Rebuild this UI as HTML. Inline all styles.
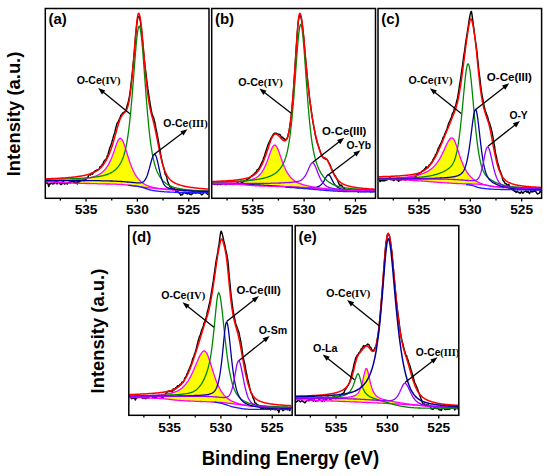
<!DOCTYPE html>
<html><head><meta charset="utf-8"><style>
html,body{margin:0;padding:0;background:#fff;}
svg{display:block;}
text{font-family:"Liberation Sans",sans-serif;font-weight:bold;fill:#000;}
.tk{font-size:13.7px;}
.pl{font-size:15px;}
.lb{font-size:10.3px;}
.lbs{font-family:"Liberation Serif",serif;font-weight:bold;}
.lbw{letter-spacing:0.75px;}
.ax{font-size:18.4px;}
.ax2{font-size:20.3px;}
</style></head><body>
<svg width="550" height="476" viewBox="0 0 550 476">
<defs>
<clipPath id="ca"><rect x="45.3" y="8.5" width="163.7" height="189.8"/></clipPath>
<clipPath id="cb"><rect x="211.7" y="8.5" width="163.8" height="189.8"/></clipPath>
<clipPath id="cc"><rect x="378" y="8.5" width="163.6" height="189.8"/></clipPath>
<clipPath id="cd"><rect x="128.8" y="225.6" width="163.4" height="189.7"/></clipPath>
<clipPath id="ce"><rect x="295.2" y="225.6" width="163.6" height="189.7"/></clipPath>
</defs>
<g clip-path="url(#ca)">
<path d="M45.8,181.1 L46.3,181.0 L46.8,181.0 L47.3,181.0 L47.8,181.0 L48.3,181.0 L48.8,181.0 L49.3,181.0 L49.8,181.0 L50.3,181.0 L50.8,181.0 L51.3,180.9 L51.8,180.9 L52.3,180.9 L52.8,180.9 L53.3,180.9 L53.8,180.9 L54.3,180.9 L54.8,180.8 L55.3,180.8 L55.8,180.8 L56.3,180.8 L56.8,180.8 L57.3,180.8 L57.8,180.8 L58.3,180.7 L58.8,180.7 L59.3,180.7 L59.8,180.7 L60.3,180.7 L60.8,180.7 L61.3,180.6 L61.8,180.6 L62.3,180.6 L62.8,180.6 L63.3,180.6 L63.8,180.5 L64.3,180.5 L64.8,180.5 L65.3,180.5 L65.8,180.4 L66.3,180.4 L66.8,180.4 L67.3,180.4 L67.8,180.3 L68.3,180.3 L68.8,180.3 L69.3,180.3 L69.8,180.2 L70.3,180.2 L70.8,180.2 L71.3,180.1 L71.8,180.1 L72.3,180.1 L72.8,180.0 L73.3,180.0 L73.8,180.0 L74.3,179.9 L74.8,179.9 L75.3,179.9 L75.8,179.8 L76.3,179.8 L76.8,179.7 L77.3,179.7 L77.8,179.6 L78.3,179.6 L78.8,179.5 L79.3,179.5 L79.8,179.4 L80.3,179.4 L80.8,179.3 L81.3,179.3 L81.8,179.2 L82.3,179.1 L82.8,179.1 L83.3,179.0 L83.8,178.9 L84.3,178.9 L84.8,178.8 L85.3,178.7 L85.8,178.6 L86.3,178.5 L86.8,178.4 L87.3,178.3 L87.8,178.3 L88.3,178.2 L88.8,178.0 L89.3,177.9 L89.8,177.8 L90.3,177.7 L90.8,177.6 L91.3,177.4 L91.8,177.3 L92.3,177.2 L92.8,177.0 L93.3,176.9 L93.8,176.7 L94.3,176.5 L94.8,176.4 L95.3,176.2 L95.8,176.0 L96.3,175.8 L96.8,175.5 L97.3,175.3 L97.8,175.1 L98.3,174.8 L98.8,174.5 L99.3,174.2 L99.8,173.9 L100.3,173.6 L100.8,173.3 L101.3,172.9 L101.8,172.5 L102.3,172.1 L102.8,171.7 L103.3,171.2 L103.8,170.8 L104.3,170.2 L104.8,169.7 L105.3,169.1 L105.8,168.5 L106.3,167.8 L106.8,167.1 L107.3,166.4 L107.8,165.6 L108.3,164.8 L108.8,163.9 L109.3,162.9 L109.8,161.9 L110.3,160.9 L110.8,159.8 L111.3,158.6 L111.8,157.4 L112.3,156.1 L112.8,154.8 L113.3,153.4 L113.8,152.0 L114.3,150.6 L114.8,149.1 L115.3,147.6 L115.8,146.2 L116.3,144.8 L116.8,143.5 L117.3,142.2 L117.8,141.1 L118.3,140.2 L118.8,139.4 L119.3,138.8 L119.8,138.4 L120.3,138.3 L120.8,138.5 L121.3,138.9 L121.8,139.4 L122.3,140.2 L122.8,141.1 L123.3,142.2 L123.8,143.5 L124.3,144.8 L124.8,146.3 L125.3,147.8 L125.8,149.4 L126.3,151.0 L126.8,152.6 L127.3,154.3 L127.8,155.9 L128.3,157.5 L128.8,159.0 L129.3,160.6 L129.8,162.0 L130.3,163.5 L130.8,164.8 L131.3,166.1 L131.8,167.4 L132.3,168.6 L132.8,169.7 L133.3,170.8 L133.8,171.8 L134.3,172.8 L134.8,173.7 L135.3,174.6 L135.8,175.4 L136.3,176.2 L136.8,176.9 L137.3,177.6 L137.8,178.2 L138.3,178.9 L138.8,179.4 L139.3,180.0 L139.8,180.5 L140.3,181.0 L140.8,181.4 L141.3,181.9 L141.8,182.3 L142.3,182.7 L142.8,183.0 L143.3,183.4 L143.8,183.7 L144.3,184.0 L144.8,184.3 L145.3,184.5 L145.8,184.8 L146.3,185.0 L146.8,185.3 L147.3,185.5 L147.8,185.7 L148.3,185.9 L148.8,186.1 L149.3,186.3 L149.8,186.4 L150.3,186.6 L150.8,186.8 L151.3,186.9 L151.8,187.1 L152.3,187.2 L152.8,187.3 L153.3,187.4 L153.8,187.6 L154.3,187.7 L154.8,187.8 L155.3,187.9 L155.8,188.0 L156.3,188.1 L156.8,188.2 L157.3,188.3 L157.8,188.4 L158.3,188.4 L158.8,188.5 L159.3,188.6 L159.8,188.7 L160.3,188.7 L160.8,188.7 L161.3,188.8 L161.8,188.8 L162.3,188.8 L162.8,188.9 L163.3,188.9 L163.8,188.9 L164.3,189.0 L164.8,189.0 L165.3,189.0 L165.8,189.1 L166.3,189.1 L166.8,189.1 L167.3,189.2 L167.8,189.2 L168.3,189.2 L168.8,189.2 L169.3,189.3 L169.8,189.3 L170.3,189.3 L170.8,189.4 L171.3,189.4 L171.8,189.4 L172.3,189.5 L172.8,189.5 L173.3,189.5 L173.8,189.6 L174.3,189.6 L174.8,189.6 L175.3,189.6 L175.8,189.7 L176.3,189.7 L176.8,189.7 L177.3,189.8 L177.8,189.8 L178.3,189.8 L178.8,189.8 L179.3,189.9 L179.8,189.9 L180.3,189.9 L180.8,190.0 L181.3,190.0 L181.8,190.0 L182.3,190.0 L182.8,190.1 L183.3,190.1 L183.8,190.1 L184.3,190.2 L184.8,190.2 L185.3,190.2 L185.8,190.2 L186.3,190.3 L186.8,190.3 L187.3,190.3 L187.8,190.4 L188.3,190.4 L188.8,190.4 L189.3,190.5 L189.8,190.5 L190.3,190.5 L190.8,190.5 L191.3,190.6 L191.8,190.6 L192.3,190.6 L192.8,190.7 L193.3,190.7 L193.8,190.7 L194.3,190.7 L194.8,190.8 L195.3,190.8 L195.8,190.8 L196.3,190.9 L196.8,190.9 L197.3,190.9 L197.8,190.9 L198.3,190.9 L198.8,191.0 L199.3,191.0 L199.8,191.0 L200.3,191.0 L200.8,191.0 L201.3,191.0 L201.8,191.0 L202.3,191.0 L202.8,191.0 L203.3,191.0 L203.8,191.1 L204.3,191.1 L204.8,191.1 L205.3,191.1 L205.8,191.1 L206.3,191.1 L206.8,191.1 L207.3,191.1 L207.8,191.1 L208.3,191.1 L208.3,191.6 L207.8,191.5 L207.3,191.5 L206.8,191.5 L206.3,191.4 L205.8,191.4 L205.3,191.4 L204.8,191.4 L204.3,191.3 L203.8,191.3 L203.3,191.3 L202.8,191.2 L202.3,191.2 L201.8,191.2 L201.3,191.2 L200.8,191.1 L200.3,191.1 L199.8,191.1 L199.3,191.0 L198.8,191.0 L198.3,191.0 L197.8,191.0 L197.3,190.9 L196.8,190.9 L196.3,190.9 L195.8,190.8 L195.3,190.8 L194.8,190.8 L194.3,190.7 L193.8,190.7 L193.3,190.7 L192.8,190.7 L192.3,190.6 L191.8,190.6 L191.3,190.6 L190.8,190.5 L190.3,190.5 L189.8,190.5 L189.3,190.5 L188.8,190.4 L188.3,190.4 L187.8,190.4 L187.3,190.3 L186.8,190.3 L186.3,190.3 L185.8,190.2 L185.3,190.2 L184.8,190.2 L184.3,190.2 L183.8,190.1 L183.3,190.1 L182.8,190.1 L182.3,190.0 L181.8,190.0 L181.3,190.0 L180.8,190.0 L180.3,189.9 L179.8,189.9 L179.3,189.9 L178.8,189.8 L178.3,189.8 L177.8,189.8 L177.3,189.8 L176.8,189.7 L176.3,189.7 L175.8,189.7 L175.3,189.6 L174.8,189.6 L174.3,189.6 L173.8,189.6 L173.3,189.5 L172.8,189.5 L172.3,189.5 L171.8,189.4 L171.3,189.4 L170.8,189.4 L170.3,189.3 L169.8,189.3 L169.3,189.3 L168.8,189.2 L168.3,189.2 L167.8,189.2 L167.3,189.2 L166.8,189.1 L166.3,189.1 L165.8,189.1 L165.3,189.0 L164.8,189.0 L164.3,189.0 L163.8,188.9 L163.3,188.9 L162.8,188.9 L162.3,188.8 L161.8,188.8 L161.3,188.8 L160.8,188.7 L160.3,188.7 L159.8,188.7 L159.3,188.6 L158.8,188.6 L158.3,188.6 L157.8,188.5 L157.3,188.5 L156.8,188.5 L156.3,188.4 L155.8,188.4 L155.3,188.3 L154.8,188.3 L154.3,188.3 L153.8,188.2 L153.3,188.2 L152.8,188.2 L152.3,188.1 L151.8,188.1 L151.3,188.0 L150.8,188.0 L150.3,187.9 L149.8,187.9 L149.3,187.9 L148.8,187.8 L148.3,187.8 L147.8,187.7 L147.3,187.7 L146.8,187.6 L146.3,187.6 L145.8,187.5 L145.3,187.5 L144.8,187.4 L144.3,187.4 L143.8,187.3 L143.3,187.2 L142.8,187.2 L142.3,187.1 L141.8,187.0 L141.3,186.9 L140.8,186.9 L140.3,186.8 L139.8,186.7 L139.3,186.6 L138.8,186.5 L138.3,186.5 L137.8,186.4 L137.3,186.3 L136.8,186.2 L136.3,186.2 L135.8,186.1 L135.3,186.0 L134.8,186.0 L134.3,185.9 L133.8,185.8 L133.3,185.8 L132.8,185.7 L132.3,185.7 L131.8,185.6 L131.3,185.5 L130.8,185.5 L130.3,185.4 L129.8,185.3 L129.3,185.3 L128.8,185.2 L128.3,185.2 L127.8,185.1 L127.3,185.0 L126.8,185.0 L126.3,184.9 L125.8,184.9 L125.3,184.8 L124.8,184.8 L124.3,184.7 L123.8,184.7 L123.3,184.6 L122.8,184.6 L122.3,184.5 L121.8,184.5 L121.3,184.5 L120.8,184.4 L120.3,184.4 L119.8,184.4 L119.3,184.4 L118.8,184.3 L118.3,184.3 L117.8,184.3 L117.3,184.3 L116.8,184.3 L116.3,184.2 L115.8,184.2 L115.3,184.2 L114.8,184.2 L114.3,184.2 L113.8,184.2 L113.3,184.1 L112.8,184.1 L112.3,184.1 L111.8,184.1 L111.3,184.1 L110.8,184.1 L110.3,184.1 L109.8,184.0 L109.3,184.0 L108.8,184.0 L108.3,184.0 L107.8,184.0 L107.3,184.0 L106.8,184.0 L106.3,184.0 L105.8,184.0 L105.3,183.9 L104.8,183.9 L104.3,183.9 L103.8,183.9 L103.3,183.9 L102.8,183.9 L102.3,183.9 L101.8,183.9 L101.3,183.9 L100.8,183.8 L100.3,183.8 L99.8,183.8 L99.3,183.8 L98.8,183.8 L98.3,183.8 L97.8,183.8 L97.3,183.8 L96.8,183.7 L96.3,183.7 L95.8,183.7 L95.3,183.7 L94.8,183.7 L94.3,183.7 L93.8,183.7 L93.3,183.7 L92.8,183.6 L92.3,183.6 L91.8,183.6 L91.3,183.6 L90.8,183.6 L90.3,183.6 L89.8,183.6 L89.3,183.5 L88.8,183.5 L88.3,183.5 L87.8,183.5 L87.3,183.5 L86.8,183.5 L86.3,183.5 L85.8,183.5 L85.3,183.4 L84.8,183.4 L84.3,183.4 L83.8,183.4 L83.3,183.4 L82.8,183.4 L82.3,183.4 L81.8,183.4 L81.3,183.3 L80.8,183.3 L80.3,183.3 L79.8,183.3 L79.3,183.3 L78.8,183.3 L78.3,183.3 L77.8,183.3 L77.3,183.2 L76.8,183.2 L76.3,183.2 L75.8,183.2 L75.3,183.2 L74.8,183.2 L74.3,183.1 L73.8,183.1 L73.3,183.1 L72.8,183.1 L72.3,183.1 L71.8,183.1 L71.3,183.0 L70.8,183.0 L70.3,183.0 L69.8,183.0 L69.3,183.0 L68.8,183.0 L68.3,182.9 L67.8,182.9 L67.3,182.9 L66.8,182.9 L66.3,182.8 L65.8,182.8 L65.3,182.8 L64.8,182.8 L64.3,182.8 L63.8,182.7 L63.3,182.7 L62.8,182.7 L62.3,182.7 L61.8,182.6 L61.3,182.6 L60.8,182.6 L60.3,182.6 L59.8,182.5 L59.3,182.5 L58.8,182.5 L58.3,182.4 L57.8,182.4 L57.3,182.4 L56.8,182.4 L56.3,182.3 L55.8,182.3 L55.3,182.3 L54.8,182.2 L54.3,182.2 L53.8,182.2 L53.3,182.2 L52.8,182.1 L52.3,182.1 L51.8,182.1 L51.3,182.0 L50.8,182.0 L50.3,182.0 L49.8,181.9 L49.3,181.9 L48.8,181.9 L48.3,181.8 L47.8,181.8 L47.3,181.8 L46.8,181.7 L46.3,181.7 L45.8,181.7 Z" fill="#ffff00"/>
<path d="M45.8,183.5 L46.3,183.1 L46.8,183.1 L47.3,182.7 L47.8,183.0 L48.3,185.0 L48.8,186.6 L49.3,184.5 L49.8,183.5 L50.3,184.0 L50.8,183.2 L51.3,183.2 L51.8,183.1 L52.3,183.8 L52.8,184.1 L53.3,183.8 L53.8,182.4 L54.3,182.8 L54.8,183.6 L55.3,181.8 L55.8,181.4 L56.3,181.5 L56.8,183.8 L57.3,183.8 L57.8,181.6 L58.3,182.8 L58.8,182.8 L59.3,182.9 L59.8,183.3 L60.3,184.3 L60.8,184.6 L61.3,184.3 L61.8,182.4 L62.3,182.2 L62.8,183.7 L63.3,181.5 L63.8,182.4 L64.3,183.8 L64.8,184.1 L65.3,183.6 L65.8,183.5 L66.3,183.3 L66.8,183.6 L67.3,184.1 L67.8,183.0 L68.3,183.0 L68.8,182.6 L69.3,182.1 L69.8,182.0 L70.3,182.9 L70.8,182.5 L71.3,181.3 L71.8,181.2 L72.3,180.3 L72.8,181.4 L73.3,182.4 L73.8,180.9 L74.3,181.3 L74.8,182.6 L75.3,183.2 L75.8,182.4 L76.3,181.7 L76.8,183.4 L77.3,184.0 L77.8,181.7 L78.3,181.0 L78.8,181.8 L79.3,181.9 L79.8,181.4 L80.3,180.9 L80.8,180.9 L81.3,180.1 L81.8,180.5 L82.3,180.3 L82.8,180.3 L83.3,178.9 L83.8,179.2 L84.3,180.7 L84.8,180.3 L85.3,180.1 L85.8,179.5 L86.3,178.7 L86.8,178.4 L87.3,177.3 L87.8,177.1 L88.3,176.5 L88.8,174.9 L89.3,174.8 L89.8,174.5 L90.3,175.1 L90.8,174.2 L91.3,173.1 L91.8,173.1 L92.3,174.3 L92.8,173.7 L93.3,172.4 L93.8,172.1 L94.3,171.4 L94.8,171.3 L95.3,170.8 L95.8,170.7 L96.3,170.4 L96.8,169.9 L97.3,170.0 L97.8,169.6 L98.3,169.7 L98.8,169.4 L99.3,168.8 L99.8,167.4 L100.3,166.4 L100.8,166.4 L101.3,166.1 L101.8,165.3 L102.3,164.4 L102.8,164.6 L103.3,163.0 L103.8,161.5 L104.3,160.8 L104.8,160.0 L105.3,160.0 L105.8,160.1 L106.3,158.6 L106.8,157.4 L107.3,155.8 L107.8,155.0 L108.3,153.6 L108.8,151.3 L109.3,149.7 L109.8,147.5 L110.3,146.6 L110.8,145.5 L111.3,144.1 L111.8,142.4 L112.3,140.5 L112.8,139.0 L113.3,136.9 L113.8,134.9 L114.3,133.7 L114.8,132.4 L115.3,130.0 L115.8,127.7 L116.3,126.0 L116.8,124.1 L117.3,123.0 L117.8,122.8 L118.3,121.5 L118.8,120.2 L119.3,119.3 L119.8,118.3 L120.3,117.0 L120.8,115.3 L121.3,115.0 L121.8,114.2 L122.3,113.6 L122.8,112.9 L123.3,112.4 L123.8,112.8 L124.3,112.4 L124.8,111.6 L125.3,110.8 L125.8,110.1 L126.3,109.1 L126.8,107.0 L127.3,104.9 L127.8,103.5 L128.3,101.7 L128.8,99.5 L129.3,97.1 L129.8,94.0 L130.3,90.4 L130.8,86.5 L131.3,81.8 L131.8,77.2 L132.3,73.0 L132.8,68.1 L133.3,63.0 L133.8,58.0 L134.3,52.6 L134.8,46.6 L135.3,39.9 L135.8,34.2 L136.3,29.4 L136.8,24.6 L137.3,20.7 L137.8,17.9 L138.3,16.8 L138.8,16.4 L139.3,16.7 L139.8,18.7 L140.3,21.0 L140.8,24.1 L141.3,27.9 L141.8,32.7 L142.3,38.7 L142.8,43.6 L143.3,49.0 L143.8,54.6 L144.3,59.6 L144.8,63.9 L145.3,68.0 L145.8,72.2 L146.3,76.5 L146.8,80.5 L147.3,84.3 L147.8,88.4 L148.3,91.7 L148.8,95.4 L149.3,98.0 L149.8,101.5 L150.3,104.9 L150.8,107.4 L151.3,110.3 L151.8,112.6 L152.3,114.7 L152.8,115.9 L153.3,116.8 L153.8,118.3 L154.3,120.4 L154.8,122.2 L155.3,124.4 L155.8,127.8 L156.3,129.9 L156.8,132.3 L157.3,135.2 L157.8,137.7 L158.3,140.6 L158.8,143.3 L159.3,145.9 L159.8,148.7 L160.3,152.1 L160.8,155.5 L161.3,157.7 L161.8,160.1 L162.3,162.8 L162.8,164.7 L163.3,166.3 L163.8,168.2 L164.3,169.9 L164.8,172.4 L165.3,174.5 L165.8,174.9 L166.3,176.1 L166.8,177.5 L167.3,180.3 L167.8,182.0 L168.3,182.6 L168.8,184.5 L169.3,185.0 L169.8,186.5 L170.3,186.8 L170.8,186.9 L171.3,187.8 L171.8,188.0 L172.3,188.1 L172.8,188.7 L173.3,189.4 L173.8,189.3 L174.3,188.8 L174.8,189.3 L175.3,190.4 L175.8,191.4 L176.3,191.5 L176.8,191.7 L177.3,192.4 L177.8,191.4 L178.3,191.9 L178.8,192.8 L179.3,193.1 L179.8,193.4 L180.3,194.5 L180.8,195.3 L181.3,194.3 L181.8,194.1 L182.3,194.8 L182.8,194.3 L183.3,192.4 L183.8,192.3 L184.3,192.9 L184.8,192.3 L185.3,192.1 L185.8,193.4 L186.3,193.5 L186.8,193.2 L187.3,194.0 L187.8,193.6 L188.3,193.5 L188.8,193.3 L189.3,193.2 L189.8,194.4 L190.3,194.6 L190.8,194.0 L191.3,194.7 L191.8,193.9 L192.3,194.0 L192.8,192.7 L193.3,191.9 L193.8,193.2 L194.3,192.8 L194.8,192.4 L195.3,192.7 L195.8,193.4 L196.3,192.6 L196.8,192.0 L197.3,192.8 L197.8,192.6 L198.3,192.6 L198.8,193.1 L199.3,193.2 L199.8,192.5 L200.3,192.5 L200.8,193.4 L201.3,194.7 L201.8,194.8 L202.3,194.6 L202.8,194.0 L203.3,193.4 L203.8,192.6 L204.3,191.9 L204.8,191.8 L205.3,192.0 L205.8,192.9 L206.3,192.9 L206.8,193.5 L207.3,194.1 L207.8,194.4 L208.3,194.7" fill="none" stroke="#000" stroke-width="1.4" stroke-linejoin="round"/>
<path d="M45.8,181.7 L46.3,181.7 L46.8,181.7 L47.3,181.8 L47.8,181.8 L48.3,181.8 L48.8,181.9 L49.3,181.9 L49.8,181.9 L50.3,182.0 L50.8,182.0 L51.3,182.0 L51.8,182.1 L52.3,182.1 L52.8,182.1 L53.3,182.2 L53.8,182.2 L54.3,182.2 L54.8,182.2 L55.3,182.3 L55.8,182.3 L56.3,182.3 L56.8,182.4 L57.3,182.4 L57.8,182.4 L58.3,182.4 L58.8,182.5 L59.3,182.5 L59.8,182.5 L60.3,182.6 L60.8,182.6 L61.3,182.6 L61.8,182.6 L62.3,182.7 L62.8,182.7 L63.3,182.7 L63.8,182.7 L64.3,182.8 L64.8,182.8 L65.3,182.8 L65.8,182.8 L66.3,182.8 L66.8,182.9 L67.3,182.9 L67.8,182.9 L68.3,182.9 L68.8,183.0 L69.3,183.0 L69.8,183.0 L70.3,183.0 L70.8,183.0 L71.3,183.0 L71.8,183.1 L72.3,183.1 L72.8,183.1 L73.3,183.1 L73.8,183.1 L74.3,183.1 L74.8,183.2 L75.3,183.2 L75.8,183.2 L76.3,183.2 L76.8,183.2 L77.3,183.2 L77.8,183.3 L78.3,183.3 L78.8,183.3 L79.3,183.3 L79.8,183.3 L80.3,183.3 L80.8,183.3 L81.3,183.3 L81.8,183.4 L82.3,183.4 L82.8,183.4 L83.3,183.4 L83.8,183.4 L84.3,183.4 L84.8,183.4 L85.3,183.4 L85.8,183.5 L86.3,183.5 L86.8,183.5 L87.3,183.5 L87.8,183.5 L88.3,183.5 L88.8,183.5 L89.3,183.5 L89.8,183.6 L90.3,183.6 L90.8,183.6 L91.3,183.6 L91.8,183.6 L92.3,183.6 L92.8,183.6 L93.3,183.7 L93.8,183.7 L94.3,183.7 L94.8,183.7 L95.3,183.7 L95.8,183.7 L96.3,183.7 L96.8,183.7 L97.3,183.8 L97.8,183.8 L98.3,183.8 L98.8,183.8 L99.3,183.8 L99.8,183.8 L100.3,183.8 L100.8,183.8 L101.3,183.9 L101.8,183.9 L102.3,183.9 L102.8,183.9 L103.3,183.9 L103.8,183.9 L104.3,183.9 L104.8,183.9 L105.3,183.9 L105.8,184.0 L106.3,184.0 L106.8,184.0 L107.3,184.0 L107.8,184.0 L108.3,184.0 L108.8,184.0 L109.3,184.0 L109.8,184.0 L110.3,184.1 L110.8,184.1 L111.3,184.1 L111.8,184.1 L112.3,184.1 L112.8,184.1 L113.3,184.1 L113.8,184.2 L114.3,184.2 L114.8,184.2 L115.3,184.2 L115.8,184.2 L116.3,184.2 L116.8,184.3 L117.3,184.3 L117.8,184.3 L118.3,184.3 L118.8,184.3 L119.3,184.4 L119.8,184.4 L120.3,184.4 L120.8,184.4 L121.3,184.5 L121.8,184.5 L122.3,184.5 L122.8,184.6 L123.3,184.6 L123.8,184.7 L124.3,184.7 L124.8,184.8 L125.3,184.8 L125.8,184.9 L126.3,184.9 L126.8,185.0 L127.3,185.0 L127.8,185.1 L128.3,185.2 L128.8,185.2 L129.3,185.3 L129.8,185.3 L130.3,185.4 L130.8,185.5 L131.3,185.5 L131.8,185.6 L132.3,185.7 L132.8,185.7 L133.3,185.8 L133.8,185.8 L134.3,185.9 L134.8,186.0 L135.3,186.0 L135.8,186.1 L136.3,186.2 L136.8,186.2 L137.3,186.3 L137.8,186.4 L138.3,186.5 L138.8,186.5 L139.3,186.6 L139.8,186.7 L140.3,186.8 L140.8,186.9 L141.3,186.9 L141.8,187.0 L142.3,187.1 L142.8,187.2 L143.3,187.2 L143.8,187.3 L144.3,187.4 L144.8,187.4 L145.3,187.5 L145.8,187.5 L146.3,187.6 L146.8,187.6 L147.3,187.7 L147.8,187.7 L148.3,187.8 L148.8,187.8 L149.3,187.9 L149.8,187.9 L150.3,187.9 L150.8,188.0 L151.3,188.0 L151.8,188.1 L152.3,188.1 L152.8,188.2 L153.3,188.2 L153.8,188.2 L154.3,188.3 L154.8,188.3 L155.3,188.3 L155.8,188.4 L156.3,188.4 L156.8,188.5 L157.3,188.5 L157.8,188.5 L158.3,188.6 L158.8,188.6 L159.3,188.6 L159.8,188.7 L160.3,188.7 L160.8,188.7 L161.3,188.8 L161.8,188.8 L162.3,188.8 L162.8,188.9 L163.3,188.9 L163.8,188.9 L164.3,189.0 L164.8,189.0 L165.3,189.0 L165.8,189.1 L166.3,189.1 L166.8,189.1 L167.3,189.2 L167.8,189.2 L168.3,189.2 L168.8,189.2 L169.3,189.3 L169.8,189.3 L170.3,189.3 L170.8,189.4 L171.3,189.4 L171.8,189.4 L172.3,189.5 L172.8,189.5 L173.3,189.5 L173.8,189.6 L174.3,189.6 L174.8,189.6 L175.3,189.6 L175.8,189.7 L176.3,189.7 L176.8,189.7 L177.3,189.8 L177.8,189.8 L178.3,189.8 L178.8,189.8 L179.3,189.9 L179.8,189.9 L180.3,189.9 L180.8,190.0 L181.3,190.0 L181.8,190.0 L182.3,190.0 L182.8,190.1 L183.3,190.1 L183.8,190.1 L184.3,190.2 L184.8,190.2 L185.3,190.2 L185.8,190.2 L186.3,190.3 L186.8,190.3 L187.3,190.3 L187.8,190.4 L188.3,190.4 L188.8,190.4 L189.3,190.5 L189.8,190.5 L190.3,190.5 L190.8,190.5 L191.3,190.6 L191.8,190.6 L192.3,190.6 L192.8,190.7 L193.3,190.7 L193.8,190.7 L194.3,190.7 L194.8,190.8 L195.3,190.8 L195.8,190.8 L196.3,190.9 L196.8,190.9 L197.3,190.9 L197.8,191.0 L198.3,191.0 L198.8,191.0 L199.3,191.0 L199.8,191.1 L200.3,191.1 L200.8,191.1 L201.3,191.2 L201.8,191.2 L202.3,191.2 L202.8,191.2 L203.3,191.3 L203.8,191.3 L204.3,191.3 L204.8,191.4 L205.3,191.4 L205.8,191.4 L206.3,191.4 L206.8,191.5 L207.3,191.5 L207.8,191.5 L208.3,191.6" fill="none" stroke="#ff00ff" stroke-width="1.3"/>
<path d="M128.3,185.3 L128.8,185.3 L129.3,185.4 L129.8,185.4 L130.3,185.5 L130.8,185.5 L131.3,185.5 L131.8,185.6 L132.3,185.6 L132.8,185.7 L133.3,185.8 L133.8,185.8 L134.3,185.9 L134.8,185.9 L135.3,186.0 L135.8,186.1 L136.3,186.1 L136.8,186.2 L137.3,186.3 L137.8,186.3 L138.3,186.4 L138.8,186.5 L139.3,186.6 L139.8,186.7 L140.3,186.8 L140.8,186.9 L141.3,187.1 L141.8,187.2 L142.3,187.4 L142.8,187.5 L143.3,187.7 L143.8,187.9 L144.3,188.0 L144.8,188.2 L145.3,188.4 L145.8,188.6 L146.3,188.7 L146.8,188.9 L147.3,189.1 L147.8,189.2 L148.3,189.4 L148.8,189.6 L149.3,189.7 L149.8,189.9 L150.3,190.0 L150.8,190.1 L151.3,190.2 L151.8,190.3 L152.3,190.4 L152.8,190.5 L153.3,190.6 L153.8,190.7 L154.3,190.7 L154.8,190.8 L155.3,190.9 L155.8,190.9 L156.3,191.0 L156.8,191.1 L157.3,191.1 L157.8,191.2 L158.3,191.2 L158.8,191.3 L159.3,191.3 L159.8,191.4 L160.3,191.4 L160.8,191.5 L161.3,191.5 L161.8,191.6 L162.3,191.6 L162.8,191.7 L163.3,191.7 L163.8,191.7 L164.3,191.8 L164.8,191.8 L165.3,191.8 L165.8,191.9 L166.3,191.9 L166.8,191.9 L167.3,191.9 L167.8,192.0 L168.3,192.0 L168.8,192.0 L169.3,192.0 L169.8,192.1 L170.3,192.1 L170.8,192.1 L171.3,192.1 L171.8,192.2 L172.3,192.2 L172.8,192.2 L173.3,192.2 L173.8,192.2 L174.3,192.3 L174.8,192.3 L175.3,192.3 L175.8,192.3 L176.3,192.3 L176.8,192.3 L177.3,192.3 L177.8,192.4 L178.3,192.4 L178.8,192.4 L179.3,192.4 L179.8,192.4 L180.3,192.4 L180.8,192.4 L181.3,192.4 L181.8,192.4 L182.3,192.4 L182.8,192.4 L183.3,192.4 L183.8,192.4 L184.3,192.5 L184.8,192.5 L185.3,192.5 L185.8,192.5 L186.3,192.5 L186.8,192.5 L187.3,192.5 L187.8,192.5 L188.3,192.5 L188.8,192.5 L189.3,192.5 L189.8,192.5 L190.3,192.5 L190.8,192.5 L191.3,192.5 L191.8,192.5 L192.3,192.5 L192.8,192.5 L193.3,192.5 L193.8,192.5 L194.3,192.5 L194.8,192.5 L195.3,192.6 L195.8,192.6 L196.3,192.6 L196.8,192.6 L197.3,192.6 L197.8,192.6 L198.3,192.6 L198.8,192.6 L199.3,192.6 L199.8,192.6 L200.3,192.6 L200.8,192.6 L201.3,192.6 L201.8,192.6 L202.3,192.6 L202.8,192.6 L203.3,192.6 L203.8,192.6 L204.3,192.6 L204.8,192.6 L205.3,192.6 L205.8,192.6 L206.3,192.6 L206.8,192.6 L207.3,192.6 L207.8,192.6 L208.3,192.6" fill="none" stroke="#1a1aff" stroke-width="1.3"/>
<path d="M45.8,181.1 L46.3,181.0 L46.8,181.0 L47.3,181.0 L47.8,181.0 L48.3,181.0 L48.8,181.0 L49.3,181.0 L49.8,181.0 L50.3,181.0 L50.8,181.0 L51.3,180.9 L51.8,180.9 L52.3,180.9 L52.8,180.9 L53.3,180.9 L53.8,180.9 L54.3,180.9 L54.8,180.8 L55.3,180.8 L55.8,180.8 L56.3,180.8 L56.8,180.8 L57.3,180.8 L57.8,180.8 L58.3,180.7 L58.8,180.7 L59.3,180.7 L59.8,180.7 L60.3,180.7 L60.8,180.7 L61.3,180.6 L61.8,180.6 L62.3,180.6 L62.8,180.6 L63.3,180.6 L63.8,180.5 L64.3,180.5 L64.8,180.5 L65.3,180.5 L65.8,180.4 L66.3,180.4 L66.8,180.4 L67.3,180.4 L67.8,180.3 L68.3,180.3 L68.8,180.3 L69.3,180.3 L69.8,180.2 L70.3,180.2 L70.8,180.2 L71.3,180.1 L71.8,180.1 L72.3,180.1 L72.8,180.0 L73.3,180.0 L73.8,180.0 L74.3,179.9 L74.8,179.9 L75.3,179.9 L75.8,179.8 L76.3,179.8 L76.8,179.7 L77.3,179.7 L77.8,179.6 L78.3,179.6 L78.8,179.5 L79.3,179.5 L79.8,179.4 L80.3,179.4 L80.8,179.3 L81.3,179.3 L81.8,179.2 L82.3,179.1 L82.8,179.1 L83.3,179.0 L83.8,178.9 L84.3,178.9 L84.8,178.8 L85.3,178.7 L85.8,178.6 L86.3,178.5 L86.8,178.4 L87.3,178.3 L87.8,178.3 L88.3,178.2 L88.8,178.0 L89.3,177.9 L89.8,177.8 L90.3,177.7 L90.8,177.6 L91.3,177.4 L91.8,177.3 L92.3,177.2 L92.8,177.0 L93.3,176.9 L93.8,176.7 L94.3,176.5 L94.8,176.4 L95.3,176.2 L95.8,176.0 L96.3,175.8 L96.8,175.5 L97.3,175.3 L97.8,175.1 L98.3,174.8 L98.8,174.5 L99.3,174.2 L99.8,173.9 L100.3,173.6 L100.8,173.3 L101.3,172.9 L101.8,172.5 L102.3,172.1 L102.8,171.7 L103.3,171.2 L103.8,170.8 L104.3,170.2 L104.8,169.7 L105.3,169.1 L105.8,168.5 L106.3,167.8 L106.8,167.1 L107.3,166.4 L107.8,165.6 L108.3,164.8 L108.8,163.9 L109.3,162.9 L109.8,161.9 L110.3,160.9 L110.8,159.8 L111.3,158.6 L111.8,157.4 L112.3,156.1 L112.8,154.8 L113.3,153.4 L113.8,152.0 L114.3,150.6 L114.8,149.1 L115.3,147.6 L115.8,146.2 L116.3,144.8 L116.8,143.5 L117.3,142.2 L117.8,141.1 L118.3,140.2 L118.8,139.4 L119.3,138.8 L119.8,138.4 L120.3,138.3 L120.8,138.5 L121.3,138.9 L121.8,139.4 L122.3,140.2 L122.8,141.1 L123.3,142.2 L123.8,143.5 L124.3,144.8 L124.8,146.3 L125.3,147.8 L125.8,149.4 L126.3,151.0 L126.8,152.6 L127.3,154.3 L127.8,155.9 L128.3,157.5 L128.8,159.0 L129.3,160.6 L129.8,162.0 L130.3,163.5 L130.8,164.8 L131.3,166.1 L131.8,167.4 L132.3,168.6 L132.8,169.7 L133.3,170.8 L133.8,171.8 L134.3,172.8 L134.8,173.7 L135.3,174.6 L135.8,175.4 L136.3,176.2 L136.8,176.9 L137.3,177.6 L137.8,178.2 L138.3,178.9 L138.8,179.4 L139.3,180.0 L139.8,180.5 L140.3,181.0 L140.8,181.4 L141.3,181.9 L141.8,182.3 L142.3,182.7 L142.8,183.0 L143.3,183.4 L143.8,183.7 L144.3,184.0 L144.8,184.3 L145.3,184.5 L145.8,184.8 L146.3,185.0 L146.8,185.3 L147.3,185.5 L147.8,185.7 L148.3,185.9 L148.8,186.1 L149.3,186.3 L149.8,186.4 L150.3,186.6 L150.8,186.8 L151.3,186.9 L151.8,187.1 L152.3,187.2 L152.8,187.3 L153.3,187.4 L153.8,187.6 L154.3,187.7 L154.8,187.8 L155.3,187.9 L155.8,188.0 L156.3,188.1 L156.8,188.2 L157.3,188.3 L157.8,188.4 L158.3,188.4 L158.8,188.5 L159.3,188.6 L159.8,188.7 L160.3,188.8 L160.8,188.8 L161.3,188.9 L161.8,189.0 L162.3,189.0 L162.8,189.1 L163.3,189.1 L163.8,189.2 L164.3,189.3 L164.8,189.3 L165.3,189.4 L165.8,189.4 L166.3,189.5 L166.8,189.5 L167.3,189.6 L167.8,189.6 L168.3,189.6 L168.8,189.7 L169.3,189.7 L169.8,189.8 L170.3,189.8 L170.8,189.8 L171.3,189.9 L171.8,189.9 L172.3,189.9 L172.8,190.0 L173.3,190.0 L173.8,190.0 L174.3,190.1 L174.8,190.1 L175.3,190.1 L175.8,190.2 L176.3,190.2 L176.8,190.2 L177.3,190.2 L177.8,190.3 L178.3,190.3 L178.8,190.3 L179.3,190.3 L179.8,190.4 L180.3,190.4 L180.8,190.4 L181.3,190.4 L181.8,190.5 L182.3,190.5 L182.8,190.5 L183.3,190.5 L183.8,190.5 L184.3,190.6 L184.8,190.6 L185.3,190.6 L185.8,190.6 L186.3,190.6 L186.8,190.6 L187.3,190.7 L187.8,190.7 L188.3,190.7 L188.8,190.7 L189.3,190.7 L189.8,190.7 L190.3,190.8 L190.8,190.8 L191.3,190.8 L191.8,190.8 L192.3,190.8 L192.8,190.8 L193.3,190.8 L193.8,190.8 L194.3,190.9 L194.8,190.9 L195.3,190.9 L195.8,190.9 L196.3,190.9 L196.8,190.9 L197.3,190.9 L197.8,190.9 L198.3,190.9 L198.8,191.0 L199.3,191.0 L199.8,191.0 L200.3,191.0 L200.8,191.0 L201.3,191.0 L201.8,191.0 L202.3,191.0 L202.8,191.0 L203.3,191.0 L203.8,191.1 L204.3,191.1 L204.8,191.1 L205.3,191.1 L205.8,191.1 L206.3,191.1 L206.8,191.1 L207.3,191.1 L207.8,191.1 L208.3,191.1" fill="none" stroke="#ff00ff" stroke-width="1.3"/>
<path d="M45.8,179.3 L46.3,179.3 L46.8,179.3 L47.3,179.3 L47.8,179.3 L48.3,179.3 L48.8,179.3 L49.3,179.3 L49.8,179.3 L50.3,179.3 L50.8,179.3 L51.3,179.2 L51.8,179.2 L52.3,179.2 L52.8,179.2 L53.3,179.2 L53.8,179.2 L54.3,179.2 L54.8,179.2 L55.3,179.2 L55.8,179.2 L56.3,179.1 L56.8,179.1 L57.3,179.1 L57.8,179.1 L58.3,179.1 L58.8,179.1 L59.3,179.1 L59.8,179.1 L60.3,179.1 L60.8,179.0 L61.3,179.0 L61.8,179.0 L62.3,179.0 L62.8,179.0 L63.3,179.0 L63.8,179.0 L64.3,179.0 L64.8,178.9 L65.3,178.9 L65.8,178.9 L66.3,178.9 L66.8,178.9 L67.3,178.9 L67.8,178.8 L68.3,178.8 L68.8,178.8 L69.3,178.8 L69.8,178.8 L70.3,178.8 L70.8,178.7 L71.3,178.7 L71.8,178.7 L72.3,178.7 L72.8,178.7 L73.3,178.6 L73.8,178.6 L74.3,178.6 L74.8,178.6 L75.3,178.6 L75.8,178.5 L76.3,178.5 L76.8,178.5 L77.3,178.5 L77.8,178.4 L78.3,178.4 L78.8,178.4 L79.3,178.4 L79.8,178.3 L80.3,178.3 L80.8,178.3 L81.3,178.2 L81.8,178.2 L82.3,178.2 L82.8,178.2 L83.3,178.1 L83.8,178.1 L84.3,178.1 L84.8,178.0 L85.3,178.0 L85.8,177.9 L86.3,177.9 L86.8,177.9 L87.3,177.8 L87.8,177.8 L88.3,177.7 L88.8,177.7 L89.3,177.7 L89.8,177.6 L90.3,177.6 L90.8,177.5 L91.3,177.5 L91.8,177.4 L92.3,177.4 L92.8,177.3 L93.3,177.2 L93.8,177.2 L94.3,177.1 L94.8,177.1 L95.3,177.0 L95.8,176.9 L96.3,176.9 L96.8,176.8 L97.3,176.7 L97.8,176.6 L98.3,176.6 L98.8,176.5 L99.3,176.4 L99.8,176.3 L100.3,176.2 L100.8,176.1 L101.3,176.0 L101.8,175.9 L102.3,175.8 L102.8,175.7 L103.3,175.6 L103.8,175.4 L104.3,175.3 L104.8,175.2 L105.3,175.0 L105.8,174.9 L106.3,174.7 L106.8,174.6 L107.3,174.4 L107.8,174.2 L108.3,174.0 L108.8,173.8 L109.3,173.6 L109.8,173.4 L110.3,173.1 L110.8,172.9 L111.3,172.6 L111.8,172.3 L112.3,172.0 L112.8,171.7 L113.3,171.4 L113.8,171.0 L114.3,170.6 L114.8,170.2 L115.3,169.8 L115.8,169.3 L116.3,168.9 L116.8,168.3 L117.3,167.8 L117.8,167.2 L118.3,166.6 L118.8,165.9 L119.3,165.2 L119.8,164.4 L120.3,163.6 L120.8,162.7 L121.3,161.7 L121.8,160.7 L122.3,159.6 L122.8,158.3 L123.3,157.0 L123.8,155.5 L124.3,153.8 L124.8,152.0 L125.3,150.0 L125.8,147.9 L126.3,145.4 L126.8,142.8 L127.3,139.9 L127.8,136.7 L128.3,133.2 L128.8,129.3 L129.3,125.2 L129.8,120.7 L130.3,115.9 L130.8,110.8 L131.3,105.3 L131.8,99.6 L132.3,93.6 L132.8,87.4 L133.3,81.0 L133.8,74.5 L134.3,67.9 L134.8,61.4 L135.3,55.1 L135.8,49.1 L136.3,43.5 L136.8,38.4 L137.3,34.1 L137.8,30.5 L138.3,28.0 L138.8,26.6 L139.3,26.2 L139.8,27.1 L140.3,29.0 L140.8,32.0 L141.3,35.9 L141.8,40.6 L142.3,46.0 L142.8,51.9 L143.3,58.3 L143.8,64.9 L144.3,71.6 L144.8,78.5 L145.3,85.2 L145.8,91.9 L146.3,98.4 L146.8,104.7 L147.3,110.8 L147.8,116.5 L148.3,121.9 L148.8,127.0 L149.3,131.8 L149.8,136.2 L150.3,140.3 L150.8,144.1 L151.3,147.5 L151.8,150.7 L152.3,153.6 L152.8,156.3 L153.3,158.7 L153.8,160.9 L154.3,162.9 L154.8,164.8 L155.3,166.4 L155.8,168.0 L156.3,169.4 L156.8,170.7 L157.3,171.9 L157.8,173.0 L158.3,174.0 L158.8,175.0 L159.3,175.8 L159.8,176.7 L160.3,177.4 L160.8,178.1 L161.3,178.8 L161.8,179.4 L162.3,180.0 L162.8,180.6 L163.3,181.1 L163.8,181.6 L164.3,182.1 L164.8,182.5 L165.3,182.9 L165.8,183.3 L166.3,183.7 L166.8,184.0 L167.3,184.3 L167.8,184.7 L168.3,184.9 L168.8,185.2 L169.3,185.5 L169.8,185.7 L170.3,185.9 L170.8,186.2 L171.3,186.4 L171.8,186.6 L172.3,186.8 L172.8,186.9 L173.3,187.1 L173.8,187.3 L174.3,187.4 L174.8,187.6 L175.3,187.7 L175.8,187.8 L176.3,187.9 L176.8,188.1 L177.3,188.2 L177.8,188.3 L178.3,188.4 L178.8,188.5 L179.3,188.6 L179.8,188.7 L180.3,188.8 L180.8,188.9 L181.3,188.9 L181.8,189.0 L182.3,189.1 L182.8,189.2 L183.3,189.3 L183.8,189.3 L184.3,189.4 L184.8,189.5 L185.3,189.5 L185.8,189.6 L186.3,189.6 L186.8,189.7 L187.3,189.8 L187.8,189.8 L188.3,189.9 L188.8,189.9 L189.3,190.0 L189.8,190.0 L190.3,190.1 L190.8,190.1 L191.3,190.1 L191.8,190.2 L192.3,190.2 L192.8,190.3 L193.3,190.3 L193.8,190.4 L194.3,190.4 L194.8,190.4 L195.3,190.5 L195.8,190.5 L196.3,190.5 L196.8,190.6 L197.3,190.6 L197.8,190.6 L198.3,190.7 L198.8,190.7 L199.3,190.7 L199.8,190.8 L200.3,190.8 L200.8,190.8 L201.3,190.8 L201.8,190.9 L202.3,190.9 L202.8,190.9 L203.3,190.9 L203.8,191.0 L204.3,191.0 L204.8,191.0 L205.3,191.0 L205.8,191.0 L206.3,191.1 L206.8,191.1 L207.3,191.1 L207.8,191.1 L208.3,191.2" fill="none" stroke="#008800" stroke-width="1.3"/>
<path d="M45.8,180.6 L46.3,180.6 L46.8,180.6 L47.3,180.6 L47.8,180.6 L48.3,180.6 L48.8,180.6 L49.3,180.6 L49.8,180.6 L50.3,180.6 L50.8,180.6 L51.3,180.6 L51.8,180.6 L52.3,180.6 L52.8,180.6 L53.3,180.6 L53.8,180.6 L54.3,180.6 L54.8,180.6 L55.3,180.6 L55.8,180.6 L56.3,180.6 L56.8,180.6 L57.3,180.6 L57.8,180.6 L58.3,180.6 L58.8,180.6 L59.3,180.6 L59.8,180.6 L60.3,180.6 L60.8,180.6 L61.3,180.6 L61.8,180.6 L62.3,180.6 L62.8,180.6 L63.3,180.6 L63.8,180.6 L64.3,180.6 L64.8,180.6 L65.3,180.6 L65.8,180.6 L66.3,180.6 L66.8,180.6 L67.3,180.6 L67.8,180.6 L68.3,180.6 L68.8,180.6 L69.3,180.6 L69.8,180.6 L70.3,180.6 L70.8,180.6 L71.3,180.6 L71.8,180.6 L72.3,180.6 L72.8,180.6 L73.3,180.6 L73.8,180.6 L74.3,180.6 L74.8,180.6 L75.3,180.6 L75.8,180.6 L76.3,180.6 L76.8,180.6 L77.3,180.6 L77.8,180.6 L78.3,180.6 L78.8,180.6 L79.3,180.6 L79.8,180.6 L80.3,180.6 L80.8,180.6 L81.3,180.6 L81.8,180.6 L82.3,180.6 L82.8,180.6 L83.3,180.6 L83.8,180.6 L84.3,180.6 L84.8,180.6 L85.3,180.6 L85.8,180.7 L86.3,180.7 L86.8,180.7 L87.3,180.7 L87.8,180.7 L88.3,180.7 L88.8,180.7 L89.3,180.7 L89.8,180.7 L90.3,180.7 L90.8,180.7 L91.3,180.7 L91.8,180.7 L92.3,180.7 L92.8,180.7 L93.3,180.7 L93.8,180.7 L94.3,180.7 L94.8,180.7 L95.3,180.7 L95.8,180.7 L96.3,180.7 L96.8,180.7 L97.3,180.7 L97.8,180.7 L98.3,180.7 L98.8,180.7 L99.3,180.7 L99.8,180.7 L100.3,180.7 L100.8,180.8 L101.3,180.8 L101.8,180.8 L102.3,180.8 L102.8,180.8 L103.3,180.8 L103.8,180.8 L104.3,180.8 L104.8,180.8 L105.3,180.8 L105.8,180.8 L106.3,180.9 L106.8,180.9 L107.3,180.9 L107.8,180.9 L108.3,180.9 L108.8,180.9 L109.3,180.9 L109.8,180.9 L110.3,181.0 L110.8,181.0 L111.3,181.0 L111.8,181.0 L112.3,181.0 L112.8,181.1 L113.3,181.1 L113.8,181.1 L114.3,181.1 L114.8,181.1 L115.3,181.2 L115.8,181.2 L116.3,181.2 L116.8,181.2 L117.3,181.3 L117.8,181.3 L118.3,181.3 L118.8,181.3 L119.3,181.4 L119.8,181.4 L120.3,181.4 L120.8,181.5 L121.3,181.5 L121.8,181.5 L122.3,181.6 L122.8,181.6 L123.3,181.6 L123.8,181.7 L124.3,181.7 L124.8,181.8 L125.3,181.8 L125.8,181.8 L126.3,181.9 L126.8,181.9 L127.3,182.0 L127.8,182.0 L128.3,182.0 L128.8,182.1 L129.3,182.1 L129.8,182.2 L130.3,182.2 L130.8,182.3 L131.3,182.3 L131.8,182.4 L132.3,182.4 L132.8,182.5 L133.3,182.5 L133.8,182.6 L134.3,182.6 L134.8,182.7 L135.3,182.7 L135.8,182.8 L136.3,182.8 L136.8,182.8 L137.3,182.9 L137.8,182.9 L138.3,182.9 L138.8,182.9 L139.3,182.9 L139.8,182.9 L140.3,182.9 L140.8,182.8 L141.3,182.7 L141.8,182.6 L142.3,182.4 L142.8,182.1 L143.3,181.8 L143.8,181.4 L144.3,180.9 L144.8,180.2 L145.3,179.5 L145.8,178.6 L146.3,177.6 L146.8,176.5 L147.3,175.2 L147.8,173.7 L148.3,172.1 L148.8,170.4 L149.3,168.7 L149.8,166.8 L150.3,164.9 L150.8,163.0 L151.3,161.2 L151.8,159.5 L152.3,157.9 L152.8,156.6 L153.3,155.5 L153.8,154.8 L154.3,154.4 L154.8,154.3 L155.3,154.8 L155.8,155.6 L156.3,156.9 L156.8,158.6 L157.3,160.5 L157.8,162.7 L158.3,164.9 L158.8,167.2 L159.3,169.5 L159.8,171.8 L160.3,173.9 L160.8,175.9 L161.3,177.7 L161.8,179.4 L162.3,180.8 L162.8,182.1 L163.3,183.2 L163.8,184.1 L164.3,184.9 L164.8,185.6 L165.3,186.1 L165.8,186.6 L166.3,187.0 L166.8,187.3 L167.3,187.6 L167.8,187.8 L168.3,188.0 L168.8,188.1 L169.3,188.3 L169.8,188.4 L170.3,188.5 L170.8,188.7 L171.3,188.8 L171.8,188.9 L172.3,189.0 L172.8,189.0 L173.3,189.1 L173.8,189.2 L174.3,189.3 L174.8,189.4 L175.3,189.4 L175.8,189.5 L176.3,189.6 L176.8,189.7 L177.3,189.7 L177.8,189.8 L178.3,189.8 L178.8,189.9 L179.3,190.0 L179.8,190.0 L180.3,190.1 L180.8,190.1 L181.3,190.2 L181.8,190.2 L182.3,190.3 L182.8,190.3 L183.3,190.4 L183.8,190.4 L184.3,190.5 L184.8,190.5 L185.3,190.6 L185.8,190.6 L186.3,190.6 L186.8,190.7 L187.3,190.7 L187.8,190.7 L188.3,190.8 L188.8,190.8 L189.3,190.8 L189.8,190.9 L190.3,190.9 L190.8,190.9 L191.3,191.0 L191.8,191.0 L192.3,191.0 L192.8,191.0 L193.3,191.1 L193.8,191.1 L194.3,191.1 L194.8,191.1 L195.3,191.2 L195.8,191.2 L196.3,191.2 L196.8,191.2 L197.3,191.2 L197.8,191.2 L198.3,191.3 L198.8,191.3 L199.3,191.3 L199.8,191.3 L200.3,191.3 L200.8,191.3 L201.3,191.3 L201.8,191.4 L202.3,191.4 L202.8,191.4 L203.3,191.4 L203.8,191.4 L204.3,191.4 L204.8,191.4 L205.3,191.4 L205.8,191.4 L206.3,191.4 L206.8,191.5 L207.3,191.5 L207.8,191.5 L208.3,191.5" fill="none" stroke="#000099" stroke-width="1.3"/>
<path d="M45.8,178.8 L46.3,178.8 L46.8,178.8 L47.3,178.8 L47.8,178.8 L48.3,178.7 L48.8,178.7 L49.3,178.7 L49.8,178.7 L50.3,178.7 L50.8,178.7 L51.3,178.6 L51.8,178.6 L52.3,178.6 L52.8,178.6 L53.3,178.5 L53.8,178.5 L54.3,178.5 L54.8,178.5 L55.3,178.5 L55.8,178.4 L56.3,178.4 L56.8,178.4 L57.3,178.4 L57.8,178.3 L58.3,178.3 L58.8,178.3 L59.3,178.2 L59.8,178.2 L60.3,178.2 L60.8,178.2 L61.3,178.1 L61.8,178.1 L62.3,178.1 L62.8,178.0 L63.3,178.0 L63.8,178.0 L64.3,177.9 L64.8,177.9 L65.3,177.9 L65.8,177.8 L66.3,177.8 L66.8,177.7 L67.3,177.7 L67.8,177.7 L68.3,177.6 L68.8,177.6 L69.3,177.5 L69.8,177.5 L70.3,177.4 L70.8,177.4 L71.3,177.3 L71.8,177.3 L72.3,177.2 L72.8,177.2 L73.3,177.1 L73.8,177.1 L74.3,177.0 L74.8,176.9 L75.3,176.9 L75.8,176.8 L76.3,176.8 L76.8,176.7 L77.3,176.6 L77.8,176.5 L78.3,176.5 L78.8,176.4 L79.3,176.3 L79.8,176.2 L80.3,176.2 L80.8,176.1 L81.3,176.0 L81.8,175.9 L82.3,175.8 L82.8,175.7 L83.3,175.6 L83.8,175.5 L84.3,175.4 L84.8,175.3 L85.3,175.2 L85.8,175.1 L86.3,174.9 L86.8,174.8 L87.3,174.7 L87.8,174.5 L88.3,174.4 L88.8,174.3 L89.3,174.1 L89.8,173.9 L90.3,173.8 L90.8,173.6 L91.3,173.4 L91.8,173.2 L92.3,173.0 L92.8,172.8 L93.3,172.6 L93.8,172.4 L94.3,172.1 L94.8,171.9 L95.3,171.6 L95.8,171.4 L96.3,171.1 L96.8,170.8 L97.3,170.4 L97.8,170.1 L98.3,169.7 L98.8,169.4 L99.3,169.0 L99.8,168.5 L100.3,168.1 L100.8,167.6 L101.3,167.1 L101.8,166.6 L102.3,166.0 L102.8,165.4 L103.3,164.8 L103.8,164.1 L104.3,163.4 L104.8,162.6 L105.3,161.9 L105.8,161.0 L106.3,160.1 L106.8,159.2 L107.3,158.2 L107.8,157.2 L108.3,156.1 L108.8,155.0 L109.3,153.8 L109.8,152.5 L110.3,151.2 L110.8,149.8 L111.3,148.4 L111.8,146.9 L112.3,145.3 L112.8,143.7 L113.3,142.1 L113.8,140.4 L114.3,138.6 L114.8,136.9 L115.3,135.1 L115.8,133.3 L116.3,131.5 L116.8,129.7 L117.3,127.9 L117.8,126.2 L118.3,124.5 L118.8,123.0 L119.3,121.5 L119.8,120.1 L120.3,118.8 L120.8,117.7 L121.3,116.7 L121.8,115.8 L122.3,115.0 L122.8,114.4 L123.3,113.8 L123.8,113.3 L124.3,112.8 L124.8,112.4 L125.3,111.8 L125.8,111.2 L126.3,110.4 L126.8,109.4 L127.3,108.1 L127.8,106.6 L128.3,104.7 L128.8,102.4 L129.3,99.8 L129.8,96.7 L130.3,93.3 L130.8,89.3 L131.3,85.0 L131.8,80.2 L132.3,75.0 L132.8,69.4 L133.3,63.5 L133.8,57.4 L134.3,51.1 L134.8,44.8 L135.3,38.6 L135.8,32.6 L136.3,27.1 L136.8,22.3 L137.3,18.3 L137.8,15.4 L138.3,13.7 L138.8,13.3 L139.3,14.2 L139.8,15.9 L140.3,18.6 L140.8,22.1 L141.3,26.2 L141.8,31.0 L142.3,36.2 L142.8,41.7 L143.3,47.5 L143.8,53.3 L144.3,59.2 L144.8,64.9 L145.3,70.5 L145.8,75.9 L146.3,81.0 L146.8,85.7 L147.3,90.2 L147.8,94.3 L148.3,98.0 L148.8,101.4 L149.3,104.4 L149.8,107.2 L150.3,109.6 L150.8,111.8 L151.3,113.8 L151.8,115.7 L152.3,117.5 L152.8,119.3 L153.3,121.2 L153.8,123.1 L154.3,125.3 L154.8,127.5 L155.3,129.8 L155.8,132.2 L156.3,134.8 L156.8,137.3 L157.3,139.9 L157.8,142.5 L158.3,145.1 L158.8,147.6 L159.3,150.1 L159.8,152.5 L160.3,154.8 L160.8,157.0 L161.3,159.1 L161.8,161.1 L162.3,163.0 L162.8,164.7 L163.3,166.4 L163.8,167.9 L164.3,169.4 L164.8,170.7 L165.3,171.9 L165.8,173.0 L166.3,174.1 L166.8,175.0 L167.3,175.9 L167.8,176.7 L168.3,177.4 L168.8,178.1 L169.3,178.7 L169.8,179.3 L170.3,179.8 L170.8,180.2 L171.3,180.7 L171.8,181.1 L172.3,181.5 L172.8,181.8 L173.3,182.1 L173.8,182.4 L174.3,182.7 L174.8,183.0 L175.3,183.2 L175.8,183.5 L176.3,183.7 L176.8,183.9 L177.3,184.1 L177.8,184.3 L178.3,184.5 L178.8,184.7 L179.3,184.8 L179.8,185.0 L180.3,185.1 L180.8,185.3 L181.3,185.4 L181.8,185.6 L182.3,185.7 L182.8,185.8 L183.3,185.9 L183.8,186.1 L184.3,186.2 L184.8,186.3 L185.3,186.4 L185.8,186.5 L186.3,186.6 L186.8,186.7 L187.3,186.8 L187.8,186.9 L188.3,187.0 L188.8,187.1 L189.3,187.1 L189.8,187.2 L190.3,187.3 L190.8,187.4 L191.3,187.4 L191.8,187.5 L192.3,187.6 L192.8,187.6 L193.3,187.7 L193.8,187.8 L194.3,187.8 L194.8,187.9 L195.3,188.0 L195.8,188.0 L196.3,188.1 L196.8,188.1 L197.3,188.2 L197.8,188.2 L198.3,188.3 L198.8,188.3 L199.3,188.4 L199.8,188.4 L200.3,188.5 L200.8,188.5 L201.3,188.5 L201.8,188.6 L202.3,188.6 L202.8,188.7 L203.3,188.7 L203.8,188.7 L204.3,188.8 L204.8,188.8 L205.3,188.9 L205.8,188.9 L206.3,188.9 L206.8,189.0 L207.3,189.0 L207.8,189.0 L208.3,189.0" fill="none" stroke="#ff0000" stroke-width="1.5"/>
</g>
<g clip-path="url(#cb)">
<path d="M212.2,182.6 L212.7,182.6 L213.2,182.6 L213.7,182.6 L214.2,182.6 L214.7,182.6 L215.2,182.6 L215.7,182.6 L216.2,182.6 L216.7,182.5 L217.2,182.5 L217.7,182.5 L218.2,182.5 L218.7,182.5 L219.2,182.5 L219.7,182.5 L220.2,182.5 L220.7,182.5 L221.2,182.4 L221.7,182.4 L222.2,182.4 L222.7,182.4 L223.2,182.4 L223.7,182.4 L224.2,182.4 L224.7,182.3 L225.2,182.3 L225.7,182.3 L226.2,182.3 L226.7,182.3 L227.2,182.3 L227.7,182.2 L228.2,182.2 L228.7,182.2 L229.2,182.2 L229.7,182.2 L230.2,182.1 L230.7,182.1 L231.2,182.1 L231.7,182.1 L232.2,182.1 L232.7,182.0 L233.2,182.0 L233.7,182.0 L234.2,182.0 L234.7,181.9 L235.2,181.9 L235.7,181.9 L236.2,181.8 L236.7,181.8 L237.2,181.8 L237.7,181.7 L238.2,181.7 L238.7,181.7 L239.2,181.6 L239.7,181.6 L240.2,181.5 L240.7,181.5 L241.2,181.4 L241.7,181.4 L242.2,181.3 L242.7,181.3 L243.2,181.2 L243.7,181.2 L244.2,181.1 L244.7,181.1 L245.2,181.0 L245.7,180.9 L246.2,180.8 L246.7,180.8 L247.2,180.7 L247.7,180.6 L248.2,180.5 L248.7,180.4 L249.2,180.3 L249.7,180.2 L250.2,180.0 L250.7,179.9 L251.2,179.8 L251.7,179.6 L252.2,179.5 L252.7,179.3 L253.2,179.1 L253.7,178.9 L254.2,178.7 L254.7,178.5 L255.2,178.2 L255.7,178.0 L256.2,177.7 L256.7,177.3 L257.2,177.0 L257.7,176.6 L258.2,176.2 L258.7,175.8 L259.2,175.3 L259.7,174.8 L260.2,174.3 L260.7,173.7 L261.2,173.1 L261.7,172.4 L262.2,171.6 L262.7,170.8 L263.2,170.0 L263.7,169.1 L264.2,168.1 L264.7,167.1 L265.2,166.1 L265.7,164.9 L266.2,163.7 L266.7,162.5 L267.2,161.2 L267.7,159.8 L268.2,158.5 L268.7,157.0 L269.2,155.6 L269.7,154.2 L270.2,152.8 L270.7,151.4 L271.2,150.1 L271.7,148.9 L272.2,147.8 L272.7,146.9 L273.2,146.1 L273.7,145.5 L274.2,145.2 L274.7,145.1 L275.2,145.2 L275.7,145.5 L276.2,146.1 L276.7,146.8 L277.2,147.7 L277.7,148.8 L278.2,150.0 L278.7,151.2 L279.2,152.6 L279.7,154.0 L280.2,155.5 L280.7,156.9 L281.2,158.4 L281.7,159.8 L282.2,161.2 L282.7,162.5 L283.2,163.9 L283.7,165.1 L284.2,166.4 L284.7,167.5 L285.2,168.6 L285.7,169.7 L286.2,170.7 L286.7,171.6 L287.2,172.5 L287.7,173.4 L288.2,174.2 L288.7,174.9 L289.2,175.6 L289.7,176.3 L290.2,176.9 L290.7,177.5 L291.2,178.0 L291.7,178.5 L292.2,179.0 L292.7,179.4 L293.2,179.9 L293.7,180.2 L294.2,180.6 L294.7,181.0 L295.2,181.3 L295.7,181.6 L296.2,181.9 L296.7,182.1 L297.2,182.4 L297.7,182.7 L298.2,182.9 L298.7,183.1 L299.2,183.3 L299.7,183.5 L300.2,183.7 L300.7,183.9 L301.2,184.1 L301.7,184.2 L302.2,184.4 L302.7,184.6 L303.2,184.7 L303.7,184.8 L304.2,185.0 L304.7,185.1 L305.2,185.3 L305.7,185.4 L306.2,185.5 L306.7,185.6 L307.2,185.8 L307.7,185.9 L308.2,186.0 L308.7,186.1 L309.2,186.2 L309.7,186.3 L310.2,186.4 L310.7,186.5 L311.2,186.6 L311.7,186.7 L312.2,186.8 L312.7,186.9 L313.2,187.0 L313.7,187.0 L314.2,187.1 L314.7,187.2 L315.2,187.3 L315.7,187.4 L316.2,187.4 L316.7,187.5 L317.2,187.6 L317.7,187.7 L318.2,187.7 L318.7,187.8 L319.2,187.9 L319.7,187.9 L320.2,188.0 L320.7,188.1 L321.2,188.1 L321.7,188.2 L322.2,188.3 L322.7,188.3 L323.2,188.4 L323.7,188.4 L324.2,188.5 L324.7,188.5 L325.2,188.6 L325.7,188.6 L326.2,188.7 L326.7,188.8 L327.2,188.8 L327.7,188.8 L328.2,188.9 L328.7,188.9 L329.2,189.0 L329.7,189.0 L330.2,189.1 L330.7,189.1 L331.2,189.2 L331.7,189.2 L332.2,189.3 L332.7,189.3 L333.2,189.3 L333.7,189.4 L334.2,189.4 L334.7,189.4 L335.2,189.5 L335.7,189.5 L336.2,189.6 L336.7,189.6 L337.2,189.6 L337.7,189.7 L338.2,189.7 L338.7,189.7 L339.2,189.7 L339.7,189.8 L340.2,189.8 L340.7,189.8 L341.2,189.9 L341.7,189.9 L342.2,189.9 L342.7,189.9 L343.2,190.0 L343.7,190.0 L344.2,190.0 L344.7,190.0 L345.2,190.1 L345.7,190.1 L346.2,190.1 L346.7,190.1 L347.2,190.2 L347.7,190.2 L348.2,190.2 L348.7,190.2 L349.2,190.2 L349.7,190.3 L350.2,190.3 L350.7,190.3 L351.2,190.3 L351.7,190.3 L352.2,190.3 L352.7,190.4 L353.2,190.4 L353.7,190.4 L354.2,190.4 L354.7,190.4 L355.2,190.4 L355.7,190.5 L356.2,190.5 L356.7,190.5 L357.2,190.5 L357.7,190.5 L358.2,190.5 L358.7,190.5 L359.2,190.5 L359.7,190.6 L360.2,190.6 L360.7,190.6 L361.2,190.6 L361.7,190.6 L362.2,190.6 L362.7,190.6 L363.2,190.6 L363.7,190.6 L364.2,190.7 L364.7,190.7 L365.2,190.7 L365.7,190.7 L366.2,190.7 L366.7,190.7 L367.2,190.7 L367.7,190.7 L368.2,190.7 L368.7,190.7 L369.2,190.7 L369.7,190.7 L370.2,190.7 L370.7,190.8 L371.2,190.8 L371.7,190.8 L372.2,190.8 L372.7,190.8 L373.2,190.8 L373.7,190.8 L374.2,190.8 L374.7,190.8 L374.7,191.2 L374.2,191.2 L373.7,191.2 L373.2,191.2 L372.7,191.2 L372.2,191.2 L371.7,191.2 L371.2,191.2 L370.7,191.2 L370.2,191.2 L369.7,191.1 L369.2,191.1 L368.7,191.1 L368.2,191.1 L367.7,191.1 L367.2,191.1 L366.7,191.1 L366.2,191.1 L365.7,191.1 L365.2,191.1 L364.7,191.1 L364.2,191.1 L363.7,191.0 L363.2,191.0 L362.7,191.0 L362.2,191.0 L361.7,191.0 L361.2,191.0 L360.7,191.0 L360.2,191.0 L359.7,190.9 L359.2,190.9 L358.7,190.9 L358.2,190.9 L357.7,190.9 L357.2,190.9 L356.7,190.9 L356.2,190.9 L355.7,190.8 L355.2,190.8 L354.7,190.8 L354.2,190.8 L353.7,190.8 L353.2,190.8 L352.7,190.7 L352.2,190.7 L351.7,190.7 L351.2,190.7 L350.7,190.7 L350.2,190.7 L349.7,190.7 L349.2,190.6 L348.7,190.6 L348.2,190.6 L347.7,190.6 L347.2,190.6 L346.7,190.6 L346.2,190.5 L345.7,190.5 L345.2,190.5 L344.7,190.5 L344.2,190.5 L343.7,190.5 L343.2,190.4 L342.7,190.4 L342.2,190.4 L341.7,190.4 L341.2,190.3 L340.7,190.3 L340.2,190.3 L339.7,190.3 L339.2,190.2 L338.7,190.2 L338.2,190.2 L337.7,190.2 L337.2,190.1 L336.7,190.1 L336.2,190.1 L335.7,190.0 L335.2,190.0 L334.7,190.0 L334.2,189.9 L333.7,189.9 L333.2,189.9 L332.7,189.8 L332.2,189.8 L331.7,189.8 L331.2,189.7 L330.7,189.7 L330.2,189.6 L329.7,189.6 L329.2,189.6 L328.7,189.5 L328.2,189.5 L327.7,189.4 L327.2,189.4 L326.7,189.4 L326.2,189.3 L325.7,189.3 L325.2,189.2 L324.7,189.2 L324.2,189.2 L323.7,189.1 L323.2,189.1 L322.7,189.0 L322.2,189.0 L321.7,188.9 L321.2,188.9 L320.7,188.9 L320.2,188.8 L319.7,188.8 L319.2,188.7 L318.7,188.7 L318.2,188.6 L317.7,188.6 L317.2,188.6 L316.7,188.5 L316.2,188.5 L315.7,188.4 L315.2,188.4 L314.7,188.3 L314.2,188.3 L313.7,188.3 L313.2,188.2 L312.7,188.2 L312.2,188.1 L311.7,188.1 L311.2,188.1 L310.7,188.0 L310.2,188.0 L309.7,187.9 L309.2,187.9 L308.7,187.9 L308.2,187.8 L307.7,187.8 L307.2,187.7 L306.7,187.7 L306.2,187.7 L305.7,187.6 L305.2,187.6 L304.7,187.6 L304.2,187.5 L303.7,187.5 L303.2,187.5 L302.7,187.4 L302.2,187.4 L301.7,187.4 L301.2,187.3 L300.7,187.3 L300.2,187.3 L299.7,187.2 L299.2,187.2 L298.7,187.2 L298.2,187.2 L297.7,187.1 L297.2,187.1 L296.7,187.1 L296.2,187.1 L295.7,187.0 L295.2,187.0 L294.7,187.0 L294.2,187.0 L293.7,186.9 L293.2,186.9 L292.7,186.9 L292.2,186.9 L291.7,186.9 L291.2,186.9 L290.7,186.8 L290.2,186.8 L289.7,186.8 L289.2,186.8 L288.7,186.8 L288.2,186.8 L287.7,186.7 L287.2,186.7 L286.7,186.7 L286.2,186.7 L285.7,186.7 L285.2,186.7 L284.7,186.7 L284.2,186.6 L283.7,186.6 L283.2,186.6 L282.7,186.6 L282.2,186.6 L281.7,186.6 L281.2,186.6 L280.7,186.6 L280.2,186.5 L279.7,186.5 L279.2,186.5 L278.7,186.5 L278.2,186.5 L277.7,186.5 L277.2,186.5 L276.7,186.5 L276.2,186.4 L275.7,186.4 L275.2,186.4 L274.7,186.4 L274.2,186.4 L273.7,186.4 L273.2,186.4 L272.7,186.4 L272.2,186.3 L271.7,186.3 L271.2,186.3 L270.7,186.3 L270.2,186.3 L269.7,186.3 L269.2,186.3 L268.7,186.3 L268.2,186.2 L267.7,186.2 L267.2,186.2 L266.7,186.2 L266.2,186.2 L265.7,186.2 L265.2,186.2 L264.7,186.1 L264.2,186.1 L263.7,186.1 L263.2,186.1 L262.7,186.1 L262.2,186.1 L261.7,186.0 L261.2,186.0 L260.7,186.0 L260.2,186.0 L259.7,186.0 L259.2,185.9 L258.7,185.9 L258.2,185.9 L257.7,185.9 L257.2,185.9 L256.7,185.8 L256.2,185.8 L255.7,185.8 L255.2,185.8 L254.7,185.7 L254.2,185.7 L253.7,185.7 L253.2,185.6 L252.7,185.6 L252.2,185.5 L251.7,185.5 L251.2,185.4 L250.7,185.4 L250.2,185.4 L249.7,185.3 L249.2,185.3 L248.7,185.2 L248.2,185.2 L247.7,185.1 L247.2,185.1 L246.7,185.0 L246.2,185.0 L245.7,184.9 L245.2,184.9 L244.7,184.8 L244.2,184.8 L243.7,184.7 L243.2,184.7 L242.7,184.7 L242.2,184.6 L241.7,184.6 L241.2,184.6 L240.7,184.5 L240.2,184.5 L239.7,184.5 L239.2,184.5 L238.7,184.4 L238.2,184.4 L237.7,184.4 L237.2,184.4 L236.7,184.4 L236.2,184.4 L235.7,184.3 L235.2,184.3 L234.7,184.3 L234.2,184.3 L233.7,184.3 L233.2,184.2 L232.7,184.2 L232.2,184.2 L231.7,184.2 L231.2,184.2 L230.7,184.2 L230.2,184.1 L229.7,184.1 L229.2,184.1 L228.7,184.1 L228.2,184.1 L227.7,184.1 L227.2,184.0 L226.7,184.0 L226.2,184.0 L225.7,184.0 L225.2,184.0 L224.7,184.0 L224.2,184.0 L223.7,184.0 L223.2,183.9 L222.7,183.9 L222.2,183.9 L221.7,183.9 L221.2,183.9 L220.7,183.9 L220.2,183.9 L219.7,183.9 L219.2,183.9 L218.7,183.9 L218.2,183.8 L217.7,183.8 L217.2,183.8 L216.7,183.8 L216.2,183.8 L215.7,183.8 L215.2,183.8 L214.7,183.8 L214.2,183.8 L213.7,183.8 L213.2,183.8 L212.7,183.8 L212.2,183.8 Z" fill="#ffff00"/>
<path d="M212.2,184.2 L212.7,184.0 L213.2,183.6 L213.7,183.4 L214.2,184.0 L214.7,184.6 L215.2,184.6 L215.7,184.0 L216.2,183.4 L216.7,184.3 L217.2,184.7 L217.7,183.9 L218.2,184.0 L218.7,184.4 L219.2,184.1 L219.7,184.2 L220.2,184.3 L220.7,184.5 L221.2,184.5 L221.7,183.5 L222.2,183.2 L222.7,183.8 L223.2,183.2 L223.7,183.1 L224.2,183.5 L224.7,184.1 L225.2,184.5 L225.7,184.2 L226.2,184.6 L226.7,184.1 L227.2,183.7 L227.7,183.6 L228.2,183.6 L228.7,183.8 L229.2,183.9 L229.7,184.0 L230.2,183.9 L230.7,184.3 L231.2,183.6 L231.7,183.2 L232.2,183.7 L232.7,183.9 L233.2,184.5 L233.7,184.1 L234.2,183.4 L234.7,184.1 L235.2,184.4 L235.7,183.8 L236.2,183.5 L236.7,183.1 L237.2,183.0 L237.7,182.7 L238.2,183.2 L238.7,183.6 L239.2,183.5 L239.7,183.9 L240.2,183.4 L240.7,183.6 L241.2,182.7 L241.7,182.2 L242.2,182.8 L242.7,182.3 L243.2,181.7 L243.7,181.6 L244.2,181.4 L244.7,181.0 L245.2,180.5 L245.7,180.5 L246.2,180.4 L246.7,179.6 L247.2,179.4 L247.7,179.3 L248.2,178.7 L248.7,178.4 L249.2,178.1 L249.7,178.0 L250.2,177.3 L250.7,176.6 L251.2,176.2 L251.7,175.9 L252.2,175.4 L252.7,175.4 L253.2,174.8 L253.7,174.1 L254.2,174.3 L254.7,173.2 L255.2,172.7 L255.7,172.5 L256.2,171.9 L256.7,170.8 L257.2,169.6 L257.7,169.6 L258.2,169.2 L258.7,168.4 L259.2,168.0 L259.7,166.9 L260.2,166.2 L260.7,164.9 L261.2,163.9 L261.7,162.9 L262.2,161.6 L262.7,160.8 L263.2,159.5 L263.7,157.5 L264.2,156.6 L264.7,155.3 L265.2,153.2 L265.7,151.8 L266.2,150.3 L266.7,148.7 L267.2,147.3 L267.7,145.7 L268.2,144.2 L268.7,143.5 L269.2,142.1 L269.7,141.0 L270.2,140.1 L270.7,138.9 L271.2,137.7 L271.7,137.1 L272.2,136.1 L272.7,135.0 L273.2,134.6 L273.7,134.1 L274.2,133.5 L274.7,133.1 L275.2,133.2 L275.7,133.2 L276.2,133.3 L276.7,133.6 L277.2,133.9 L277.7,134.0 L278.2,134.3 L278.7,134.1 L279.2,134.4 L279.7,134.7 L280.2,134.8 L280.7,135.9 L281.2,136.5 L281.7,137.3 L282.2,137.8 L282.7,137.3 L283.2,137.9 L283.7,138.9 L284.2,138.7 L284.7,139.4 L285.2,139.8 L285.7,139.5 L286.2,139.4 L286.7,139.1 L287.2,138.6 L287.7,136.8 L288.2,134.5 L288.7,132.5 L289.2,130.2 L289.7,126.6 L290.2,123.3 L290.7,120.2 L291.2,116.0 L291.7,110.8 L292.2,105.1 L292.7,99.7 L293.2,93.5 L293.7,86.5 L294.2,78.9 L294.7,71.9 L295.2,64.9 L295.7,56.4 L296.2,48.4 L296.7,41.3 L297.2,34.2 L297.7,27.5 L298.2,22.5 L298.7,18.8 L299.2,16.3 L299.7,14.9 L300.2,14.9 L300.7,16.5 L301.2,18.6 L301.7,20.7 L302.2,23.4 L302.7,28.3 L303.2,32.7 L303.7,37.1 L304.2,43.0 L304.7,49.0 L305.2,55.2 L305.7,60.7 L306.2,65.7 L306.7,71.2 L307.2,76.6 L307.7,81.9 L308.2,86.2 L308.7,90.1 L309.2,94.5 L309.7,99.2 L310.2,103.2 L310.7,106.1 L311.2,109.7 L311.7,113.8 L312.2,117.4 L312.7,120.4 L313.2,123.3 L313.7,126.5 L314.2,129.0 L314.7,131.4 L315.2,134.5 L315.7,136.9 L316.2,138.9 L316.7,140.7 L317.2,142.9 L317.7,144.1 L318.2,145.3 L318.7,147.0 L319.2,148.4 L319.7,149.9 L320.2,151.5 L320.7,153.3 L321.2,154.3 L321.7,155.6 L322.2,156.3 L322.7,157.1 L323.2,157.8 L323.7,157.7 L324.2,158.6 L324.7,158.2 L325.2,158.0 L325.7,159.1 L326.2,159.3 L326.7,159.3 L327.2,159.8 L327.7,160.6 L328.2,161.5 L328.7,162.6 L329.2,163.4 L329.7,164.0 L330.2,165.2 L330.7,166.6 L331.2,168.0 L331.7,168.8 L332.2,170.0 L332.7,170.9 L333.2,171.6 L333.7,173.4 L334.2,174.6 L334.7,175.2 L335.2,175.6 L335.7,176.6 L336.2,177.8 L336.7,178.4 L337.2,179.6 L337.7,180.6 L338.2,182.2 L338.7,183.0 L339.2,184.4 L339.7,185.1 L340.2,185.3 L340.7,185.2 L341.2,184.9 L341.7,185.8 L342.2,186.0 L342.7,186.8 L343.2,188.2 L343.7,188.0 L344.2,187.6 L344.7,188.6 L345.2,189.7 L345.7,190.1 L346.2,189.6 L346.7,190.5 L347.2,191.1 L347.7,189.9 L348.2,189.7 L348.7,189.0 L349.2,188.9 L349.7,188.8 L350.2,188.7 L350.7,190.4 L351.2,190.9 L351.7,191.1 L352.2,191.1 L352.7,190.4 L353.2,190.6 L353.7,190.5 L354.2,190.5 L354.7,190.2 L355.2,189.8 L355.7,190.4 L356.2,190.9 L356.7,190.5 L357.2,189.8 L357.7,191.2 L358.2,192.2 L358.7,191.0 L359.2,189.6 L359.7,190.9 L360.2,191.4 L360.7,190.9 L361.2,191.6 L361.7,191.6 L362.2,191.5 L362.7,191.1 L363.2,191.6 L363.7,190.9 L364.2,190.7 L364.7,191.8 L365.2,191.6 L365.7,190.9 L366.2,190.6 L366.7,191.0 L367.2,191.4 L367.7,190.9 L368.2,190.6 L368.7,191.5 L369.2,191.2 L369.7,190.3 L370.2,191.5 L370.7,192.1 L371.2,191.4 L371.7,191.2 L372.2,191.5 L372.7,191.5 L373.2,191.0 L373.7,190.9 L374.2,191.0 L374.7,190.7" fill="none" stroke="#000" stroke-width="1.4" stroke-linejoin="round"/>
<path d="M212.2,183.8 L212.7,183.8 L213.2,183.8 L213.7,183.8 L214.2,183.8 L214.7,183.8 L215.2,183.8 L215.7,183.8 L216.2,183.8 L216.7,183.8 L217.2,183.9 L217.7,183.9 L218.2,183.9 L218.7,183.9 L219.2,183.9 L219.7,183.9 L220.2,183.9 L220.7,183.9 L221.2,183.9 L221.7,183.9 L222.2,183.9 L222.7,183.9 L223.2,183.9 L223.7,183.9 L224.2,183.9 L224.7,183.9 L225.2,183.9 L225.7,184.0 L226.2,184.0 L226.7,184.0 L227.2,184.0 L227.7,184.0 L228.2,184.0 L228.7,184.0 L229.2,184.0 L229.7,184.0 L230.2,184.0 L230.7,184.0 L231.2,184.0 L231.7,184.1 L232.2,184.1 L232.7,184.1 L233.2,184.1 L233.7,184.1 L234.2,184.1 L234.7,184.1 L235.2,184.1 L235.7,184.1 L236.2,184.2 L236.7,184.2 L237.2,184.2 L237.7,184.2 L238.2,184.2 L238.7,184.2 L239.2,184.2 L239.7,184.2 L240.2,184.3 L240.7,184.3 L241.2,184.3 L241.7,184.3 L242.2,184.3 L242.7,184.3 L243.2,184.3 L243.7,184.4 L244.2,184.4 L244.7,184.4 L245.2,184.4 L245.7,184.4 L246.2,184.4 L246.7,184.5 L247.2,184.5 L247.7,184.5 L248.2,184.5 L248.7,184.5 L249.2,184.6 L249.7,184.6 L250.2,184.6 L250.7,184.6 L251.2,184.6 L251.7,184.7 L252.2,184.7 L252.7,184.7 L253.2,184.7 L253.7,184.7 L254.2,184.8 L254.7,184.8 L255.2,184.8 L255.7,184.8 L256.2,184.8 L256.7,184.9 L257.2,184.9 L257.7,184.9 L258.2,184.9 L258.7,185.0 L259.2,185.0 L259.7,185.0 L260.2,185.0 L260.7,185.1 L261.2,185.1 L261.7,185.1 L262.2,185.2 L262.7,185.2 L263.2,185.2 L263.7,185.2 L264.2,185.3 L264.7,185.3 L265.2,185.3 L265.7,185.3 L266.2,185.4 L266.7,185.4 L267.2,185.4 L267.7,185.5 L268.2,185.5 L268.7,185.5 L269.2,185.6 L269.7,185.6 L270.2,185.6 L270.7,185.7 L271.2,185.7 L271.7,185.7 L272.2,185.8 L272.7,185.8 L273.2,185.8 L273.7,185.8 L274.2,185.9 L274.7,185.9 L275.2,185.9 L275.7,186.0 L276.2,186.0 L276.7,186.1 L277.2,186.1 L277.7,186.1 L278.2,186.2 L278.7,186.2 L279.2,186.2 L279.7,186.3 L280.2,186.3 L280.7,186.3 L281.2,186.4 L281.7,186.4 L282.2,186.4 L282.7,186.5 L283.2,186.5 L283.7,186.5 L284.2,186.6 L284.7,186.6 L285.2,186.7 L285.7,186.7 L286.2,186.7 L286.7,186.8 L287.2,186.8 L287.7,186.8 L288.2,186.9 L288.7,186.9 L289.2,186.9 L289.7,187.0 L290.2,187.0 L290.7,187.0 L291.2,187.1 L291.7,187.1 L292.2,187.2 L292.7,187.2 L293.2,187.2 L293.7,187.3 L294.2,187.3 L294.7,187.3 L295.2,187.4 L295.7,187.4 L296.2,187.4 L296.7,187.5 L297.2,187.5 L297.7,187.5 L298.2,187.5 L298.7,187.6 L299.2,187.6 L299.7,187.6 L300.2,187.7 L300.7,187.7 L301.2,187.7 L301.7,187.7 L302.2,187.8 L302.7,187.8 L303.2,187.8 L303.7,187.8 L304.2,187.8 L304.7,187.9 L305.2,187.9 L305.7,187.9 L306.2,187.9 L306.7,187.9 L307.2,187.9 L307.7,187.9 L308.2,187.9 L308.7,187.9 L309.2,187.9 L309.7,187.9 L310.2,187.9 L310.7,187.9 L311.2,187.9 L311.7,187.9 L312.2,187.8 L312.7,187.8 L313.2,187.8 L313.7,187.7 L314.2,187.7 L314.7,187.6 L315.2,187.5 L315.7,187.4 L316.2,187.3 L316.7,187.2 L317.2,187.0 L317.7,186.8 L318.2,186.6 L318.7,186.4 L319.2,186.1 L319.7,185.8 L320.2,185.5 L320.7,185.1 L321.2,184.6 L321.7,184.1 L322.2,183.5 L322.7,182.9 L323.2,182.2 L323.7,181.4 L324.2,180.6 L324.7,179.7 L325.2,178.8 L325.7,177.9 L326.2,177.0 L326.7,176.2 L327.2,175.5 L327.7,175.0 L328.2,174.8 L328.7,174.7 L329.2,175.0 L329.7,175.5 L330.2,176.3 L330.7,177.1 L331.2,178.1 L331.7,179.1 L332.2,180.1 L332.7,181.1 L333.2,182.0 L333.7,182.9 L334.2,183.7 L334.7,184.4 L335.2,185.0 L335.7,185.6 L336.2,186.1 L336.7,186.6 L337.2,187.0 L337.7,187.4 L338.2,187.7 L338.7,188.0 L339.2,188.2 L339.7,188.5 L340.2,188.7 L340.7,188.8 L341.2,189.0 L341.7,189.2 L342.2,189.3 L342.7,189.4 L343.2,189.5 L343.7,189.6 L344.2,189.7 L344.7,189.8 L345.2,189.9 L345.7,190.0 L346.2,190.1 L346.7,190.1 L347.2,190.2 L347.7,190.3 L348.2,190.3 L348.7,190.4 L349.2,190.4 L349.7,190.5 L350.2,190.5 L350.7,190.6 L351.2,190.6 L351.7,190.6 L352.2,190.7 L352.7,190.7 L353.2,190.8 L353.7,190.8 L354.2,190.8 L354.7,190.9 L355.2,190.9 L355.7,190.9 L356.2,190.9 L356.7,191.0 L357.2,191.0 L357.7,191.0 L358.2,191.0 L358.7,191.1 L359.2,191.1 L359.7,191.1 L360.2,191.1 L360.7,191.2 L361.2,191.2 L361.7,191.2 L362.2,191.2 L362.7,191.2 L363.2,191.3 L363.7,191.3 L364.2,191.3 L364.7,191.3 L365.2,191.3 L365.7,191.3 L366.2,191.3 L366.7,191.4 L367.2,191.4 L367.7,191.4 L368.2,191.4 L368.7,191.4 L369.2,191.4 L369.7,191.4 L370.2,191.4 L370.7,191.5 L371.2,191.5 L371.7,191.5 L372.2,191.5 L372.7,191.5 L373.2,191.5 L373.7,191.5 L374.2,191.5 L374.7,191.5" fill="none" stroke="#000099" stroke-width="1.3"/>
<path d="M212.2,182.6 L212.7,182.6 L213.2,182.6 L213.7,182.6 L214.2,182.6 L214.7,182.6 L215.2,182.6 L215.7,182.6 L216.2,182.6 L216.7,182.5 L217.2,182.5 L217.7,182.5 L218.2,182.5 L218.7,182.5 L219.2,182.5 L219.7,182.5 L220.2,182.5 L220.7,182.5 L221.2,182.4 L221.7,182.4 L222.2,182.4 L222.7,182.4 L223.2,182.4 L223.7,182.4 L224.2,182.4 L224.7,182.3 L225.2,182.3 L225.7,182.3 L226.2,182.3 L226.7,182.3 L227.2,182.3 L227.7,182.2 L228.2,182.2 L228.7,182.2 L229.2,182.2 L229.7,182.2 L230.2,182.1 L230.7,182.1 L231.2,182.1 L231.7,182.1 L232.2,182.1 L232.7,182.0 L233.2,182.0 L233.7,182.0 L234.2,182.0 L234.7,181.9 L235.2,181.9 L235.7,181.9 L236.2,181.8 L236.7,181.8 L237.2,181.8 L237.7,181.7 L238.2,181.7 L238.7,181.7 L239.2,181.6 L239.7,181.6 L240.2,181.5 L240.7,181.5 L241.2,181.4 L241.7,181.4 L242.2,181.3 L242.7,181.3 L243.2,181.2 L243.7,181.2 L244.2,181.1 L244.7,181.1 L245.2,181.0 L245.7,180.9 L246.2,180.8 L246.7,180.8 L247.2,180.7 L247.7,180.6 L248.2,180.5 L248.7,180.4 L249.2,180.3 L249.7,180.2 L250.2,180.0 L250.7,179.9 L251.2,179.8 L251.7,179.6 L252.2,179.5 L252.7,179.3 L253.2,179.1 L253.7,178.9 L254.2,178.7 L254.7,178.5 L255.2,178.2 L255.7,178.0 L256.2,177.7 L256.7,177.3 L257.2,177.0 L257.7,176.6 L258.2,176.2 L258.7,175.8 L259.2,175.3 L259.7,174.8 L260.2,174.3 L260.7,173.7 L261.2,173.1 L261.7,172.4 L262.2,171.6 L262.7,170.8 L263.2,170.0 L263.7,169.1 L264.2,168.1 L264.7,167.1 L265.2,166.1 L265.7,164.9 L266.2,163.7 L266.7,162.5 L267.2,161.2 L267.7,159.8 L268.2,158.5 L268.7,157.0 L269.2,155.6 L269.7,154.2 L270.2,152.8 L270.7,151.4 L271.2,150.1 L271.7,148.9 L272.2,147.8 L272.7,146.9 L273.2,146.1 L273.7,145.5 L274.2,145.2 L274.7,145.1 L275.2,145.2 L275.7,145.5 L276.2,146.1 L276.7,146.8 L277.2,147.7 L277.7,148.8 L278.2,150.0 L278.7,151.2 L279.2,152.6 L279.7,154.0 L280.2,155.5 L280.7,156.9 L281.2,158.4 L281.7,159.8 L282.2,161.2 L282.7,162.5 L283.2,163.9 L283.7,165.1 L284.2,166.4 L284.7,167.5 L285.2,168.6 L285.7,169.7 L286.2,170.7 L286.7,171.6 L287.2,172.5 L287.7,173.4 L288.2,174.2 L288.7,174.9 L289.2,175.6 L289.7,176.3 L290.2,176.9 L290.7,177.5 L291.2,178.0 L291.7,178.5 L292.2,179.0 L292.7,179.4 L293.2,179.9 L293.7,180.2 L294.2,180.6 L294.7,181.0 L295.2,181.3 L295.7,181.6 L296.2,181.9 L296.7,182.1 L297.2,182.4 L297.7,182.7 L298.2,182.9 L298.7,183.1 L299.2,183.3 L299.7,183.5 L300.2,183.7 L300.7,183.9 L301.2,184.1 L301.7,184.2 L302.2,184.4 L302.7,184.6 L303.2,184.7 L303.7,184.8 L304.2,185.0 L304.7,185.1 L305.2,185.3 L305.7,185.4 L306.2,185.5 L306.7,185.6 L307.2,185.8 L307.7,185.9 L308.2,186.0 L308.7,186.1 L309.2,186.2 L309.7,186.3 L310.2,186.4 L310.7,186.5 L311.2,186.6 L311.7,186.7 L312.2,186.8 L312.7,186.9 L313.2,187.0 L313.7,187.0 L314.2,187.1 L314.7,187.2 L315.2,187.3 L315.7,187.4 L316.2,187.4 L316.7,187.5 L317.2,187.6 L317.7,187.7 L318.2,187.7 L318.7,187.8 L319.2,187.9 L319.7,187.9 L320.2,188.0 L320.7,188.1 L321.2,188.1 L321.7,188.2 L322.2,188.3 L322.7,188.3 L323.2,188.4 L323.7,188.4 L324.2,188.5 L324.7,188.5 L325.2,188.6 L325.7,188.6 L326.2,188.7 L326.7,188.8 L327.2,188.8 L327.7,188.8 L328.2,188.9 L328.7,188.9 L329.2,189.0 L329.7,189.0 L330.2,189.1 L330.7,189.1 L331.2,189.2 L331.7,189.2 L332.2,189.3 L332.7,189.3 L333.2,189.3 L333.7,189.4 L334.2,189.4 L334.7,189.4 L335.2,189.5 L335.7,189.5 L336.2,189.6 L336.7,189.6 L337.2,189.6 L337.7,189.7 L338.2,189.7 L338.7,189.7 L339.2,189.7 L339.7,189.8 L340.2,189.8 L340.7,189.8 L341.2,189.9 L341.7,189.9 L342.2,189.9 L342.7,189.9 L343.2,190.0 L343.7,190.0 L344.2,190.0 L344.7,190.0 L345.2,190.1 L345.7,190.1 L346.2,190.1 L346.7,190.1 L347.2,190.2 L347.7,190.2 L348.2,190.2 L348.7,190.2 L349.2,190.2 L349.7,190.3 L350.2,190.3 L350.7,190.3 L351.2,190.3 L351.7,190.3 L352.2,190.3 L352.7,190.4 L353.2,190.4 L353.7,190.4 L354.2,190.4 L354.7,190.4 L355.2,190.4 L355.7,190.5 L356.2,190.5 L356.7,190.5 L357.2,190.5 L357.7,190.5 L358.2,190.5 L358.7,190.5 L359.2,190.5 L359.7,190.6 L360.2,190.6 L360.7,190.6 L361.2,190.6 L361.7,190.6 L362.2,190.6 L362.7,190.6 L363.2,190.6 L363.7,190.6 L364.2,190.7 L364.7,190.7 L365.2,190.7 L365.7,190.7 L366.2,190.7 L366.7,190.7 L367.2,190.7 L367.7,190.7 L368.2,190.7 L368.7,190.7 L369.2,190.7 L369.7,190.7 L370.2,190.7 L370.7,190.8 L371.2,190.8 L371.7,190.8 L372.2,190.8 L372.7,190.8 L373.2,190.8 L373.7,190.8 L374.2,190.8 L374.7,190.8" fill="none" stroke="#ff00ff" stroke-width="1.3"/>
<path d="M212.2,182.0 L212.7,182.0 L213.2,182.0 L213.7,182.0 L214.2,182.0 L214.7,181.9 L215.2,181.9 L215.7,181.9 L216.2,181.9 L216.7,181.9 L217.2,181.9 L217.7,181.9 L218.2,181.9 L218.7,181.9 L219.2,181.8 L219.7,181.8 L220.2,181.8 L220.7,181.8 L221.2,181.8 L221.7,181.8 L222.2,181.8 L222.7,181.7 L223.2,181.7 L223.7,181.7 L224.2,181.7 L224.7,181.7 L225.2,181.7 L225.7,181.7 L226.2,181.6 L226.7,181.6 L227.2,181.6 L227.7,181.6 L228.2,181.6 L228.7,181.6 L229.2,181.5 L229.7,181.5 L230.2,181.5 L230.7,181.5 L231.2,181.5 L231.7,181.4 L232.2,181.4 L232.7,181.4 L233.2,181.4 L233.7,181.4 L234.2,181.3 L234.7,181.3 L235.2,181.3 L235.7,181.3 L236.2,181.2 L236.7,181.2 L237.2,181.2 L237.7,181.2 L238.2,181.1 L238.7,181.1 L239.2,181.1 L239.7,181.1 L240.2,181.0 L240.7,181.0 L241.2,181.0 L241.7,180.9 L242.2,180.9 L242.7,180.9 L243.2,180.8 L243.7,180.8 L244.2,180.8 L244.7,180.7 L245.2,180.7 L245.7,180.7 L246.2,180.6 L246.7,180.6 L247.2,180.5 L247.7,180.5 L248.2,180.5 L248.7,180.4 L249.2,180.4 L249.7,180.3 L250.2,180.3 L250.7,180.2 L251.2,180.2 L251.7,180.1 L252.2,180.1 L252.7,180.0 L253.2,180.0 L253.7,179.9 L254.2,179.8 L254.7,179.8 L255.2,179.7 L255.7,179.6 L256.2,179.6 L256.7,179.5 L257.2,179.4 L257.7,179.4 L258.2,179.3 L258.7,179.2 L259.2,179.1 L259.7,179.0 L260.2,178.9 L260.7,178.8 L261.2,178.7 L261.7,178.6 L262.2,178.5 L262.7,178.4 L263.2,178.3 L263.7,178.2 L264.2,178.1 L264.7,177.9 L265.2,177.8 L265.7,177.7 L266.2,177.5 L266.7,177.4 L267.2,177.2 L267.7,177.1 L268.2,176.9 L268.7,176.7 L269.2,176.5 L269.7,176.3 L270.2,176.1 L270.7,175.9 L271.2,175.7 L271.7,175.4 L272.2,175.2 L272.7,174.9 L273.2,174.6 L273.7,174.4 L274.2,174.0 L274.7,173.7 L275.2,173.4 L275.7,173.0 L276.2,172.6 L276.7,172.2 L277.2,171.8 L277.7,171.3 L278.2,170.9 L278.7,170.3 L279.2,169.8 L279.7,169.2 L280.2,168.6 L280.7,167.9 L281.2,167.2 L281.7,166.5 L282.2,165.6 L282.7,164.8 L283.2,163.8 L283.7,162.8 L284.2,161.6 L284.7,160.4 L285.2,159.0 L285.7,157.5 L286.2,155.8 L286.7,154.0 L287.2,152.0 L287.7,149.7 L288.2,147.2 L288.7,144.4 L289.2,141.4 L289.7,138.0 L290.2,134.3 L290.7,130.3 L291.2,125.9 L291.7,121.2 L292.2,116.0 L292.7,110.5 L293.2,104.7 L293.7,98.6 L294.2,92.1 L294.7,85.5 L295.2,78.6 L295.7,71.7 L296.2,64.7 L296.7,57.9 L297.2,51.3 L297.7,45.1 L298.2,39.4 L298.7,34.4 L299.2,30.3 L299.7,27.2 L300.2,25.3 L300.7,24.5 L301.2,25.1 L301.7,27.0 L302.2,30.0 L302.7,34.2 L303.2,39.2 L303.7,45.1 L304.2,51.4 L304.7,58.2 L305.2,65.2 L305.7,72.3 L306.2,79.4 L306.7,86.5 L307.2,93.3 L307.7,99.9 L308.2,106.2 L308.7,112.1 L309.2,117.7 L309.7,122.9 L310.2,127.8 L310.7,132.3 L311.2,136.4 L311.7,140.2 L312.2,143.6 L312.7,146.8 L313.2,149.6 L313.7,152.2 L314.2,154.6 L314.7,156.7 L315.2,158.7 L315.7,160.5 L316.2,162.1 L316.7,163.6 L317.2,165.0 L317.7,166.3 L318.2,167.5 L318.7,168.7 L319.2,169.7 L319.7,170.7 L320.2,171.7 L320.7,172.5 L321.2,173.4 L321.7,174.2 L322.2,174.9 L322.7,175.6 L323.2,176.3 L323.7,177.0 L324.2,177.6 L324.7,178.2 L325.2,178.7 L325.7,179.2 L326.2,179.7 L326.7,180.2 L327.2,180.7 L327.7,181.1 L328.2,181.5 L328.7,181.9 L329.2,182.3 L329.7,182.6 L330.2,182.9 L330.7,183.2 L331.2,183.5 L331.7,183.8 L332.2,184.1 L332.7,184.3 L333.2,184.6 L333.7,184.8 L334.2,185.0 L334.7,185.2 L335.2,185.4 L335.7,185.6 L336.2,185.8 L336.7,185.9 L337.2,186.1 L337.7,186.2 L338.2,186.4 L338.7,186.5 L339.2,186.7 L339.7,186.8 L340.2,186.9 L340.7,187.0 L341.2,187.1 L341.7,187.2 L342.2,187.3 L342.7,187.4 L343.2,187.5 L343.7,187.6 L344.2,187.7 L344.7,187.8 L345.2,187.8 L345.7,187.9 L346.2,188.0 L346.7,188.1 L347.2,188.1 L347.7,188.2 L348.2,188.2 L348.7,188.3 L349.2,188.4 L349.7,188.4 L350.2,188.5 L350.7,188.5 L351.2,188.6 L351.7,188.6 L352.2,188.7 L352.7,188.7 L353.2,188.8 L353.7,188.8 L354.2,188.9 L354.7,188.9 L355.2,189.0 L355.7,189.0 L356.2,189.0 L356.7,189.1 L357.2,189.1 L357.7,189.1 L358.2,189.2 L358.7,189.2 L359.2,189.3 L359.7,189.3 L360.2,189.3 L360.7,189.3 L361.2,189.4 L361.7,189.4 L362.2,189.4 L362.7,189.5 L363.2,189.5 L363.7,189.5 L364.2,189.5 L364.7,189.6 L365.2,189.6 L365.7,189.6 L366.2,189.6 L366.7,189.7 L367.2,189.7 L367.7,189.7 L368.2,189.7 L368.7,189.8 L369.2,189.8 L369.7,189.8 L370.2,189.8 L370.7,189.8 L371.2,189.9 L371.7,189.9 L372.2,189.9 L372.7,189.9 L373.2,189.9 L373.7,190.0 L374.2,190.0 L374.7,190.0" fill="none" stroke="#008800" stroke-width="1.3"/>
<path d="M212.2,183.6 L212.7,183.6 L213.2,183.6 L213.7,183.6 L214.2,183.6 L214.7,183.6 L215.2,183.6 L215.7,183.6 L216.2,183.6 L216.7,183.6 L217.2,183.6 L217.7,183.6 L218.2,183.6 L218.7,183.6 L219.2,183.6 L219.7,183.6 L220.2,183.6 L220.7,183.6 L221.2,183.6 L221.7,183.6 L222.2,183.6 L222.7,183.6 L223.2,183.6 L223.7,183.6 L224.2,183.6 L224.7,183.6 L225.2,183.6 L225.7,183.6 L226.2,183.6 L226.7,183.6 L227.2,183.6 L227.7,183.6 L228.2,183.6 L228.7,183.6 L229.2,183.6 L229.7,183.6 L230.2,183.6 L230.7,183.6 L231.2,183.6 L231.7,183.6 L232.2,183.6 L232.7,183.6 L233.2,183.6 L233.7,183.6 L234.2,183.6 L234.7,183.6 L235.2,183.6 L235.7,183.5 L236.2,183.5 L236.7,183.5 L237.2,183.5 L237.7,183.5 L238.2,183.5 L238.7,183.5 L239.2,183.5 L239.7,183.5 L240.2,183.5 L240.7,183.5 L241.2,183.5 L241.7,183.5 L242.2,183.5 L242.7,183.5 L243.2,183.5 L243.7,183.5 L244.2,183.5 L244.7,183.5 L245.2,183.5 L245.7,183.5 L246.2,183.5 L246.7,183.5 L247.2,183.5 L247.7,183.5 L248.2,183.5 L248.7,183.5 L249.2,183.5 L249.7,183.5 L250.2,183.5 L250.7,183.5 L251.2,183.5 L251.7,183.5 L252.2,183.5 L252.7,183.5 L253.2,183.5 L253.7,183.5 L254.2,183.5 L254.7,183.5 L255.2,183.4 L255.7,183.4 L256.2,183.4 L256.7,183.4 L257.2,183.4 L257.7,183.4 L258.2,183.4 L258.7,183.4 L259.2,183.4 L259.7,183.4 L260.2,183.4 L260.7,183.4 L261.2,183.4 L261.7,183.4 L262.2,183.4 L262.7,183.4 L263.2,183.4 L263.7,183.4 L264.2,183.4 L264.7,183.4 L265.2,183.3 L265.7,183.3 L266.2,183.3 L266.7,183.3 L267.2,183.3 L267.7,183.3 L268.2,183.3 L268.7,183.3 L269.2,183.3 L269.7,183.3 L270.2,183.3 L270.7,183.3 L271.2,183.2 L271.7,183.2 L272.2,183.2 L272.7,183.2 L273.2,183.2 L273.7,183.2 L274.2,183.2 L274.7,183.2 L275.2,183.1 L275.7,183.1 L276.2,183.1 L276.7,183.1 L277.2,183.1 L277.7,183.1 L278.2,183.1 L278.7,183.0 L279.2,183.0 L279.7,183.0 L280.2,183.0 L280.7,183.0 L281.2,182.9 L281.7,182.9 L282.2,182.9 L282.7,182.9 L283.2,182.9 L283.7,182.8 L284.2,182.8 L284.7,182.8 L285.2,182.7 L285.7,182.7 L286.2,182.7 L286.7,182.7 L287.2,182.6 L287.7,182.6 L288.2,182.6 L288.7,182.5 L289.2,182.5 L289.7,182.5 L290.2,182.4 L290.7,182.4 L291.2,182.3 L291.7,182.3 L292.2,182.2 L292.7,182.2 L293.2,182.2 L293.7,182.1 L294.2,182.0 L294.7,182.0 L295.2,181.9 L295.7,181.9 L296.2,181.8 L296.7,181.7 L297.2,181.6 L297.7,181.5 L298.2,181.4 L298.7,181.2 L299.2,181.0 L299.7,180.8 L300.2,180.6 L300.7,180.4 L301.2,180.1 L301.7,179.7 L302.2,179.3 L302.7,178.9 L303.2,178.4 L303.7,177.8 L304.2,177.2 L304.7,176.5 L305.2,175.8 L305.7,174.9 L306.2,174.0 L306.7,173.0 L307.2,172.0 L307.7,170.9 L308.2,169.8 L308.7,168.6 L309.2,167.5 L309.7,166.4 L310.2,165.3 L310.7,164.4 L311.2,163.6 L311.7,163.1 L312.2,162.8 L312.7,162.8 L313.2,163.0 L313.7,163.5 L314.2,164.2 L314.7,165.1 L315.2,166.1 L315.7,167.2 L316.2,168.5 L316.7,169.8 L317.2,171.1 L317.7,172.4 L318.2,173.6 L318.7,174.9 L319.2,176.0 L319.7,177.2 L320.2,178.2 L320.7,179.2 L321.2,180.1 L321.7,181.0 L322.2,181.7 L322.7,182.5 L323.2,183.1 L323.7,183.7 L324.2,184.3 L324.7,184.7 L325.2,185.2 L325.7,185.6 L326.2,185.9 L326.7,186.3 L327.2,186.6 L327.7,186.8 L328.2,187.1 L328.7,187.3 L329.2,187.5 L329.7,187.6 L330.2,187.8 L330.7,187.9 L331.2,188.1 L331.7,188.2 L332.2,188.3 L332.7,188.4 L333.2,188.5 L333.7,188.6 L334.2,188.7 L334.7,188.7 L335.2,188.8 L335.7,188.9 L336.2,188.9 L336.7,189.0 L337.2,189.0 L337.7,189.1 L338.2,189.1 L338.7,189.2 L339.2,189.2 L339.7,189.3 L340.2,189.3 L340.7,189.3 L341.2,189.4 L341.7,189.4 L342.2,189.4 L342.7,189.5 L343.2,189.5 L343.7,189.5 L344.2,189.6 L344.7,189.6 L345.2,189.6 L345.7,189.6 L346.2,189.7 L346.7,189.7 L347.2,189.7 L347.7,189.7 L348.2,189.7 L348.7,189.8 L349.2,189.8 L349.7,189.8 L350.2,189.8 L350.7,189.8 L351.2,189.8 L351.7,189.9 L352.2,189.9 L352.7,189.9 L353.2,189.9 L353.7,189.9 L354.2,189.9 L354.7,189.9 L355.2,189.9 L355.7,189.9 L356.2,190.0 L356.7,190.0 L357.2,190.0 L357.7,190.0 L358.2,190.0 L358.7,190.0 L359.2,190.0 L359.7,190.0 L360.2,190.0 L360.7,190.0 L361.2,190.0 L361.7,190.1 L362.2,190.1 L362.7,190.1 L363.2,190.1 L363.7,190.1 L364.2,190.1 L364.7,190.1 L365.2,190.1 L365.7,190.1 L366.2,190.1 L366.7,190.1 L367.2,190.1 L367.7,190.1 L368.2,190.1 L368.7,190.1 L369.2,190.1 L369.7,190.1 L370.2,190.2 L370.7,190.2 L371.2,190.2 L371.7,190.2 L372.2,190.2 L372.7,190.2 L373.2,190.2 L373.7,190.2 L374.2,190.2 L374.7,190.2" fill="none" stroke="#9900ff" stroke-width="1.3"/>
<path d="M212.2,183.8 L212.7,183.8 L213.2,183.8 L213.7,183.8 L214.2,183.8 L214.7,183.8 L215.2,183.8 L215.7,183.8 L216.2,183.8 L216.7,183.8 L217.2,183.8 L217.7,183.8 L218.2,183.8 L218.7,183.9 L219.2,183.9 L219.7,183.9 L220.2,183.9 L220.7,183.9 L221.2,183.9 L221.7,183.9 L222.2,183.9 L222.7,183.9 L223.2,183.9 L223.7,184.0 L224.2,184.0 L224.7,184.0 L225.2,184.0 L225.7,184.0 L226.2,184.0 L226.7,184.0 L227.2,184.0 L227.7,184.1 L228.2,184.1 L228.7,184.1 L229.2,184.1 L229.7,184.1 L230.2,184.1 L230.7,184.2 L231.2,184.2 L231.7,184.2 L232.2,184.2 L232.7,184.2 L233.2,184.2 L233.7,184.3 L234.2,184.3 L234.7,184.3 L235.2,184.3 L235.7,184.3 L236.2,184.4 L236.7,184.4 L237.2,184.4 L237.7,184.4 L238.2,184.4 L238.7,184.4 L239.2,184.5 L239.7,184.5 L240.2,184.5 L240.7,184.5 L241.2,184.6 L241.7,184.6 L242.2,184.6 L242.7,184.7 L243.2,184.7 L243.7,184.7 L244.2,184.8 L244.7,184.8 L245.2,184.9 L245.7,184.9 L246.2,185.0 L246.7,185.0 L247.2,185.1 L247.7,185.1 L248.2,185.2 L248.7,185.2 L249.2,185.3 L249.7,185.3 L250.2,185.4 L250.7,185.4 L251.2,185.4 L251.7,185.5 L252.2,185.5 L252.7,185.6 L253.2,185.6 L253.7,185.7 L254.2,185.7 L254.7,185.7 L255.2,185.8 L255.7,185.8 L256.2,185.8 L256.7,185.8 L257.2,185.9 L257.7,185.9 L258.2,185.9 L258.7,185.9 L259.2,185.9 L259.7,186.0 L260.2,186.0 L260.7,186.0 L261.2,186.0 L261.7,186.0 L262.2,186.1 L262.7,186.1 L263.2,186.1 L263.7,186.1 L264.2,186.1 L264.7,186.1 L265.2,186.2 L265.7,186.2 L266.2,186.2 L266.7,186.2 L267.2,186.2 L267.7,186.2 L268.2,186.2 L268.7,186.3 L269.2,186.3 L269.7,186.3 L270.2,186.3 L270.7,186.3 L271.2,186.3 L271.7,186.3 L272.2,186.3 L272.7,186.4 L273.2,186.4 L273.7,186.4 L274.2,186.4 L274.7,186.4 L275.2,186.4 L275.7,186.4 L276.2,186.4 L276.7,186.5 L277.2,186.5 L277.7,186.5 L278.2,186.5 L278.7,186.5 L279.2,186.5 L279.7,186.5 L280.2,186.5 L280.7,186.6 L281.2,186.6 L281.7,186.6 L282.2,186.6 L282.7,186.6 L283.2,186.6 L283.7,186.6 L284.2,186.6 L284.7,186.7 L285.2,186.7 L285.7,186.7 L286.2,186.7 L286.7,186.7 L287.2,186.7 L287.7,186.7 L288.2,186.8 L288.7,186.8 L289.2,186.8 L289.7,186.8 L290.2,186.8 L290.7,186.8 L291.2,186.9 L291.7,186.9 L292.2,186.9 L292.7,186.9 L293.2,186.9 L293.7,186.9 L294.2,187.0 L294.7,187.0 L295.2,187.0 L295.7,187.0 L296.2,187.1 L296.7,187.1 L297.2,187.1 L297.7,187.1 L298.2,187.2 L298.7,187.2 L299.2,187.2 L299.7,187.2 L300.2,187.3 L300.7,187.3 L301.2,187.3 L301.7,187.4 L302.2,187.4 L302.7,187.4 L303.2,187.5 L303.7,187.5 L304.2,187.5 L304.7,187.6 L305.2,187.6 L305.7,187.6 L306.2,187.7 L306.7,187.7 L307.2,187.7 L307.7,187.8 L308.2,187.8 L308.7,187.9 L309.2,187.9 L309.7,187.9 L310.2,188.0 L310.7,188.0 L311.2,188.1 L311.7,188.1 L312.2,188.1 L312.7,188.2 L313.2,188.2 L313.7,188.3 L314.2,188.3 L314.7,188.3 L315.2,188.4 L315.7,188.4 L316.2,188.5 L316.7,188.5 L317.2,188.6 L317.7,188.6 L318.2,188.6 L318.7,188.7 L319.2,188.7 L319.7,188.8 L320.2,188.8 L320.7,188.9 L321.2,188.9 L321.7,188.9 L322.2,189.0 L322.7,189.0 L323.2,189.1 L323.7,189.1 L324.2,189.2 L324.7,189.2 L325.2,189.2 L325.7,189.3 L326.2,189.3 L326.7,189.4 L327.2,189.4 L327.7,189.4 L328.2,189.5 L328.7,189.5 L329.2,189.6 L329.7,189.6 L330.2,189.6 L330.7,189.7 L331.2,189.7 L331.7,189.8 L332.2,189.8 L332.7,189.8 L333.2,189.9 L333.7,189.9 L334.2,189.9 L334.7,190.0 L335.2,190.0 L335.7,190.0 L336.2,190.1 L336.7,190.1 L337.2,190.1 L337.7,190.2 L338.2,190.2 L338.7,190.2 L339.2,190.2 L339.7,190.3 L340.2,190.3 L340.7,190.3 L341.2,190.3 L341.7,190.4 L342.2,190.4 L342.7,190.4 L343.2,190.4 L343.7,190.5 L344.2,190.5 L344.7,190.5 L345.2,190.5 L345.7,190.5 L346.2,190.5 L346.7,190.6 L347.2,190.6 L347.7,190.6 L348.2,190.6 L348.7,190.6 L349.2,190.6 L349.7,190.7 L350.2,190.7 L350.7,190.7 L351.2,190.7 L351.7,190.7 L352.2,190.7 L352.7,190.7 L353.2,190.8 L353.7,190.8 L354.2,190.8 L354.7,190.8 L355.2,190.8 L355.7,190.8 L356.2,190.9 L356.7,190.9 L357.2,190.9 L357.7,190.9 L358.2,190.9 L358.7,190.9 L359.2,190.9 L359.7,190.9 L360.2,191.0 L360.7,191.0 L361.2,191.0 L361.7,191.0 L362.2,191.0 L362.7,191.0 L363.2,191.0 L363.7,191.0 L364.2,191.1 L364.7,191.1 L365.2,191.1 L365.7,191.1 L366.2,191.1 L366.7,191.1 L367.2,191.1 L367.7,191.1 L368.2,191.1 L368.7,191.1 L369.2,191.1 L369.7,191.1 L370.2,191.2 L370.7,191.2 L371.2,191.2 L371.7,191.2 L372.2,191.2 L372.7,191.2 L373.2,191.2 L373.7,191.2 L374.2,191.2 L374.7,191.2" fill="none" stroke="#ff00ff" stroke-width="1.3"/>
<path d="M285.2,187.1 L285.7,187.2 L286.2,187.2 L286.7,187.2 L287.2,187.3 L287.7,187.3 L288.2,187.3 L288.7,187.4 L289.2,187.4 L289.7,187.4 L290.2,187.5 L290.7,187.5 L291.2,187.5 L291.7,187.6 L292.2,187.6 L292.7,187.6 L293.2,187.7 L293.7,187.7 L294.2,187.7 L294.7,187.8 L295.2,187.8 L295.7,187.8 L296.2,187.9 L296.7,187.9 L297.2,188.0 L297.7,188.0 L298.2,188.0 L298.7,188.1 L299.2,188.1 L299.7,188.2 L300.2,188.2 L300.7,188.2 L301.2,188.3 L301.7,188.3 L302.2,188.4 L302.7,188.4 L303.2,188.4 L303.7,188.5 L304.2,188.5 L304.7,188.6 L305.2,188.6 L305.7,188.7 L306.2,188.7 L306.7,188.7 L307.2,188.8 L307.7,188.8 L308.2,188.9 L308.7,188.9 L309.2,189.0 L309.7,189.0 L310.2,189.1 L310.7,189.1 L311.2,189.2 L311.7,189.2 L312.2,189.2 L312.7,189.3 L313.2,189.3 L313.7,189.4 L314.2,189.4 L314.7,189.5 L315.2,189.5 L315.7,189.6 L316.2,189.6 L316.7,189.7 L317.2,189.7 L317.7,189.7 L318.2,189.8 L318.7,189.8 L319.2,189.9 L319.7,189.9 L320.2,190.0 L320.7,190.0 L321.2,190.1 L321.7,190.1 L322.2,190.1 L322.7,190.2 L323.2,190.2 L323.7,190.3 L324.2,190.3 L324.7,190.4 L325.2,190.4 L325.7,190.4 L326.2,190.5 L326.7,190.5 L327.2,190.6 L327.7,190.6 L328.2,190.6 L328.7,190.7 L329.2,190.7 L329.7,190.7 L330.2,190.8 L330.7,190.8 L331.2,190.8 L331.7,190.9 L332.2,190.9 L332.7,190.9 L333.2,191.0 L333.7,191.0 L334.2,191.0 L334.7,191.1 L335.2,191.1 L335.7,191.1 L336.2,191.2 L336.7,191.2 L337.2,191.2 L337.7,191.2 L338.2,191.3 L338.7,191.3 L339.2,191.3 L339.7,191.3 L340.2,191.3 L340.7,191.4 L341.2,191.4 L341.7,191.4 L342.2,191.4 L342.7,191.4 L343.2,191.5 L343.7,191.5 L344.2,191.5 L344.7,191.5 L345.2,191.5 L345.7,191.5 L346.2,191.5 L346.7,191.5 L347.2,191.5 L347.7,191.6 L348.2,191.6 L348.7,191.6 L349.2,191.6 L349.7,191.6 L350.2,191.6 L350.7,191.6 L351.2,191.6 L351.7,191.6 L352.2,191.6 L352.7,191.7 L353.2,191.7 L353.7,191.7 L354.2,191.7 L354.7,191.7 L355.2,191.7 L355.7,191.7 L356.2,191.7 L356.7,191.7 L357.2,191.7 L357.7,191.7 L358.2,191.8 L358.7,191.8 L359.2,191.8 L359.7,191.8 L360.2,191.8 L360.7,191.8 L361.2,191.8 L361.7,191.8 L362.2,191.8 L362.7,191.8 L363.2,191.8 L363.7,191.8 L364.2,191.8 L364.7,191.8 L365.2,191.8 L365.7,191.9 L366.2,191.9 L366.7,191.9 L367.2,191.9 L367.7,191.9 L368.2,191.9 L368.7,191.9 L369.2,191.9 L369.7,191.9 L370.2,191.9 L370.7,191.9 L371.2,191.9 L371.7,191.9 L372.2,191.9 L372.7,191.9 L373.2,191.9 L373.7,191.9 L374.2,191.9 L374.7,191.9" fill="none" stroke="#1a1aff" stroke-width="1.3"/>
<path d="M212.2,181.5 L212.7,181.5 L213.2,181.5 L213.7,181.5 L214.2,181.4 L214.7,181.4 L215.2,181.4 L215.7,181.4 L216.2,181.4 L216.7,181.3 L217.2,181.3 L217.7,181.3 L218.2,181.3 L218.7,181.3 L219.2,181.2 L219.7,181.2 L220.2,181.2 L220.7,181.2 L221.2,181.1 L221.7,181.1 L222.2,181.1 L222.7,181.1 L223.2,181.0 L223.7,181.0 L224.2,181.0 L224.7,180.9 L225.2,180.9 L225.7,180.9 L226.2,180.9 L226.7,180.8 L227.2,180.8 L227.7,180.8 L228.2,180.7 L228.7,180.7 L229.2,180.6 L229.7,180.6 L230.2,180.6 L230.7,180.5 L231.2,180.5 L231.7,180.4 L232.2,180.4 L232.7,180.4 L233.2,180.3 L233.7,180.3 L234.2,180.2 L234.7,180.2 L235.2,180.1 L235.7,180.1 L236.2,180.0 L236.7,179.9 L237.2,179.9 L237.7,179.8 L238.2,179.8 L238.7,179.7 L239.2,179.6 L239.7,179.6 L240.2,179.5 L240.7,179.4 L241.2,179.3 L241.7,179.2 L242.2,179.2 L242.7,179.1 L243.2,179.0 L243.7,178.9 L244.2,178.8 L244.7,178.7 L245.2,178.6 L245.7,178.4 L246.2,178.3 L246.7,178.2 L247.2,178.1 L247.7,177.9 L248.2,177.8 L248.7,177.6 L249.2,177.4 L249.7,177.2 L250.2,177.0 L250.7,176.8 L251.2,176.6 L251.7,176.3 L252.2,176.1 L252.7,175.8 L253.2,175.5 L253.7,175.2 L254.2,174.8 L254.7,174.4 L255.2,174.0 L255.7,173.6 L256.2,173.1 L256.7,172.6 L257.2,172.1 L257.7,171.5 L258.2,170.8 L258.7,170.2 L259.2,169.5 L259.7,168.7 L260.2,167.9 L260.7,167.0 L261.2,166.1 L261.7,165.1 L262.2,164.1 L262.7,163.0 L263.2,161.9 L263.7,160.7 L264.2,159.4 L264.7,158.1 L265.2,156.8 L265.7,155.4 L266.2,154.0 L266.7,152.5 L267.2,151.0 L267.7,149.5 L268.2,148.0 L268.7,146.5 L269.2,145.0 L269.7,143.5 L270.2,142.1 L270.7,140.8 L271.2,139.5 L271.7,138.3 L272.2,137.2 L272.7,136.3 L273.2,135.5 L273.7,134.9 L274.2,134.4 L274.7,134.2 L275.2,134.1 L275.7,134.0 L276.2,134.1 L276.7,134.3 L277.2,134.5 L277.7,134.9 L278.2,135.3 L278.7,135.7 L279.2,136.2 L279.7,136.8 L280.2,137.3 L280.7,137.9 L281.2,138.4 L281.7,139.0 L282.2,139.5 L282.7,139.9 L283.2,140.3 L283.7,140.6 L284.2,140.8 L284.7,140.8 L285.2,140.7 L285.7,140.4 L286.2,139.9 L286.7,139.2 L287.2,138.2 L287.7,136.9 L288.2,135.2 L288.7,133.2 L289.2,130.7 L289.7,127.8 L290.2,124.5 L290.7,120.7 L291.2,116.3 L291.7,111.4 L292.2,106.1 L292.7,100.2 L293.2,93.8 L293.7,86.9 L294.2,79.7 L294.7,72.1 L295.2,64.3 L295.7,56.3 L296.2,48.5 L296.7,40.8 L297.2,33.7 L297.7,27.2 L298.2,21.7 L298.7,17.4 L299.2,14.6 L299.7,13.4 L300.2,13.6 L300.7,14.7 L301.2,16.8 L301.7,19.7 L302.2,23.3 L302.7,27.6 L303.2,32.3 L303.7,37.4 L304.2,42.8 L304.7,48.4 L305.2,54.1 L305.7,59.7 L306.2,65.3 L306.7,70.8 L307.2,76.1 L307.7,81.2 L308.2,86.1 L308.7,90.8 L309.2,95.2 L309.7,99.4 L310.2,103.3 L310.7,107.1 L311.2,110.6 L311.7,113.9 L312.2,117.0 L312.7,120.0 L313.2,122.9 L313.7,125.7 L314.2,128.3 L314.7,130.9 L315.2,133.3 L315.7,135.6 L316.2,137.7 L316.7,139.8 L317.2,141.8 L317.7,143.6 L318.2,145.4 L318.7,147.1 L319.2,148.7 L319.7,150.2 L320.2,151.6 L320.7,152.9 L321.2,154.1 L321.7,155.1 L322.2,156.0 L322.7,156.8 L323.2,157.4 L323.7,157.9 L324.2,158.2 L324.7,158.4 L325.2,158.5 L325.7,158.6 L326.2,158.8 L326.7,159.2 L327.2,159.8 L327.7,160.7 L328.2,161.7 L328.7,162.8 L329.2,163.9 L329.7,165.0 L330.2,166.2 L330.7,167.4 L331.2,168.5 L331.7,169.7 L332.2,170.8 L332.7,171.8 L333.2,172.9 L333.7,173.9 L334.2,174.8 L334.7,175.7 L335.2,176.5 L335.7,177.3 L336.2,178.0 L336.7,178.7 L337.2,179.3 L337.7,179.9 L338.2,180.4 L338.7,180.9 L339.2,181.4 L339.7,181.8 L340.2,182.2 L340.7,182.6 L341.2,182.9 L341.7,183.2 L342.2,183.5 L342.7,183.8 L343.2,184.1 L343.7,184.3 L344.2,184.5 L344.7,184.8 L345.2,185.0 L345.7,185.1 L346.2,185.3 L346.7,185.5 L347.2,185.6 L347.7,185.8 L348.2,185.9 L348.7,186.1 L349.2,186.2 L349.7,186.3 L350.2,186.4 L350.7,186.6 L351.2,186.7 L351.7,186.8 L352.2,186.9 L352.7,187.0 L353.2,187.1 L353.7,187.1 L354.2,187.2 L354.7,187.3 L355.2,187.4 L355.7,187.5 L356.2,187.5 L356.7,187.6 L357.2,187.7 L357.7,187.8 L358.2,187.8 L358.7,187.9 L359.2,187.9 L359.7,188.0 L360.2,188.1 L360.7,188.1 L361.2,188.2 L361.7,188.2 L362.2,188.3 L362.7,188.3 L363.2,188.4 L363.7,188.4 L364.2,188.5 L364.7,188.5 L365.2,188.6 L365.7,188.6 L366.2,188.6 L366.7,188.7 L367.2,188.7 L367.7,188.8 L368.2,188.8 L368.7,188.8 L369.2,188.9 L369.7,188.9 L370.2,188.9 L370.7,189.0 L371.2,189.0 L371.7,189.0 L372.2,189.1 L372.7,189.1 L373.2,189.1 L373.7,189.2 L374.2,189.2 L374.7,189.2" fill="none" stroke="#ff0000" stroke-width="1.5"/>
</g>
<g clip-path="url(#cc)">
<path d="M378.5,179.0 L379.0,179.0 L379.5,179.0 L380.0,178.9 L380.5,178.9 L381.0,178.9 L381.5,178.9 L382.0,178.9 L382.5,178.9 L383.0,178.8 L383.5,178.8 L384.0,178.8 L384.5,178.8 L385.0,178.8 L385.5,178.7 L386.0,178.7 L386.5,178.7 L387.0,178.7 L387.5,178.6 L388.0,178.6 L388.5,178.6 L389.0,178.6 L389.5,178.5 L390.0,178.5 L390.5,178.5 L391.0,178.5 L391.5,178.4 L392.0,178.4 L392.5,178.4 L393.0,178.4 L393.5,178.3 L394.0,178.3 L394.5,178.3 L395.0,178.2 L395.5,178.2 L396.0,178.2 L396.5,178.1 L397.0,178.1 L397.5,178.0 L398.0,178.0 L398.5,178.0 L399.0,177.9 L399.5,177.9 L400.0,177.8 L400.5,177.8 L401.0,177.8 L401.5,177.7 L402.0,177.7 L402.5,177.6 L403.0,177.6 L403.5,177.5 L404.0,177.5 L404.5,177.4 L405.0,177.3 L405.5,177.3 L406.0,177.2 L406.5,177.2 L407.0,177.1 L407.5,177.0 L408.0,177.0 L408.5,176.9 L409.0,176.8 L409.5,176.8 L410.0,176.7 L410.5,176.6 L411.0,176.5 L411.5,176.4 L412.0,176.4 L412.5,176.3 L413.0,176.2 L413.5,176.1 L414.0,176.0 L414.5,175.9 L415.0,175.8 L415.5,175.7 L416.0,175.6 L416.5,175.4 L417.0,175.3 L417.5,175.2 L418.0,175.1 L418.5,174.9 L419.0,174.8 L419.5,174.6 L420.0,174.5 L420.5,174.3 L421.0,174.2 L421.5,174.0 L422.0,173.8 L422.5,173.7 L423.0,173.5 L423.5,173.3 L424.0,173.1 L424.5,172.9 L425.0,172.6 L425.5,172.4 L426.0,172.2 L426.5,171.9 L427.0,171.6 L427.5,171.4 L428.0,171.1 L428.5,170.8 L429.0,170.5 L429.5,170.1 L430.0,169.8 L430.5,169.4 L431.0,169.1 L431.5,168.7 L432.0,168.3 L432.5,167.8 L433.0,167.4 L433.5,166.9 L434.0,166.4 L434.5,165.9 L435.0,165.3 L435.5,164.8 L436.0,164.2 L436.5,163.5 L437.0,162.9 L437.5,162.2 L438.0,161.5 L438.5,160.7 L439.0,159.9 L439.5,159.1 L440.0,158.2 L440.5,157.3 L441.0,156.4 L441.5,155.4 L442.0,154.5 L442.5,153.4 L443.0,152.4 L443.5,151.3 L444.0,150.2 L444.5,149.1 L445.0,148.0 L445.5,146.9 L446.0,145.8 L446.5,144.7 L447.0,143.7 L447.5,142.7 L448.0,141.7 L448.5,140.9 L449.0,140.1 L449.5,139.4 L450.0,138.8 L450.5,138.4 L451.0,138.1 L451.5,137.9 L452.0,137.9 L452.5,138.0 L453.0,138.4 L453.5,139.0 L454.0,139.7 L454.5,140.7 L455.0,141.8 L455.5,143.1 L456.0,144.4 L456.5,145.9 L457.0,147.4 L457.5,148.9 L458.0,150.5 L458.5,152.0 L459.0,153.6 L459.5,155.1 L460.0,156.6 L460.5,158.1 L461.0,159.4 L461.5,160.8 L462.0,162.1 L462.5,163.3 L463.0,164.5 L463.5,165.6 L464.0,166.7 L464.5,167.7 L465.0,168.7 L465.5,169.6 L466.0,170.5 L466.5,171.3 L467.0,172.1 L467.5,172.8 L468.0,173.5 L468.5,174.2 L469.0,174.8 L469.5,175.4 L470.0,176.0 L470.5,176.6 L471.0,177.1 L471.5,177.6 L472.0,178.0 L472.5,178.5 L473.0,178.9 L473.5,179.3 L474.0,179.7 L474.5,180.1 L475.0,180.4 L475.5,180.7 L476.0,181.1 L476.5,181.4 L477.0,181.7 L477.5,181.9 L478.0,182.2 L478.5,182.4 L479.0,182.7 L479.5,182.9 L480.0,183.1 L480.5,183.3 L481.0,183.5 L481.5,183.7 L482.0,183.9 L482.5,184.1 L483.0,184.3 L483.5,184.4 L483.5,184.7 L483.0,184.6 L482.5,184.5 L482.0,184.5 L481.5,184.4 L481.0,184.4 L480.5,184.3 L480.0,184.3 L479.5,184.3 L479.0,184.3 L478.5,184.2 L478.0,184.2 L477.5,184.2 L477.0,184.2 L476.5,184.2 L476.0,184.2 L475.5,184.1 L475.0,184.1 L474.5,184.1 L474.0,184.1 L473.5,184.1 L473.0,184.1 L472.5,184.1 L472.0,184.1 L471.5,184.1 L471.0,184.0 L470.5,184.0 L470.0,184.0 L469.5,184.0 L469.0,184.0 L468.5,184.0 L468.0,184.0 L467.5,184.0 L467.0,183.9 L466.5,183.9 L466.0,183.9 L465.5,183.9 L465.0,183.9 L464.5,183.8 L464.0,183.8 L463.5,183.8 L463.0,183.8 L462.5,183.8 L462.0,183.7 L461.5,183.7 L461.0,183.7 L460.5,183.7 L460.0,183.7 L459.5,183.6 L459.0,183.6 L458.5,183.6 L458.0,183.6 L457.5,183.5 L457.0,183.5 L456.5,183.5 L456.0,183.5 L455.5,183.4 L455.0,183.4 L454.5,183.4 L454.0,183.4 L453.5,183.3 L453.0,183.3 L452.5,183.3 L452.0,183.2 L451.5,183.2 L451.0,183.2 L450.5,183.2 L450.0,183.1 L449.5,183.1 L449.0,183.1 L448.5,183.0 L448.0,183.0 L447.5,183.0 L447.0,182.9 L446.5,182.9 L446.0,182.9 L445.5,182.8 L445.0,182.8 L444.5,182.8 L444.0,182.7 L443.5,182.7 L443.0,182.7 L442.5,182.6 L442.0,182.6 L441.5,182.6 L441.0,182.5 L440.5,182.5 L440.0,182.5 L439.5,182.4 L439.0,182.4 L438.5,182.4 L438.0,182.3 L437.5,182.3 L437.0,182.2 L436.5,182.2 L436.0,182.2 L435.5,182.1 L435.0,182.1 L434.5,182.1 L434.0,182.0 L433.5,182.0 L433.0,181.9 L432.5,181.9 L432.0,181.9 L431.5,181.8 L431.0,181.8 L430.5,181.7 L430.0,181.7 L429.5,181.7 L429.0,181.6 L428.5,181.6 L428.0,181.5 L427.5,181.4 L427.0,181.4 L426.5,181.3 L426.0,181.3 L425.5,181.2 L425.0,181.2 L424.5,181.2 L424.0,181.1 L423.5,181.1 L423.0,181.1 L422.5,181.0 L422.0,181.0 L421.5,181.0 L421.0,180.9 L420.5,180.9 L420.0,180.9 L419.5,180.8 L419.0,180.8 L418.5,180.8 L418.0,180.8 L417.5,180.7 L417.0,180.7 L416.5,180.7 L416.0,180.6 L415.5,180.6 L415.0,180.6 L414.5,180.5 L414.0,180.5 L413.5,180.5 L413.0,180.4 L412.5,180.4 L412.0,180.4 L411.5,180.4 L411.0,180.3 L410.5,180.3 L410.0,180.3 L409.5,180.2 L409.0,180.2 L408.5,180.2 L408.0,180.2 L407.5,180.1 L407.0,180.1 L406.5,180.1 L406.0,180.1 L405.5,180.0 L405.0,180.0 L404.5,180.0 L404.0,180.0 L403.5,179.9 L403.0,179.9 L402.5,179.9 L402.0,179.9 L401.5,179.8 L401.0,179.8 L400.5,179.8 L400.0,179.8 L399.5,179.8 L399.0,179.7 L398.5,179.7 L398.0,179.7 L397.5,179.7 L397.0,179.7 L396.5,179.6 L396.0,179.6 L395.5,179.6 L395.0,179.6 L394.5,179.6 L394.0,179.6 L393.5,179.5 L393.0,179.5 L392.5,179.5 L392.0,179.5 L391.5,179.5 L391.0,179.5 L390.5,179.5 L390.0,179.4 L389.5,179.4 L389.0,179.4 L388.5,179.4 L388.0,179.4 L387.5,179.4 L387.0,179.4 L386.5,179.4 L386.0,179.4 L385.5,179.4 L385.0,179.3 L384.5,179.3 L384.0,179.3 L383.5,179.3 L383.0,179.3 L382.5,179.3 L382.0,179.3 L381.5,179.3 L381.0,179.3 L380.5,179.3 L380.0,179.3 L379.5,179.3 L379.0,179.3 L378.5,179.3 Z" fill="#ffff00"/>
<path d="M378.5,180.2 L379.0,179.9 L379.5,180.0 L380.0,181.5 L380.5,181.3 L381.0,179.7 L381.5,179.9 L382.0,180.8 L382.5,180.8 L383.0,180.3 L383.5,180.2 L384.0,181.1 L384.5,180.5 L385.0,180.5 L385.5,180.5 L386.0,180.1 L386.5,179.4 L387.0,180.1 L387.5,179.4 L388.0,178.4 L388.5,179.2 L389.0,179.2 L389.5,178.4 L390.0,177.4 L390.5,179.3 L391.0,179.8 L391.5,179.0 L392.0,179.3 L392.5,179.7 L393.0,179.8 L393.5,180.5 L394.0,180.7 L394.5,179.9 L395.0,179.4 L395.5,179.0 L396.0,178.4 L396.5,179.6 L397.0,180.0 L397.5,179.8 L398.0,180.0 L398.5,181.4 L399.0,181.0 L399.5,180.1 L400.0,180.4 L400.5,178.8 L401.0,179.3 L401.5,180.0 L402.0,178.4 L402.5,178.3 L403.0,179.6 L403.5,179.2 L404.0,179.5 L404.5,179.3 L405.0,179.4 L405.5,179.9 L406.0,179.2 L406.5,179.2 L407.0,179.1 L407.5,178.5 L408.0,178.2 L408.5,178.1 L409.0,177.3 L409.5,178.3 L410.0,179.4 L410.5,179.0 L411.0,177.5 L411.5,177.9 L412.0,177.4 L412.5,177.2 L413.0,177.5 L413.5,178.1 L414.0,178.2 L414.5,177.4 L415.0,176.5 L415.5,175.4 L416.0,176.3 L416.5,175.1 L417.0,174.6 L417.5,174.8 L418.0,174.8 L418.5,174.3 L419.0,173.2 L419.5,173.3 L420.0,172.8 L420.5,172.6 L421.0,172.8 L421.5,171.8 L422.0,171.2 L422.5,170.7 L423.0,170.8 L423.5,170.3 L424.0,169.8 L424.5,169.0 L425.0,168.6 L425.5,168.3 L426.0,166.8 L426.5,167.5 L427.0,167.2 L427.5,167.1 L428.0,167.8 L428.5,166.6 L429.0,165.4 L429.5,164.7 L430.0,164.8 L430.5,163.9 L431.0,162.8 L431.5,162.5 L432.0,161.9 L432.5,160.8 L433.0,159.5 L433.5,159.0 L434.0,157.7 L434.5,157.1 L435.0,156.0 L435.5,154.6 L436.0,154.2 L436.5,153.2 L437.0,151.9 L437.5,150.4 L438.0,149.0 L438.5,147.8 L439.0,147.5 L439.5,145.6 L440.0,144.8 L440.5,144.1 L441.0,142.9 L441.5,142.3 L442.0,140.8 L442.5,139.7 L443.0,137.5 L443.5,136.8 L444.0,136.6 L444.5,134.8 L445.0,133.3 L445.5,132.3 L446.0,131.2 L446.5,130.3 L447.0,129.0 L447.5,127.0 L448.0,125.5 L448.5,123.7 L449.0,122.5 L449.5,121.5 L450.0,120.6 L450.5,119.2 L451.0,118.1 L451.5,116.9 L452.0,114.8 L452.5,113.6 L453.0,112.5 L453.5,111.8 L454.0,110.2 L454.5,108.2 L455.0,106.8 L455.5,105.7 L456.0,104.5 L456.5,101.7 L457.0,100.0 L457.5,98.2 L458.0,95.1 L458.5,92.0 L459.0,89.0 L459.5,85.2 L460.0,82.4 L460.5,79.4 L461.0,76.0 L461.5,72.2 L462.0,68.8 L462.5,65.5 L463.0,61.6 L463.5,57.9 L464.0,54.1 L464.5,51.3 L465.0,47.7 L465.5,43.7 L466.0,40.4 L466.5,37.3 L467.0,34.0 L467.5,31.2 L468.0,28.1 L468.5,24.4 L469.0,21.2 L469.5,18.2 L470.0,15.4 L470.5,13.1 L471.0,11.7 L471.5,11.5 L472.0,14.6 L472.5,18.6 L473.0,22.1 L473.5,25.8 L474.0,29.7 L474.5,34.1 L475.0,37.8 L475.5,41.0 L476.0,44.7 L476.5,48.3 L477.0,52.5 L477.5,57.4 L478.0,61.9 L478.5,67.1 L479.0,71.7 L479.5,75.5 L480.0,79.1 L480.5,83.8 L481.0,87.8 L481.5,91.3 L482.0,95.0 L482.5,97.6 L483.0,99.6 L483.5,102.7 L484.0,105.8 L484.5,107.4 L485.0,109.6 L485.5,111.2 L486.0,112.4 L486.5,114.0 L487.0,115.2 L487.5,116.4 L488.0,118.5 L488.5,120.5 L489.0,121.9 L489.5,122.7 L490.0,124.6 L490.5,126.4 L491.0,127.6 L491.5,130.0 L492.0,132.0 L492.5,134.7 L493.0,137.3 L493.5,140.7 L494.0,143.4 L494.5,145.9 L495.0,149.6 L495.5,152.7 L496.0,155.0 L496.5,157.0 L497.0,159.8 L497.5,161.9 L498.0,163.6 L498.5,165.2 L499.0,167.4 L499.5,169.5 L500.0,170.3 L500.5,171.8 L501.0,173.3 L501.5,174.1 L502.0,176.2 L502.5,178.9 L503.0,180.6 L503.5,181.1 L504.0,181.4 L504.5,182.4 L505.0,183.3 L505.5,183.4 L506.0,184.0 L506.5,183.9 L507.0,184.8 L507.5,185.7 L508.0,185.4 L508.5,184.4 L509.0,184.7 L509.5,186.0 L510.0,186.9 L510.5,187.0 L511.0,187.2 L511.5,189.0 L512.0,188.1 L512.5,188.9 L513.0,190.4 L513.5,190.2 L514.0,190.7 L514.5,191.3 L515.0,191.1 L515.5,191.2 L516.0,192.5 L516.5,192.1 L517.0,191.3 L517.5,191.1 L518.0,192.1 L518.5,192.6 L519.0,192.6 L519.5,192.4 L520.0,193.4 L520.5,192.9 L521.0,192.0 L521.5,191.3 L522.0,192.1 L522.5,193.2 L523.0,192.7 L523.5,193.0 L524.0,191.7 L524.5,191.6 L525.0,191.6 L525.5,191.3 L526.0,190.7 L526.5,191.5 L527.0,192.3 L527.5,192.1 L528.0,191.4 L528.5,191.7 L529.0,193.0 L529.5,193.5 L530.0,192.5 L530.5,191.7 L531.0,191.4 L531.5,191.0 L532.0,192.1 L532.5,191.7 L533.0,191.2 L533.5,191.5 L534.0,191.5 L534.5,191.4 L535.0,190.9 L535.5,190.9 L536.0,192.0 L536.5,192.7 L537.0,193.3 L537.5,194.0 L538.0,193.9 L538.5,193.6 L539.0,193.4 L539.5,192.6 L540.0,191.4 L540.5,191.7 L541.0,192.6" fill="none" stroke="#000" stroke-width="1.4" stroke-linejoin="round"/>
<path d="M378.5,179.3 L379.0,179.3 L379.5,179.3 L380.0,179.3 L380.5,179.3 L381.0,179.3 L381.5,179.3 L382.0,179.3 L382.5,179.3 L383.0,179.3 L383.5,179.3 L384.0,179.3 L384.5,179.3 L385.0,179.3 L385.5,179.4 L386.0,179.4 L386.5,179.4 L387.0,179.4 L387.5,179.4 L388.0,179.4 L388.5,179.4 L389.0,179.4 L389.5,179.4 L390.0,179.4 L390.5,179.5 L391.0,179.5 L391.5,179.5 L392.0,179.5 L392.5,179.5 L393.0,179.5 L393.5,179.5 L394.0,179.6 L394.5,179.6 L395.0,179.6 L395.5,179.6 L396.0,179.6 L396.5,179.6 L397.0,179.7 L397.5,179.7 L398.0,179.7 L398.5,179.7 L399.0,179.7 L399.5,179.8 L400.0,179.8 L400.5,179.8 L401.0,179.8 L401.5,179.8 L402.0,179.9 L402.5,179.9 L403.0,179.9 L403.5,179.9 L404.0,180.0 L404.5,180.0 L405.0,180.0 L405.5,180.0 L406.0,180.1 L406.5,180.1 L407.0,180.1 L407.5,180.1 L408.0,180.2 L408.5,180.2 L409.0,180.2 L409.5,180.2 L410.0,180.3 L410.5,180.3 L411.0,180.3 L411.5,180.4 L412.0,180.4 L412.5,180.4 L413.0,180.4 L413.5,180.5 L414.0,180.5 L414.5,180.5 L415.0,180.6 L415.5,180.6 L416.0,180.6 L416.5,180.7 L417.0,180.7 L417.5,180.7 L418.0,180.8 L418.5,180.8 L419.0,180.8 L419.5,180.8 L420.0,180.9 L420.5,180.9 L421.0,180.9 L421.5,181.0 L422.0,181.0 L422.5,181.0 L423.0,181.1 L423.5,181.1 L424.0,181.1 L424.5,181.2 L425.0,181.2 L425.5,181.2 L426.0,181.3 L426.5,181.3 L427.0,181.4 L427.5,181.4 L428.0,181.5 L428.5,181.6 L429.0,181.6 L429.5,181.7 L430.0,181.7 L430.5,181.7 L431.0,181.8 L431.5,181.8 L432.0,181.9 L432.5,181.9 L433.0,181.9 L433.5,182.0 L434.0,182.0 L434.5,182.1 L435.0,182.1 L435.5,182.1 L436.0,182.2 L436.5,182.2 L437.0,182.2 L437.5,182.3 L438.0,182.3 L438.5,182.4 L439.0,182.4 L439.5,182.4 L440.0,182.5 L440.5,182.5 L441.0,182.5 L441.5,182.6 L442.0,182.6 L442.5,182.6 L443.0,182.7 L443.5,182.7 L444.0,182.7 L444.5,182.8 L445.0,182.8 L445.5,182.8 L446.0,182.9 L446.5,182.9 L447.0,182.9 L447.5,183.0 L448.0,183.0 L448.5,183.0 L449.0,183.1 L449.5,183.1 L450.0,183.1 L450.5,183.2 L451.0,183.2 L451.5,183.2 L452.0,183.2 L452.5,183.3 L453.0,183.3 L453.5,183.3 L454.0,183.4 L454.5,183.4 L455.0,183.4 L455.5,183.4 L456.0,183.5 L456.5,183.5 L457.0,183.5 L457.5,183.5 L458.0,183.6 L458.5,183.6 L459.0,183.6 L459.5,183.6 L460.0,183.7 L460.5,183.7 L461.0,183.7 L461.5,183.7 L462.0,183.7 L462.5,183.8 L463.0,183.8 L463.5,183.8 L464.0,183.8 L464.5,183.8 L465.0,183.9 L465.5,183.9 L466.0,183.9 L466.5,183.9 L467.0,183.9 L467.5,184.0 L468.0,184.0 L468.5,184.0 L469.0,184.0 L469.5,184.0 L470.0,184.0 L470.5,184.0 L471.0,184.0 L471.5,184.1 L472.0,184.1 L472.5,184.1 L473.0,184.1 L473.5,184.1 L474.0,184.1 L474.5,184.1 L475.0,184.1 L475.5,184.1 L476.0,184.2 L476.5,184.2 L477.0,184.2 L477.5,184.2 L478.0,184.2 L478.5,184.2 L479.0,184.3 L479.5,184.3 L480.0,184.3 L480.5,184.3 L481.0,184.4 L481.5,184.4 L482.0,184.5 L482.5,184.5 L483.0,184.6 L483.5,184.7 L484.0,184.8 L484.5,184.8 L485.0,184.9 L485.5,185.0 L486.0,185.1 L486.5,185.2 L487.0,185.3 L487.5,185.4 L488.0,185.5 L488.5,185.6 L489.0,185.7 L489.5,185.8 L490.0,185.9 L490.5,186.0 L491.0,186.1 L491.5,186.2 L492.0,186.3 L492.5,186.3 L493.0,186.4 L493.5,186.5 L494.0,186.5 L494.5,186.6 L495.0,186.6 L495.5,186.6 L496.0,186.7 L496.5,186.7 L497.0,186.7 L497.5,186.7 L498.0,186.7 L498.5,186.8 L499.0,186.8 L499.5,186.8 L500.0,186.8 L500.5,186.8 L501.0,186.9 L501.5,186.9 L502.0,186.9 L502.5,186.9 L503.0,186.9 L503.5,186.9 L504.0,186.9 L504.5,187.0 L505.0,187.0 L505.5,187.0 L506.0,187.0 L506.5,187.0 L507.0,187.0 L507.5,187.1 L508.0,187.1 L508.5,187.1 L509.0,187.1 L509.5,187.1 L510.0,187.2 L510.5,187.2 L511.0,187.2 L511.5,187.2 L512.0,187.2 L512.5,187.3 L513.0,187.3 L513.5,187.3 L514.0,187.3 L514.5,187.3 L515.0,187.4 L515.5,187.4 L516.0,187.4 L516.5,187.4 L517.0,187.4 L517.5,187.5 L518.0,187.5 L518.5,187.5 L519.0,187.5 L519.5,187.6 L520.0,187.6 L520.5,187.6 L521.0,187.6 L521.5,187.6 L522.0,187.7 L522.5,187.7 L523.0,187.7 L523.5,187.7 L524.0,187.7 L524.5,187.8 L525.0,187.8 L525.5,187.8 L526.0,187.8 L526.5,187.9 L527.0,187.9 L527.5,187.9 L528.0,187.9 L528.5,187.9 L529.0,188.0 L529.5,188.0 L530.0,188.0 L530.5,188.0 L531.0,188.1 L531.5,188.1 L532.0,188.1 L532.5,188.1 L533.0,188.2 L533.5,188.2 L534.0,188.2 L534.5,188.2 L535.0,188.3 L535.5,188.3 L536.0,188.3 L536.5,188.3 L537.0,188.4 L537.5,188.4 L538.0,188.4 L538.5,188.4 L539.0,188.4 L539.5,188.5 L540.0,188.5 L540.5,188.5 L541.0,188.5" fill="none" stroke="#ff00ff" stroke-width="1.3"/>
<path d="M466.0,184.6 L466.5,184.6 L467.0,184.7 L467.5,184.7 L468.0,184.8 L468.5,184.9 L469.0,184.9 L469.5,185.0 L470.0,185.1 L470.5,185.1 L471.0,185.2 L471.5,185.3 L472.0,185.4 L472.5,185.5 L473.0,185.7 L473.5,185.8 L474.0,186.0 L474.5,186.2 L475.0,186.4 L475.5,186.6 L476.0,186.7 L476.5,186.9 L477.0,187.1 L477.5,187.3 L478.0,187.4 L478.5,187.6 L479.0,187.7 L479.5,187.8 L480.0,187.9 L480.5,188.0 L481.0,188.0 L481.5,188.1 L482.0,188.2 L482.5,188.3 L483.0,188.3 L483.5,188.4 L484.0,188.4 L484.5,188.5 L485.0,188.6 L485.5,188.6 L486.0,188.7 L486.5,188.7 L487.0,188.8 L487.5,188.8 L488.0,188.9 L488.5,188.9 L489.0,189.0 L489.5,189.0 L490.0,189.0 L490.5,189.1 L491.0,189.1 L491.5,189.1 L492.0,189.2 L492.5,189.2 L493.0,189.2 L493.5,189.2 L494.0,189.3 L494.5,189.3 L495.0,189.3 L495.5,189.3 L496.0,189.3 L496.5,189.3 L497.0,189.4 L497.5,189.4 L498.0,189.4 L498.5,189.4 L499.0,189.4 L499.5,189.4 L500.0,189.4 L500.5,189.5 L501.0,189.5 L501.5,189.5 L502.0,189.5 L502.5,189.5 L503.0,189.5 L503.5,189.5 L504.0,189.5 L504.5,189.6 L505.0,189.6 L505.5,189.6 L506.0,189.6 L506.5,189.6 L507.0,189.6 L507.5,189.6 L508.0,189.6 L508.5,189.6 L509.0,189.7 L509.5,189.7 L510.0,189.7 L510.5,189.7 L511.0,189.7 L511.5,189.7 L512.0,189.7 L512.5,189.7 L513.0,189.7 L513.5,189.7 L514.0,189.7 L514.5,189.8 L515.0,189.8 L515.5,189.8 L516.0,189.8 L516.5,189.8 L517.0,189.8 L517.5,189.8 L518.0,189.8 L518.5,189.8 L519.0,189.8 L519.5,189.8 L520.0,189.8 L520.5,189.9 L521.0,189.9 L521.5,189.9 L522.0,189.9 L522.5,189.9 L523.0,189.9 L523.5,189.9 L524.0,189.9 L524.5,189.9 L525.0,189.9 L525.5,189.9 L526.0,189.9 L526.5,189.9 L527.0,189.9 L527.5,189.9 L528.0,189.9 L528.5,189.9 L529.0,189.9 L529.5,189.9 L530.0,190.0 L530.5,190.0 L531.0,190.0 L531.5,190.0 L532.0,190.0 L532.5,190.0 L533.0,190.0 L533.5,190.0 L534.0,190.0 L534.5,190.0 L535.0,190.0 L535.5,190.0 L536.0,190.0 L536.5,190.0 L537.0,190.0 L537.5,190.0 L538.0,190.0 L538.5,190.0 L539.0,190.0 L539.5,190.0 L540.0,190.0 L540.5,190.0 L541.0,190.0" fill="none" stroke="#1a1aff" stroke-width="1.3"/>
<path d="M378.5,179.0 L379.0,179.0 L379.5,179.0 L380.0,178.9 L380.5,178.9 L381.0,178.9 L381.5,178.9 L382.0,178.9 L382.5,178.9 L383.0,178.8 L383.5,178.8 L384.0,178.8 L384.5,178.8 L385.0,178.8 L385.5,178.7 L386.0,178.7 L386.5,178.7 L387.0,178.7 L387.5,178.6 L388.0,178.6 L388.5,178.6 L389.0,178.6 L389.5,178.5 L390.0,178.5 L390.5,178.5 L391.0,178.5 L391.5,178.4 L392.0,178.4 L392.5,178.4 L393.0,178.4 L393.5,178.3 L394.0,178.3 L394.5,178.3 L395.0,178.2 L395.5,178.2 L396.0,178.2 L396.5,178.1 L397.0,178.1 L397.5,178.0 L398.0,178.0 L398.5,178.0 L399.0,177.9 L399.5,177.9 L400.0,177.8 L400.5,177.8 L401.0,177.8 L401.5,177.7 L402.0,177.7 L402.5,177.6 L403.0,177.6 L403.5,177.5 L404.0,177.5 L404.5,177.4 L405.0,177.3 L405.5,177.3 L406.0,177.2 L406.5,177.2 L407.0,177.1 L407.5,177.0 L408.0,177.0 L408.5,176.9 L409.0,176.8 L409.5,176.8 L410.0,176.7 L410.5,176.6 L411.0,176.5 L411.5,176.4 L412.0,176.4 L412.5,176.3 L413.0,176.2 L413.5,176.1 L414.0,176.0 L414.5,175.9 L415.0,175.8 L415.5,175.7 L416.0,175.6 L416.5,175.4 L417.0,175.3 L417.5,175.2 L418.0,175.1 L418.5,174.9 L419.0,174.8 L419.5,174.6 L420.0,174.5 L420.5,174.3 L421.0,174.2 L421.5,174.0 L422.0,173.8 L422.5,173.7 L423.0,173.5 L423.5,173.3 L424.0,173.1 L424.5,172.9 L425.0,172.6 L425.5,172.4 L426.0,172.2 L426.5,171.9 L427.0,171.6 L427.5,171.4 L428.0,171.1 L428.5,170.8 L429.0,170.5 L429.5,170.1 L430.0,169.8 L430.5,169.4 L431.0,169.1 L431.5,168.7 L432.0,168.3 L432.5,167.8 L433.0,167.4 L433.5,166.9 L434.0,166.4 L434.5,165.9 L435.0,165.3 L435.5,164.8 L436.0,164.2 L436.5,163.5 L437.0,162.9 L437.5,162.2 L438.0,161.5 L438.5,160.7 L439.0,159.9 L439.5,159.1 L440.0,158.2 L440.5,157.3 L441.0,156.4 L441.5,155.4 L442.0,154.5 L442.5,153.4 L443.0,152.4 L443.5,151.3 L444.0,150.2 L444.5,149.1 L445.0,148.0 L445.5,146.9 L446.0,145.8 L446.5,144.7 L447.0,143.7 L447.5,142.7 L448.0,141.7 L448.5,140.9 L449.0,140.1 L449.5,139.4 L450.0,138.8 L450.5,138.4 L451.0,138.1 L451.5,137.9 L452.0,137.9 L452.5,138.0 L453.0,138.4 L453.5,139.0 L454.0,139.7 L454.5,140.7 L455.0,141.8 L455.5,143.1 L456.0,144.4 L456.5,145.9 L457.0,147.4 L457.5,148.9 L458.0,150.5 L458.5,152.0 L459.0,153.6 L459.5,155.1 L460.0,156.6 L460.5,158.1 L461.0,159.4 L461.5,160.8 L462.0,162.1 L462.5,163.3 L463.0,164.5 L463.5,165.6 L464.0,166.7 L464.5,167.7 L465.0,168.7 L465.5,169.6 L466.0,170.5 L466.5,171.3 L467.0,172.1 L467.5,172.8 L468.0,173.5 L468.5,174.2 L469.0,174.8 L469.5,175.4 L470.0,176.0 L470.5,176.6 L471.0,177.1 L471.5,177.6 L472.0,178.0 L472.5,178.5 L473.0,178.9 L473.5,179.3 L474.0,179.7 L474.5,180.1 L475.0,180.4 L475.5,180.7 L476.0,181.1 L476.5,181.4 L477.0,181.7 L477.5,181.9 L478.0,182.2 L478.5,182.4 L479.0,182.7 L479.5,182.9 L480.0,183.1 L480.5,183.3 L481.0,183.5 L481.5,183.7 L482.0,183.9 L482.5,184.1 L483.0,184.3 L483.5,184.4 L484.0,184.6 L484.5,184.7 L485.0,184.9 L485.5,185.0 L486.0,185.1 L486.5,185.3 L487.0,185.4 L487.5,185.5 L488.0,185.6 L488.5,185.7 L489.0,185.8 L489.5,185.9 L490.0,186.0 L490.5,186.1 L491.0,186.2 L491.5,186.2 L492.0,186.3 L492.5,186.4 L493.0,186.5 L493.5,186.5 L494.0,186.6 L494.5,186.7 L495.0,186.7 L495.5,186.8 L496.0,186.8 L496.5,186.9 L497.0,186.9 L497.5,187.0 L498.0,187.0 L498.5,187.1 L499.0,187.1 L499.5,187.2 L500.0,187.2 L500.5,187.3 L501.0,187.3 L501.5,187.3 L502.0,187.4 L502.5,187.4 L503.0,187.5 L503.5,187.5 L504.0,187.5 L504.5,187.6 L505.0,187.6 L505.5,187.6 L506.0,187.6 L506.5,187.7 L507.0,187.7 L507.5,187.7 L508.0,187.7 L508.5,187.8 L509.0,187.8 L509.5,187.8 L510.0,187.8 L510.5,187.9 L511.0,187.9 L511.5,187.9 L512.0,187.9 L512.5,188.0 L513.0,188.0 L513.5,188.0 L514.0,188.0 L514.5,188.0 L515.0,188.0 L515.5,188.1 L516.0,188.1 L516.5,188.1 L517.0,188.1 L517.5,188.1 L518.0,188.1 L518.5,188.2 L519.0,188.2 L519.5,188.2 L520.0,188.2 L520.5,188.2 L521.0,188.2 L521.5,188.2 L522.0,188.3 L522.5,188.3 L523.0,188.3 L523.5,188.3 L524.0,188.3 L524.5,188.3 L525.0,188.3 L525.5,188.3 L526.0,188.4 L526.5,188.4 L527.0,188.4 L527.5,188.4 L528.0,188.4 L528.5,188.4 L529.0,188.4 L529.5,188.4 L530.0,188.4 L530.5,188.4 L531.0,188.5 L531.5,188.5 L532.0,188.5 L532.5,188.5 L533.0,188.5 L533.5,188.5 L534.0,188.5 L534.5,188.5 L535.0,188.5 L535.5,188.5 L536.0,188.5 L536.5,188.5 L537.0,188.5 L537.5,188.6 L538.0,188.6 L538.5,188.6 L539.0,188.6 L539.5,188.6 L540.0,188.6 L540.5,188.6 L541.0,188.6" fill="none" stroke="#ff00ff" stroke-width="1.3"/>
<path d="M378.5,178.2 L379.0,178.2 L379.5,178.2 L380.0,178.2 L380.5,178.2 L381.0,178.2 L381.5,178.2 L382.0,178.2 L382.5,178.2 L383.0,178.2 L383.5,178.2 L384.0,178.2 L384.5,178.2 L385.0,178.2 L385.5,178.2 L386.0,178.2 L386.5,178.2 L387.0,178.2 L387.5,178.2 L388.0,178.2 L388.5,178.2 L389.0,178.1 L389.5,178.1 L390.0,178.1 L390.5,178.1 L391.0,178.1 L391.5,178.1 L392.0,178.1 L392.5,178.1 L393.0,178.1 L393.5,178.1 L394.0,178.1 L394.5,178.1 L395.0,178.1 L395.5,178.1 L396.0,178.1 L396.5,178.0 L397.0,178.0 L397.5,178.0 L398.0,178.0 L398.5,178.0 L399.0,178.0 L399.5,178.0 L400.0,178.0 L400.5,178.0 L401.0,178.0 L401.5,178.0 L402.0,177.9 L402.5,177.9 L403.0,177.9 L403.5,177.9 L404.0,177.9 L404.5,177.9 L405.0,177.9 L405.5,177.9 L406.0,177.9 L406.5,177.8 L407.0,177.8 L407.5,177.8 L408.0,177.8 L408.5,177.8 L409.0,177.8 L409.5,177.7 L410.0,177.7 L410.5,177.7 L411.0,177.7 L411.5,177.7 L412.0,177.7 L412.5,177.6 L413.0,177.6 L413.5,177.6 L414.0,177.6 L414.5,177.5 L415.0,177.5 L415.5,177.5 L416.0,177.5 L416.5,177.4 L417.0,177.4 L417.5,177.4 L418.0,177.3 L418.5,177.3 L419.0,177.3 L419.5,177.2 L420.0,177.2 L420.5,177.1 L421.0,177.1 L421.5,177.1 L422.0,177.0 L422.5,177.0 L423.0,176.9 L423.5,176.8 L424.0,176.8 L424.5,176.7 L425.0,176.7 L425.5,176.6 L426.0,176.5 L426.5,176.5 L427.0,176.4 L427.5,176.3 L428.0,176.2 L428.5,176.2 L429.0,176.1 L429.5,176.0 L430.0,175.9 L430.5,175.8 L431.0,175.7 L431.5,175.6 L432.0,175.5 L432.5,175.4 L433.0,175.3 L433.5,175.1 L434.0,175.0 L434.5,174.9 L435.0,174.7 L435.5,174.6 L436.0,174.5 L436.5,174.3 L437.0,174.1 L437.5,174.0 L438.0,173.8 L438.5,173.6 L439.0,173.5 L439.5,173.3 L440.0,173.1 L440.5,172.9 L441.0,172.7 L441.5,172.5 L442.0,172.3 L442.5,172.0 L443.0,171.8 L443.5,171.6 L444.0,171.3 L444.5,171.1 L445.0,170.8 L445.5,170.6 L446.0,170.3 L446.5,170.0 L447.0,169.7 L447.5,169.4 L448.0,169.0 L448.5,168.6 L449.0,168.3 L449.5,167.8 L450.0,167.4 L450.5,166.9 L451.0,166.4 L451.5,165.7 L452.0,165.1 L452.5,164.3 L453.0,163.5 L453.5,162.5 L454.0,161.4 L454.5,160.1 L455.0,158.7 L455.5,157.1 L456.0,155.3 L456.5,153.2 L457.0,150.9 L457.5,148.3 L458.0,145.5 L458.5,142.3 L459.0,138.9 L459.5,135.1 L460.0,131.0 L460.5,126.7 L461.0,122.0 L461.5,117.2 L462.0,112.1 L462.5,106.8 L463.0,101.4 L463.5,96.0 L464.0,90.7 L464.5,85.5 L465.0,80.6 L465.5,76.0 L466.0,72.0 L466.5,68.7 L467.0,66.1 L467.5,64.5 L468.0,63.8 L468.5,64.1 L469.0,65.4 L469.5,67.6 L470.0,70.7 L470.5,74.5 L471.0,78.9 L471.5,83.8 L472.0,89.0 L472.5,94.5 L473.0,100.1 L473.5,105.7 L474.0,111.3 L474.5,116.8 L475.0,122.1 L475.5,127.2 L476.0,132.0 L476.5,136.5 L477.0,140.8 L477.5,144.8 L478.0,148.4 L478.5,151.7 L479.0,154.8 L479.5,157.5 L480.0,160.0 L480.5,162.3 L481.0,164.3 L481.5,166.1 L482.0,167.7 L482.5,169.1 L483.0,170.3 L483.5,171.4 L484.0,172.4 L484.5,173.3 L485.0,174.1 L485.5,174.9 L486.0,175.5 L486.5,176.1 L487.0,176.7 L487.5,177.2 L488.0,177.6 L488.5,178.1 L489.0,178.5 L489.5,178.9 L490.0,179.2 L490.5,179.6 L491.0,179.9 L491.5,180.2 L492.0,180.5 L492.5,180.8 L493.0,181.1 L493.5,181.4 L494.0,181.6 L494.5,181.9 L495.0,182.1 L495.5,182.4 L496.0,182.6 L496.5,182.8 L497.0,183.0 L497.5,183.2 L498.0,183.4 L498.5,183.6 L499.0,183.8 L499.5,183.9 L500.0,184.1 L500.5,184.3 L501.0,184.4 L501.5,184.6 L502.0,184.7 L502.5,184.9 L503.0,185.0 L503.5,185.1 L504.0,185.2 L504.5,185.4 L505.0,185.5 L505.5,185.6 L506.0,185.7 L506.5,185.8 L507.0,185.9 L507.5,186.0 L508.0,186.0 L508.5,186.1 L509.0,186.2 L509.5,186.3 L510.0,186.4 L510.5,186.4 L511.0,186.5 L511.5,186.6 L512.0,186.6 L512.5,186.7 L513.0,186.7 L513.5,186.8 L514.0,186.8 L514.5,186.9 L515.0,186.9 L515.5,187.0 L516.0,187.0 L516.5,187.1 L517.0,187.1 L517.5,187.2 L518.0,187.2 L518.5,187.2 L519.0,187.3 L519.5,187.3 L520.0,187.3 L520.5,187.3 L521.0,187.4 L521.5,187.4 L522.0,187.4 L522.5,187.4 L523.0,187.5 L523.5,187.5 L524.0,187.5 L524.5,187.5 L525.0,187.6 L525.5,187.6 L526.0,187.6 L526.5,187.6 L527.0,187.6 L527.5,187.6 L528.0,187.7 L528.5,187.7 L529.0,187.7 L529.5,187.7 L530.0,187.7 L530.5,187.7 L531.0,187.7 L531.5,187.8 L532.0,187.8 L532.5,187.8 L533.0,187.8 L533.5,187.8 L534.0,187.8 L534.5,187.8 L535.0,187.8 L535.5,187.8 L536.0,187.9 L536.5,187.9 L537.0,187.9 L537.5,187.9 L538.0,187.9 L538.5,187.9 L539.0,187.9 L539.5,187.9 L540.0,187.9 L540.5,187.9 L541.0,187.9" fill="none" stroke="#008800" stroke-width="1.3"/>
<path d="M378.5,178.9 L379.0,178.9 L379.5,178.9 L380.0,178.9 L380.5,178.9 L381.0,178.9 L381.5,178.9 L382.0,178.9 L382.5,178.9 L383.0,178.9 L383.5,178.9 L384.0,178.9 L384.5,178.9 L385.0,178.9 L385.5,178.8 L386.0,178.8 L386.5,178.8 L387.0,178.8 L387.5,178.8 L388.0,178.8 L388.5,178.8 L389.0,178.8 L389.5,178.8 L390.0,178.8 L390.5,178.8 L391.0,178.8 L391.5,178.8 L392.0,178.8 L392.5,178.8 L393.0,178.8 L393.5,178.8 L394.0,178.8 L394.5,178.8 L395.0,178.8 L395.5,178.8 L396.0,178.8 L396.5,178.8 L397.0,178.8 L397.5,178.8 L398.0,178.8 L398.5,178.8 L399.0,178.8 L399.5,178.8 L400.0,178.8 L400.5,178.8 L401.0,178.8 L401.5,178.8 L402.0,178.8 L402.5,178.8 L403.0,178.8 L403.5,178.8 L404.0,178.8 L404.5,178.8 L405.0,178.8 L405.5,178.7 L406.0,178.7 L406.5,178.7 L407.0,178.7 L407.5,178.7 L408.0,178.7 L408.5,178.7 L409.0,178.7 L409.5,178.7 L410.0,178.7 L410.5,178.7 L411.0,178.7 L411.5,178.7 L412.0,178.7 L412.5,178.7 L413.0,178.7 L413.5,178.7 L414.0,178.7 L414.5,178.7 L415.0,178.7 L415.5,178.7 L416.0,178.6 L416.5,178.6 L417.0,178.6 L417.5,178.6 L418.0,178.6 L418.5,178.6 L419.0,178.6 L419.5,178.6 L420.0,178.6 L420.5,178.6 L421.0,178.6 L421.5,178.6 L422.0,178.6 L422.5,178.6 L423.0,178.5 L423.5,178.5 L424.0,178.5 L424.5,178.5 L425.0,178.5 L425.5,178.5 L426.0,178.5 L426.5,178.5 L427.0,178.5 L427.5,178.5 L428.0,178.5 L428.5,178.4 L429.0,178.4 L429.5,178.4 L430.0,178.4 L430.5,178.4 L431.0,178.4 L431.5,178.4 L432.0,178.3 L432.5,178.3 L433.0,178.3 L433.5,178.3 L434.0,178.3 L434.5,178.3 L435.0,178.3 L435.5,178.2 L436.0,178.2 L436.5,178.2 L437.0,178.2 L437.5,178.2 L438.0,178.1 L438.5,178.1 L439.0,178.1 L439.5,178.1 L440.0,178.0 L440.5,178.0 L441.0,178.0 L441.5,178.0 L442.0,177.9 L442.5,177.9 L443.0,177.9 L443.5,177.8 L444.0,177.8 L444.5,177.8 L445.0,177.7 L445.5,177.7 L446.0,177.7 L446.5,177.6 L447.0,177.6 L447.5,177.5 L448.0,177.5 L448.5,177.4 L449.0,177.4 L449.5,177.3 L450.0,177.3 L450.5,177.2 L451.0,177.1 L451.5,177.1 L452.0,177.0 L452.5,176.9 L453.0,176.8 L453.5,176.8 L454.0,176.7 L454.5,176.6 L455.0,176.5 L455.5,176.3 L456.0,176.2 L456.5,176.1 L457.0,175.9 L457.5,175.8 L458.0,175.6 L458.5,175.4 L459.0,175.2 L459.5,174.9 L460.0,174.7 L460.5,174.3 L461.0,174.0 L461.5,173.5 L462.0,173.0 L462.5,172.5 L463.0,171.8 L463.5,171.0 L464.0,170.1 L464.5,169.0 L465.0,167.8 L465.5,166.4 L466.0,164.7 L466.5,162.9 L467.0,160.8 L467.5,158.5 L468.0,155.9 L468.5,153.1 L469.0,150.0 L469.5,146.6 L470.0,143.0 L470.5,139.3 L471.0,135.4 L471.5,131.4 L472.0,127.4 L472.5,123.5 L473.0,119.9 L473.5,116.5 L474.0,113.7 L474.5,111.5 L475.0,110.1 L475.5,109.6 L476.0,110.0 L476.5,111.4 L477.0,113.7 L477.5,116.8 L478.0,120.5 L478.5,124.5 L479.0,128.9 L479.5,133.3 L480.0,137.7 L480.5,142.1 L481.0,146.2 L481.5,150.2 L482.0,153.8 L482.5,157.2 L483.0,160.3 L483.5,163.1 L484.0,165.6 L484.5,167.9 L485.0,169.9 L485.5,171.6 L486.0,173.1 L486.5,174.5 L487.0,175.6 L487.5,176.6 L488.0,177.5 L488.5,178.3 L489.0,179.0 L489.5,179.6 L490.0,180.2 L490.5,180.6 L491.0,181.1 L491.5,181.5 L492.0,181.9 L492.5,182.2 L493.0,182.6 L493.5,182.9 L494.0,183.2 L494.5,183.4 L495.0,183.7 L495.5,183.9 L496.0,184.2 L496.5,184.4 L497.0,184.6 L497.5,184.8 L498.0,185.1 L498.5,185.2 L499.0,185.4 L499.5,185.6 L500.0,185.8 L500.5,186.0 L501.0,186.1 L501.5,186.3 L502.0,186.4 L502.5,186.6 L503.0,186.7 L503.5,186.8 L504.0,187.0 L504.5,187.1 L505.0,187.2 L505.5,187.3 L506.0,187.4 L506.5,187.5 L507.0,187.6 L507.5,187.7 L508.0,187.8 L508.5,187.9 L509.0,188.0 L509.5,188.1 L510.0,188.1 L510.5,188.2 L511.0,188.3 L511.5,188.4 L512.0,188.4 L512.5,188.5 L513.0,188.5 L513.5,188.6 L514.0,188.7 L514.5,188.7 L515.0,188.8 L515.5,188.8 L516.0,188.8 L516.5,188.9 L517.0,188.9 L517.5,189.0 L518.0,189.0 L518.5,189.0 L519.0,189.1 L519.5,189.1 L520.0,189.1 L520.5,189.2 L521.0,189.2 L521.5,189.2 L522.0,189.2 L522.5,189.3 L523.0,189.3 L523.5,189.3 L524.0,189.3 L524.5,189.4 L525.0,189.4 L525.5,189.4 L526.0,189.4 L526.5,189.4 L527.0,189.4 L527.5,189.5 L528.0,189.5 L528.5,189.5 L529.0,189.5 L529.5,189.5 L530.0,189.5 L530.5,189.5 L531.0,189.5 L531.5,189.5 L532.0,189.6 L532.5,189.6 L533.0,189.6 L533.5,189.6 L534.0,189.6 L534.5,189.6 L535.0,189.6 L535.5,189.6 L536.0,189.6 L536.5,189.6 L537.0,189.6 L537.5,189.6 L538.0,189.6 L538.5,189.6 L539.0,189.7 L539.5,189.7 L540.0,189.7 L540.5,189.7 L541.0,189.7" fill="none" stroke="#000099" stroke-width="1.3"/>
<path d="M378.5,179.1 L379.0,179.1 L379.5,179.1 L380.0,179.1 L380.5,179.1 L381.0,179.1 L381.5,179.1 L382.0,179.1 L382.5,179.1 L383.0,179.1 L383.5,179.1 L384.0,179.1 L384.5,179.1 L385.0,179.1 L385.5,179.1 L386.0,179.1 L386.5,179.1 L387.0,179.1 L387.5,179.1 L388.0,179.1 L388.5,179.1 L389.0,179.1 L389.5,179.1 L390.0,179.1 L390.5,179.1 L391.0,179.1 L391.5,179.1 L392.0,179.1 L392.5,179.1 L393.0,179.1 L393.5,179.1 L394.0,179.1 L394.5,179.1 L395.0,179.1 L395.5,179.1 L396.0,179.1 L396.5,179.1 L397.0,179.1 L397.5,179.1 L398.0,179.1 L398.5,179.1 L399.0,179.1 L399.5,179.1 L400.0,179.1 L400.5,179.1 L401.0,179.1 L401.5,179.1 L402.0,179.1 L402.5,179.1 L403.0,179.1 L403.5,179.1 L404.0,179.1 L404.5,179.1 L405.0,179.1 L405.5,179.1 L406.0,179.1 L406.5,179.1 L407.0,179.1 L407.5,179.1 L408.0,179.1 L408.5,179.1 L409.0,179.1 L409.5,179.1 L410.0,179.1 L410.5,179.1 L411.0,179.1 L411.5,179.1 L412.0,179.1 L412.5,179.1 L413.0,179.1 L413.5,179.1 L414.0,179.1 L414.5,179.1 L415.0,179.1 L415.5,179.1 L416.0,179.1 L416.5,179.1 L417.0,179.1 L417.5,179.1 L418.0,179.1 L418.5,179.1 L419.0,179.1 L419.5,179.1 L420.0,179.1 L420.5,179.1 L421.0,179.1 L421.5,179.1 L422.0,179.1 L422.5,179.0 L423.0,179.0 L423.5,179.0 L424.0,179.0 L424.5,179.0 L425.0,179.0 L425.5,179.0 L426.0,179.0 L426.5,179.0 L427.0,179.0 L427.5,179.0 L428.0,179.0 L428.5,179.0 L429.0,179.0 L429.5,179.0 L430.0,179.0 L430.5,179.0 L431.0,179.0 L431.5,179.0 L432.0,179.0 L432.5,179.0 L433.0,179.0 L433.5,179.1 L434.0,179.1 L434.5,179.1 L435.0,179.1 L435.5,179.1 L436.0,179.1 L436.5,179.1 L437.0,179.1 L437.5,179.1 L438.0,179.1 L438.5,179.1 L439.0,179.1 L439.5,179.1 L440.0,179.1 L440.5,179.1 L441.0,179.1 L441.5,179.1 L442.0,179.1 L442.5,179.1 L443.0,179.1 L443.5,179.1 L444.0,179.1 L444.5,179.2 L445.0,179.2 L445.5,179.2 L446.0,179.2 L446.5,179.2 L447.0,179.2 L447.5,179.2 L448.0,179.2 L448.5,179.3 L449.0,179.3 L449.5,179.3 L450.0,179.3 L450.5,179.3 L451.0,179.3 L451.5,179.4 L452.0,179.4 L452.5,179.4 L453.0,179.4 L453.5,179.5 L454.0,179.5 L454.5,179.5 L455.0,179.5 L455.5,179.6 L456.0,179.6 L456.5,179.6 L457.0,179.6 L457.5,179.7 L458.0,179.7 L458.5,179.7 L459.0,179.8 L459.5,179.8 L460.0,179.9 L460.5,179.9 L461.0,179.9 L461.5,180.0 L462.0,180.0 L462.5,180.0 L463.0,180.1 L463.5,180.1 L464.0,180.2 L464.5,180.2 L465.0,180.3 L465.5,180.3 L466.0,180.3 L466.5,180.4 L467.0,180.4 L467.5,180.5 L468.0,180.5 L468.5,180.5 L469.0,180.6 L469.5,180.6 L470.0,180.6 L470.5,180.6 L471.0,180.7 L471.5,180.7 L472.0,180.7 L472.5,180.7 L473.0,180.7 L473.5,180.6 L474.0,180.6 L474.5,180.5 L475.0,180.4 L475.5,180.3 L476.0,180.1 L476.5,179.9 L477.0,179.6 L477.5,179.2 L478.0,178.7 L478.5,178.0 L479.0,177.3 L479.5,176.3 L480.0,175.2 L480.5,173.9 L481.0,172.4 L481.5,170.6 L482.0,168.7 L482.5,166.5 L483.0,164.2 L483.5,161.8 L484.0,159.2 L484.5,156.7 L485.0,154.2 L485.5,151.9 L486.0,149.9 L486.5,148.3 L487.0,147.3 L487.5,146.9 L488.0,147.1 L488.5,147.7 L489.0,148.8 L489.5,150.3 L490.0,152.0 L490.5,154.0 L491.0,156.1 L491.5,158.4 L492.0,160.6 L492.5,162.9 L493.0,165.1 L493.5,167.3 L494.0,169.3 L494.5,171.2 L495.0,173.0 L495.5,174.6 L496.0,176.1 L496.5,177.4 L497.0,178.6 L497.5,179.7 L498.0,180.6 L498.5,181.5 L499.0,182.2 L499.5,182.8 L500.0,183.3 L500.5,183.8 L501.0,184.2 L501.5,184.6 L502.0,184.9 L502.5,185.2 L503.0,185.4 L503.5,185.6 L504.0,185.8 L504.5,186.0 L505.0,186.1 L505.5,186.3 L506.0,186.4 L506.5,186.5 L507.0,186.6 L507.5,186.7 L508.0,186.8 L508.5,186.9 L509.0,187.0 L509.5,187.1 L510.0,187.1 L510.5,187.2 L511.0,187.3 L511.5,187.3 L512.0,187.4 L512.5,187.5 L513.0,187.5 L513.5,187.6 L514.0,187.6 L514.5,187.7 L515.0,187.7 L515.5,187.8 L516.0,187.8 L516.5,187.8 L517.0,187.9 L517.5,187.9 L518.0,187.9 L518.5,188.0 L519.0,188.0 L519.5,188.0 L520.0,188.1 L520.5,188.1 L521.0,188.1 L521.5,188.1 L522.0,188.2 L522.5,188.2 L523.0,188.2 L523.5,188.2 L524.0,188.2 L524.5,188.3 L525.0,188.3 L525.5,188.3 L526.0,188.3 L526.5,188.3 L527.0,188.3 L527.5,188.3 L528.0,188.4 L528.5,188.4 L529.0,188.4 L529.5,188.4 L530.0,188.4 L530.5,188.4 L531.0,188.4 L531.5,188.4 L532.0,188.4 L532.5,188.4 L533.0,188.5 L533.5,188.5 L534.0,188.5 L534.5,188.5 L535.0,188.5 L535.5,188.5 L536.0,188.5 L536.5,188.5 L537.0,188.5 L537.5,188.5 L538.0,188.5 L538.5,188.5 L539.0,188.5 L539.5,188.5 L540.0,188.5 L540.5,188.5 L541.0,188.5" fill="none" stroke="#9900ff" stroke-width="1.3"/>
<path d="M378.5,176.8 L379.0,176.8 L379.5,176.8 L380.0,176.7 L380.5,176.7 L381.0,176.7 L381.5,176.7 L382.0,176.7 L382.5,176.7 L383.0,176.6 L383.5,176.6 L384.0,176.6 L384.5,176.6 L385.0,176.6 L385.5,176.6 L386.0,176.5 L386.5,176.5 L387.0,176.5 L387.5,176.5 L388.0,176.5 L388.5,176.4 L389.0,176.4 L389.5,176.4 L390.0,176.4 L390.5,176.4 L391.0,176.3 L391.5,176.3 L392.0,176.3 L392.5,176.3 L393.0,176.2 L393.5,176.2 L394.0,176.2 L394.5,176.2 L395.0,176.1 L395.5,176.1 L396.0,176.1 L396.5,176.0 L397.0,176.0 L397.5,176.0 L398.0,176.0 L398.5,175.9 L399.0,175.9 L399.5,175.9 L400.0,175.8 L400.5,175.8 L401.0,175.8 L401.5,175.7 L402.0,175.7 L402.5,175.6 L403.0,175.6 L403.5,175.6 L404.0,175.5 L404.5,175.5 L405.0,175.4 L405.5,175.4 L406.0,175.3 L406.5,175.3 L407.0,175.2 L407.5,175.2 L408.0,175.1 L408.5,175.1 L409.0,175.0 L409.5,174.9 L410.0,174.9 L410.5,174.8 L411.0,174.7 L411.5,174.7 L412.0,174.6 L412.5,174.5 L413.0,174.4 L413.5,174.3 L414.0,174.2 L414.5,174.1 L415.0,174.0 L415.5,173.9 L416.0,173.8 L416.5,173.7 L417.0,173.5 L417.5,173.4 L418.0,173.3 L418.5,173.1 L419.0,172.9 L419.5,172.8 L420.0,172.6 L420.5,172.4 L421.0,172.2 L421.5,171.9 L422.0,171.7 L422.5,171.4 L423.0,171.2 L423.5,170.9 L424.0,170.6 L424.5,170.2 L425.0,169.9 L425.5,169.5 L426.0,169.1 L426.5,168.7 L427.0,168.3 L427.5,167.8 L428.0,167.4 L428.5,166.9 L429.0,166.3 L429.5,165.8 L430.0,165.2 L430.5,164.6 L431.0,163.9 L431.5,163.2 L432.0,162.5 L432.5,161.8 L433.0,161.0 L433.5,160.2 L434.0,159.4 L434.5,158.5 L435.0,157.6 L435.5,156.7 L436.0,155.8 L436.5,154.8 L437.0,153.8 L437.5,152.8 L438.0,151.7 L438.5,150.6 L439.0,149.5 L439.5,148.4 L440.0,147.3 L440.5,146.1 L441.0,145.0 L441.5,143.8 L442.0,142.6 L442.5,141.4 L443.0,140.2 L443.5,139.0 L444.0,137.8 L444.5,136.6 L445.0,135.4 L445.5,134.1 L446.0,132.9 L446.5,131.7 L447.0,130.5 L447.5,129.3 L448.0,128.1 L448.5,126.9 L449.0,125.7 L449.5,124.5 L450.0,123.3 L450.5,122.0 L451.0,120.7 L451.5,119.4 L452.0,118.1 L452.5,116.8 L453.0,115.6 L453.5,114.4 L454.0,113.2 L454.5,111.9 L455.0,110.6 L455.5,109.2 L456.0,107.7 L456.5,106.0 L457.0,104.2 L457.5,102.2 L458.0,100.0 L458.5,97.6 L459.0,95.0 L459.5,92.2 L460.0,89.2 L460.5,86.1 L461.0,82.8 L461.5,79.3 L462.0,75.6 L462.5,71.9 L463.0,68.1 L463.5,64.2 L464.0,60.3 L464.5,56.4 L465.0,52.5 L465.5,48.6 L466.0,44.9 L466.5,41.2 L467.0,37.7 L467.5,34.3 L468.0,31.1 L468.5,28.1 L469.0,25.2 L469.5,22.6 L470.0,20.3 L470.5,19.2 L471.0,19.0 L471.5,19.7 L472.0,21.1 L472.5,23.1 L473.0,25.5 L473.5,28.3 L474.0,31.4 L474.5,34.7 L475.0,38.3 L475.5,42.3 L476.0,46.7 L476.5,51.5 L477.0,56.7 L477.5,61.9 L478.0,67.0 L478.5,71.9 L479.0,76.6 L479.5,81.1 L480.0,85.3 L480.5,89.3 L481.0,92.9 L481.5,96.3 L482.0,99.3 L482.5,102.1 L483.0,104.5 L483.5,106.8 L484.0,108.8 L484.5,110.6 L485.0,112.3 L485.5,113.9 L486.0,115.4 L486.5,116.8 L487.0,118.3 L487.5,119.7 L488.0,121.3 L488.5,122.8 L489.0,124.6 L489.5,126.6 L490.0,128.8 L490.5,131.2 L491.0,133.7 L491.5,136.4 L492.0,139.1 L492.5,141.8 L493.0,144.5 L493.5,147.2 L494.0,149.8 L494.5,152.3 L495.0,154.7 L495.5,157.0 L496.0,159.2 L496.5,161.2 L497.0,163.2 L497.5,165.0 L498.0,166.7 L498.5,168.2 L499.0,169.7 L499.5,171.0 L500.0,172.2 L500.5,173.4 L501.0,174.4 L501.5,175.3 L502.0,176.2 L502.5,177.0 L503.0,177.7 L503.5,178.3 L504.0,178.9 L504.5,179.4 L505.0,179.9 L505.5,180.4 L506.0,180.8 L506.5,181.1 L507.0,181.5 L507.5,181.8 L508.0,182.1 L508.5,182.3 L509.0,182.6 L509.5,182.8 L510.0,183.0 L510.5,183.2 L511.0,183.4 L511.5,183.6 L512.0,183.8 L512.5,183.9 L513.0,184.1 L513.5,184.2 L514.0,184.4 L514.5,184.5 L515.0,184.6 L515.5,184.8 L516.0,184.9 L516.5,185.0 L517.0,185.1 L517.5,185.2 L518.0,185.3 L518.5,185.4 L519.0,185.5 L519.5,185.5 L520.0,185.6 L520.5,185.7 L521.0,185.8 L521.5,185.8 L522.0,185.9 L522.5,186.0 L523.0,186.0 L523.5,186.1 L524.0,186.2 L524.5,186.2 L525.0,186.3 L525.5,186.3 L526.0,186.4 L526.5,186.4 L527.0,186.5 L527.5,186.5 L528.0,186.6 L528.5,186.6 L529.0,186.7 L529.5,186.7 L530.0,186.8 L530.5,186.8 L531.0,186.8 L531.5,186.9 L532.0,186.9 L532.5,186.9 L533.0,187.0 L533.5,187.0 L534.0,187.0 L534.5,187.1 L535.0,187.1 L535.5,187.1 L536.0,187.2 L536.5,187.2 L537.0,187.2 L537.5,187.2 L538.0,187.3 L538.5,187.3 L539.0,187.3 L539.5,187.3 L540.0,187.4 L540.5,187.4 L541.0,187.4" fill="none" stroke="#ff0000" stroke-width="1.5"/>
</g>
<g clip-path="url(#cd)">
<path d="M129.3,396.4 L129.8,396.4 L130.3,396.4 L130.8,396.3 L131.3,396.3 L131.8,396.3 L132.3,396.3 L132.8,396.3 L133.3,396.3 L133.8,396.3 L134.3,396.2 L134.8,396.2 L135.3,396.2 L135.8,396.2 L136.3,396.2 L136.8,396.2 L137.3,396.2 L137.8,396.1 L138.3,396.1 L138.8,396.1 L139.3,396.1 L139.8,396.1 L140.3,396.1 L140.8,396.0 L141.3,396.0 L141.8,396.0 L142.3,396.0 L142.8,396.0 L143.3,395.9 L143.8,395.9 L144.3,395.9 L144.8,395.9 L145.3,395.9 L145.8,395.8 L146.3,395.8 L146.8,395.8 L147.3,395.8 L147.8,395.7 L148.3,395.7 L148.8,395.7 L149.3,395.7 L149.8,395.6 L150.3,395.6 L150.8,395.6 L151.3,395.5 L151.8,395.5 L152.3,395.5 L152.8,395.4 L153.3,395.4 L153.8,395.4 L154.3,395.3 L154.8,395.3 L155.3,395.3 L155.8,395.2 L156.3,395.2 L156.8,395.1 L157.3,395.1 L157.8,395.1 L158.3,395.0 L158.8,395.0 L159.3,394.9 L159.8,394.9 L160.3,394.8 L160.8,394.8 L161.3,394.7 L161.8,394.7 L162.3,394.6 L162.8,394.5 L163.3,394.5 L163.8,394.4 L164.3,394.4 L164.8,394.3 L165.3,394.2 L165.8,394.1 L166.3,394.1 L166.8,394.0 L167.3,393.9 L167.8,393.8 L168.3,393.7 L168.8,393.6 L169.3,393.5 L169.8,393.4 L170.3,393.3 L170.8,393.2 L171.3,393.1 L171.8,393.0 L172.3,392.8 L172.8,392.7 L173.3,392.6 L173.8,392.4 L174.3,392.2 L174.8,392.1 L175.3,391.9 L175.8,391.7 L176.3,391.5 L176.8,391.3 L177.3,391.0 L177.8,390.8 L178.3,390.5 L178.8,390.2 L179.3,389.9 L179.8,389.6 L180.3,389.3 L180.8,388.9 L181.3,388.6 L181.8,388.2 L182.3,387.8 L182.8,387.3 L183.3,386.8 L183.8,386.3 L184.3,385.8 L184.8,385.3 L185.3,384.7 L185.8,384.1 L186.3,383.4 L186.8,382.7 L187.3,382.0 L187.8,381.3 L188.3,380.5 L188.8,379.7 L189.3,378.8 L189.8,377.9 L190.3,377.0 L190.8,376.1 L191.3,375.1 L191.8,374.0 L192.3,373.0 L192.8,371.9 L193.3,370.8 L193.8,369.7 L194.3,368.5 L194.8,367.3 L195.3,366.1 L195.8,364.9 L196.3,363.7 L196.8,362.5 L197.3,361.4 L197.8,360.2 L198.3,359.0 L198.8,357.9 L199.3,356.9 L199.8,355.8 L200.3,354.9 L200.8,354.0 L201.3,353.3 L201.8,352.6 L202.3,352.0 L202.8,351.6 L203.3,351.2 L203.8,351.0 L204.3,351.0 L204.8,351.1 L205.3,351.4 L205.8,351.9 L206.3,352.5 L206.8,353.4 L207.3,354.4 L207.8,355.5 L208.3,356.8 L208.8,358.2 L209.3,359.7 L209.8,361.2 L210.3,362.8 L210.8,364.4 L211.3,366.0 L211.8,367.6 L212.3,369.2 L212.8,370.8 L213.3,372.4 L213.8,373.9 L214.3,375.4 L214.8,376.9 L215.3,378.3 L215.8,379.7 L216.3,381.0 L216.8,382.3 L217.3,383.5 L217.8,384.7 L218.3,385.8 L218.8,386.8 L219.3,387.8 L219.8,388.8 L220.3,389.7 L220.8,390.5 L221.3,391.4 L221.8,392.1 L222.3,392.9 L222.8,393.5 L223.3,394.2 L223.8,394.8 L224.3,395.4 L224.8,395.9 L225.3,396.4 L225.8,396.9 L226.3,397.4 L226.8,397.8 L227.3,398.2 L227.8,398.6 L228.3,398.9 L228.8,399.3 L229.3,399.6 L229.8,399.9 L230.3,400.2 L230.8,400.5 L231.3,400.8 L231.8,401.0 L232.3,401.3 L232.8,401.5 L233.3,401.7 L233.8,401.9 L234.3,402.1 L234.8,402.3 L235.3,402.5 L235.8,402.7 L236.3,402.9 L236.8,403.0 L237.3,403.2 L237.8,403.3 L238.3,403.5 L238.8,403.6 L239.3,403.8 L239.8,403.9 L240.3,404.0 L240.8,404.2 L241.3,404.3 L241.8,404.4 L242.3,404.5 L242.8,404.6 L243.3,404.7 L243.8,404.8 L244.3,404.9 L244.8,405.0 L245.3,405.1 L245.8,405.2 L246.3,405.3 L246.8,405.4 L247.3,405.4 L247.8,405.5 L248.3,405.6 L248.8,405.7 L249.3,405.7 L249.8,405.8 L250.3,405.9 L250.8,405.9 L251.3,406.0 L251.8,406.0 L252.3,406.1 L252.8,406.1 L253.3,406.1 L253.8,406.2 L254.3,406.2 L254.8,406.2 L255.3,406.3 L255.8,406.3 L256.3,406.3 L256.8,406.4 L257.3,406.4 L257.8,406.4 L258.3,406.5 L258.8,406.5 L259.3,406.5 L259.8,406.6 L260.3,406.6 L260.8,406.6 L261.3,406.7 L261.8,406.7 L262.3,406.7 L262.8,406.8 L263.3,406.8 L263.8,406.8 L264.3,406.9 L264.8,406.9 L265.3,406.9 L265.8,406.9 L266.3,407.0 L266.8,407.0 L267.3,407.0 L267.8,407.1 L268.3,407.1 L268.8,407.1 L269.3,407.1 L269.8,407.2 L270.3,407.2 L270.8,407.2 L271.3,407.2 L271.8,407.2 L272.3,407.2 L272.8,407.2 L273.3,407.2 L273.8,407.3 L274.3,407.3 L274.8,407.3 L275.3,407.3 L275.8,407.3 L276.3,407.3 L276.8,407.3 L277.3,407.3 L277.8,407.3 L278.3,407.4 L278.8,407.4 L279.3,407.4 L279.8,407.4 L280.3,407.4 L280.8,407.4 L281.3,407.4 L281.8,407.4 L282.3,407.4 L282.8,407.4 L283.3,407.4 L283.8,407.4 L284.3,407.5 L284.8,407.5 L285.3,407.5 L285.8,407.5 L286.3,407.5 L286.8,407.5 L287.3,407.5 L287.8,407.5 L288.3,407.5 L288.8,407.5 L289.3,407.5 L289.8,407.5 L290.3,407.5 L290.8,407.5 L291.3,407.5 L291.3,407.8 L290.8,407.8 L290.3,407.8 L289.8,407.8 L289.3,407.8 L288.8,407.8 L288.3,407.8 L287.8,407.8 L287.3,407.8 L286.8,407.8 L286.3,407.8 L285.8,407.7 L285.3,407.7 L284.8,407.7 L284.3,407.7 L283.8,407.7 L283.3,407.7 L282.8,407.7 L282.3,407.7 L281.8,407.7 L281.3,407.6 L280.8,407.6 L280.3,407.6 L279.8,407.6 L279.3,407.6 L278.8,407.6 L278.3,407.5 L277.8,407.5 L277.3,407.5 L276.8,407.5 L276.3,407.5 L275.8,407.4 L275.3,407.4 L274.8,407.4 L274.3,407.4 L273.8,407.4 L273.3,407.3 L272.8,407.3 L272.3,407.3 L271.8,407.3 L271.3,407.2 L270.8,407.2 L270.3,407.2 L269.8,407.2 L269.3,407.1 L268.8,407.1 L268.3,407.1 L267.8,407.1 L267.3,407.0 L266.8,407.0 L266.3,407.0 L265.8,406.9 L265.3,406.9 L264.8,406.9 L264.3,406.9 L263.8,406.8 L263.3,406.8 L262.8,406.8 L262.3,406.7 L261.8,406.7 L261.3,406.7 L260.8,406.6 L260.3,406.6 L259.8,406.6 L259.3,406.5 L258.8,406.5 L258.3,406.5 L257.8,406.4 L257.3,406.4 L256.8,406.4 L256.3,406.3 L255.8,406.3 L255.3,406.3 L254.8,406.2 L254.3,406.2 L253.8,406.2 L253.3,406.1 L252.8,406.1 L252.3,406.1 L251.8,406.0 L251.3,406.0 L250.8,406.0 L250.3,405.9 L249.8,405.9 L249.3,405.8 L248.8,405.8 L248.3,405.8 L247.8,405.7 L247.3,405.6 L246.8,405.6 L246.3,405.5 L245.8,405.5 L245.3,405.4 L244.8,405.3 L244.3,405.3 L243.8,405.2 L243.3,405.1 L242.8,405.1 L242.3,405.0 L241.8,404.9 L241.3,404.9 L240.8,404.8 L240.3,404.7 L239.8,404.7 L239.3,404.6 L238.8,404.6 L238.3,404.5 L237.8,404.4 L237.3,404.4 L236.8,404.3 L236.3,404.2 L235.8,404.2 L235.3,404.1 L234.8,404.0 L234.3,404.0 L233.8,403.9 L233.3,403.9 L232.8,403.8 L232.3,403.7 L231.8,403.7 L231.3,403.6 L230.8,403.5 L230.3,403.5 L229.8,403.4 L229.3,403.3 L228.8,403.3 L228.3,403.2 L227.8,403.2 L227.3,403.1 L226.8,403.1 L226.3,403.0 L225.8,402.9 L225.3,402.9 L224.8,402.8 L224.3,402.8 L223.8,402.7 L223.3,402.7 L222.8,402.7 L222.3,402.6 L221.8,402.6 L221.3,402.5 L220.8,402.5 L220.3,402.5 L219.8,402.4 L219.3,402.4 L218.8,402.4 L218.3,402.3 L217.8,402.3 L217.3,402.3 L216.8,402.2 L216.3,402.2 L215.8,402.2 L215.3,402.1 L214.8,402.1 L214.3,402.1 L213.8,402.1 L213.3,402.0 L212.8,402.0 L212.3,402.0 L211.8,402.0 L211.3,401.9 L210.8,401.9 L210.3,401.9 L209.8,401.9 L209.3,401.8 L208.8,401.8 L208.3,401.8 L207.8,401.8 L207.3,401.8 L206.8,401.7 L206.3,401.7 L205.8,401.7 L205.3,401.7 L204.8,401.6 L204.3,401.6 L203.8,401.6 L203.3,401.6 L202.8,401.6 L202.3,401.6 L201.8,401.5 L201.3,401.5 L200.8,401.5 L200.3,401.5 L199.8,401.5 L199.3,401.4 L198.8,401.4 L198.3,401.4 L197.8,401.4 L197.3,401.4 L196.8,401.3 L196.3,401.3 L195.8,401.3 L195.3,401.3 L194.8,401.3 L194.3,401.2 L193.8,401.2 L193.3,401.2 L192.8,401.2 L192.3,401.2 L191.8,401.1 L191.3,401.1 L190.8,401.1 L190.3,401.1 L189.8,401.0 L189.3,401.0 L188.8,401.0 L188.3,401.0 L187.8,401.0 L187.3,400.9 L186.8,400.9 L186.3,400.9 L185.8,400.9 L185.3,400.8 L184.8,400.8 L184.3,400.8 L183.8,400.7 L183.3,400.7 L182.8,400.7 L182.3,400.6 L181.8,400.6 L181.3,400.6 L180.8,400.6 L180.3,400.5 L179.8,400.5 L179.3,400.4 L178.8,400.4 L178.3,400.4 L177.8,400.3 L177.3,400.3 L176.8,400.2 L176.3,400.2 L175.8,400.1 L175.3,400.1 L174.8,400.0 L174.3,400.0 L173.8,399.9 L173.3,399.8 L172.8,399.8 L172.3,399.7 L171.8,399.7 L171.3,399.6 L170.8,399.5 L170.3,399.5 L169.8,399.4 L169.3,399.4 L168.8,399.3 L168.3,399.2 L167.8,399.2 L167.3,399.1 L166.8,399.1 L166.3,399.0 L165.8,399.0 L165.3,398.9 L164.8,398.9 L164.3,398.8 L163.8,398.8 L163.3,398.7 L162.8,398.7 L162.3,398.6 L161.8,398.6 L161.3,398.6 L160.8,398.5 L160.3,398.5 L159.8,398.5 L159.3,398.5 L158.8,398.4 L158.3,398.4 L157.8,398.4 L157.3,398.4 L156.8,398.4 L156.3,398.3 L155.8,398.3 L155.3,398.3 L154.8,398.3 L154.3,398.2 L153.8,398.2 L153.3,398.2 L152.8,398.2 L152.3,398.2 L151.8,398.1 L151.3,398.1 L150.8,398.1 L150.3,398.1 L149.8,398.1 L149.3,398.0 L148.8,398.0 L148.3,398.0 L147.8,398.0 L147.3,398.0 L146.8,397.9 L146.3,397.9 L145.8,397.9 L145.3,397.9 L144.8,397.9 L144.3,397.9 L143.8,397.8 L143.3,397.8 L142.8,397.8 L142.3,397.8 L141.8,397.8 L141.3,397.8 L140.8,397.8 L140.3,397.7 L139.8,397.7 L139.3,397.7 L138.8,397.7 L138.3,397.7 L137.8,397.7 L137.3,397.7 L136.8,397.7 L136.3,397.7 L135.8,397.7 L135.3,397.6 L134.8,397.6 L134.3,397.6 L133.8,397.6 L133.3,397.6 L132.8,397.6 L132.3,397.6 L131.8,397.6 L131.3,397.6 L130.8,397.6 L130.3,397.6 L129.8,397.6 L129.3,397.6 Z" fill="#ffff00"/>
<path d="M129.3,396.2 L129.8,396.4 L130.3,397.0 L130.8,397.8 L131.3,398.3 L131.8,398.7 L132.3,397.7 L132.8,398.2 L133.3,398.1 L133.8,398.2 L134.3,398.3 L134.8,398.9 L135.3,400.0 L135.8,398.9 L136.3,398.5 L136.8,398.2 L137.3,397.5 L137.8,395.9 L138.3,397.0 L138.8,397.6 L139.3,396.5 L139.8,396.3 L140.3,396.7 L140.8,396.7 L141.3,396.1 L141.8,397.3 L142.3,398.2 L142.8,398.5 L143.3,397.8 L143.8,397.6 L144.3,398.1 L144.8,398.3 L145.3,398.2 L145.8,398.8 L146.3,398.4 L146.8,397.5 L147.3,397.7 L147.8,397.5 L148.3,397.9 L148.8,397.1 L149.3,395.6 L149.8,395.8 L150.3,395.5 L150.8,396.5 L151.3,396.4 L151.8,396.0 L152.3,396.6 L152.8,397.6 L153.3,397.1 L153.8,396.4 L154.3,398.0 L154.8,397.2 L155.3,397.3 L155.8,398.1 L156.3,396.9 L156.8,396.8 L157.3,396.8 L157.8,396.5 L158.3,396.1 L158.8,395.5 L159.3,396.4 L159.8,395.7 L160.3,395.6 L160.8,396.7 L161.3,397.0 L161.8,397.2 L162.3,397.2 L162.8,397.5 L163.3,396.8 L163.8,395.9 L164.3,396.2 L164.8,396.0 L165.3,393.9 L165.8,393.3 L166.3,393.5 L166.8,393.0 L167.3,391.5 L167.8,391.3 L168.3,391.5 L168.8,391.0 L169.3,391.6 L169.8,390.8 L170.3,391.1 L170.8,390.9 L171.3,391.3 L171.8,391.8 L172.3,392.4 L172.8,390.8 L173.3,388.7 L173.8,389.9 L174.3,389.9 L174.8,389.4 L175.3,388.4 L175.8,387.6 L176.3,387.8 L176.8,387.2 L177.3,385.9 L177.8,385.8 L178.3,385.8 L178.8,385.9 L179.3,385.8 L179.8,384.5 L180.3,384.2 L180.8,384.6 L181.3,384.0 L181.8,382.2 L182.3,382.0 L182.8,382.4 L183.3,382.2 L183.8,381.1 L184.3,379.7 L184.8,378.0 L185.3,377.4 L185.8,376.9 L186.3,375.8 L186.8,374.1 L187.3,373.3 L187.8,372.6 L188.3,370.6 L188.8,370.0 L189.3,368.7 L189.8,367.5 L190.3,366.2 L190.8,365.1 L191.3,363.8 L191.8,362.3 L192.3,360.3 L192.8,358.5 L193.3,357.7 L193.8,356.4 L194.3,354.8 L194.8,353.4 L195.3,352.0 L195.8,350.1 L196.3,348.6 L196.8,346.5 L197.3,344.2 L197.8,342.4 L198.3,340.3 L198.8,339.0 L199.3,336.8 L199.8,335.9 L200.3,334.8 L200.8,333.3 L201.3,331.1 L201.8,329.4 L202.3,329.0 L202.8,327.4 L203.3,326.0 L203.8,323.6 L204.3,322.2 L204.8,321.6 L205.3,320.2 L205.8,318.5 L206.3,317.1 L206.8,314.7 L207.3,312.0 L207.8,310.3 L208.3,308.4 L208.8,306.0 L209.3,304.0 L209.8,301.8 L210.3,298.9 L210.8,296.1 L211.3,293.2 L211.8,290.4 L212.3,287.2 L212.8,283.8 L213.3,280.9 L213.8,276.9 L214.3,273.7 L214.8,270.2 L215.3,266.6 L215.8,263.0 L216.3,259.8 L216.8,257.5 L217.3,254.5 L217.8,251.9 L218.3,248.2 L218.8,245.6 L219.3,242.5 L219.8,237.9 L220.3,234.5 L220.8,231.7 L221.3,231.3 L221.8,232.5 L222.3,234.1 L222.8,236.3 L223.3,238.5 L223.8,240.9 L224.3,242.6 L224.8,244.8 L225.3,247.4 L225.8,249.9 L226.3,252.1 L226.8,254.1 L227.3,257.2 L227.8,260.2 L228.3,264.8 L228.8,271.0 L229.3,276.6 L229.8,281.5 L230.3,287.0 L230.8,292.3 L231.3,296.5 L231.8,300.6 L232.3,304.8 L232.8,308.2 L233.3,311.4 L233.8,314.2 L234.3,316.6 L234.8,319.2 L235.3,321.8 L235.8,324.1 L236.3,325.0 L236.8,326.5 L237.3,328.1 L237.8,329.3 L238.3,330.9 L238.8,331.9 L239.3,334.1 L239.8,336.9 L240.3,338.8 L240.8,341.4 L241.3,344.5 L241.8,347.6 L242.3,351.5 L242.8,355.1 L243.3,357.6 L243.8,360.1 L244.3,362.1 L244.8,364.2 L245.3,366.4 L245.8,369.8 L246.3,372.5 L246.8,374.4 L247.3,377.3 L247.8,379.4 L248.3,381.1 L248.8,383.5 L249.3,385.5 L249.8,388.3 L250.3,390.1 L250.8,392.2 L251.3,393.2 L251.8,393.4 L252.3,395.5 L252.8,397.2 L253.3,398.5 L253.8,399.2 L254.3,400.5 L254.8,402.7 L255.3,403.6 L255.8,403.2 L256.3,403.5 L256.8,404.6 L257.3,405.1 L257.8,404.6 L258.3,405.8 L258.8,406.1 L259.3,406.3 L259.8,407.6 L260.3,407.1 L260.8,408.4 L261.3,409.3 L261.8,407.9 L262.3,408.6 L262.8,409.0 L263.3,408.6 L263.8,409.0 L264.3,408.9 L264.8,409.0 L265.3,409.3 L265.8,408.3 L266.3,408.1 L266.8,407.4 L267.3,408.2 L267.8,408.6 L268.3,408.5 L268.8,408.6 L269.3,408.1 L269.8,407.9 L270.3,409.5 L270.8,409.9 L271.3,408.7 L271.8,409.0 L272.3,409.2 L272.8,409.4 L273.3,408.8 L273.8,409.4 L274.3,409.0 L274.8,409.7 L275.3,409.9 L275.8,408.4 L276.3,408.7 L276.8,409.2 L277.3,410.3 L277.8,409.7 L278.3,409.9 L278.8,412.6 L279.3,411.2 L279.8,409.1 L280.3,408.3 L280.8,408.4 L281.3,408.5 L281.8,407.6 L282.3,409.6 L282.8,410.6 L283.3,410.6 L283.8,409.5 L284.3,408.4 L284.8,409.7 L285.3,408.5 L285.8,407.4 L286.3,407.9 L286.8,409.4 L287.3,409.9 L287.8,409.6 L288.3,409.0 L288.8,408.9 L289.3,410.3 L289.8,410.6 L290.3,407.5 L290.8,407.4 L291.3,408.5" fill="none" stroke="#000" stroke-width="1.4" stroke-linejoin="round"/>
<path d="M129.3,397.6 L129.8,397.6 L130.3,397.6 L130.8,397.6 L131.3,397.6 L131.8,397.6 L132.3,397.6 L132.8,397.6 L133.3,397.6 L133.8,397.6 L134.3,397.6 L134.8,397.6 L135.3,397.6 L135.8,397.7 L136.3,397.7 L136.8,397.7 L137.3,397.7 L137.8,397.7 L138.3,397.7 L138.8,397.7 L139.3,397.7 L139.8,397.7 L140.3,397.7 L140.8,397.8 L141.3,397.8 L141.8,397.8 L142.3,397.8 L142.8,397.8 L143.3,397.8 L143.8,397.8 L144.3,397.9 L144.8,397.9 L145.3,397.9 L145.8,397.9 L146.3,397.9 L146.8,397.9 L147.3,398.0 L147.8,398.0 L148.3,398.0 L148.8,398.0 L149.3,398.0 L149.8,398.1 L150.3,398.1 L150.8,398.1 L151.3,398.1 L151.8,398.1 L152.3,398.2 L152.8,398.2 L153.3,398.2 L153.8,398.2 L154.3,398.2 L154.8,398.3 L155.3,398.3 L155.8,398.3 L156.3,398.3 L156.8,398.4 L157.3,398.4 L157.8,398.4 L158.3,398.4 L158.8,398.4 L159.3,398.5 L159.8,398.5 L160.3,398.5 L160.8,398.5 L161.3,398.6 L161.8,398.6 L162.3,398.6 L162.8,398.7 L163.3,398.7 L163.8,398.8 L164.3,398.8 L164.8,398.9 L165.3,398.9 L165.8,399.0 L166.3,399.0 L166.8,399.1 L167.3,399.1 L167.8,399.2 L168.3,399.2 L168.8,399.3 L169.3,399.4 L169.8,399.4 L170.3,399.5 L170.8,399.5 L171.3,399.6 L171.8,399.7 L172.3,399.7 L172.8,399.8 L173.3,399.8 L173.8,399.9 L174.3,400.0 L174.8,400.0 L175.3,400.1 L175.8,400.1 L176.3,400.2 L176.8,400.2 L177.3,400.3 L177.8,400.3 L178.3,400.4 L178.8,400.4 L179.3,400.4 L179.8,400.5 L180.3,400.5 L180.8,400.6 L181.3,400.6 L181.8,400.6 L182.3,400.6 L182.8,400.7 L183.3,400.7 L183.8,400.7 L184.3,400.8 L184.8,400.8 L185.3,400.8 L185.8,400.9 L186.3,400.9 L186.8,400.9 L187.3,400.9 L187.8,401.0 L188.3,401.0 L188.8,401.0 L189.3,401.0 L189.8,401.0 L190.3,401.1 L190.8,401.1 L191.3,401.1 L191.8,401.1 L192.3,401.2 L192.8,401.2 L193.3,401.2 L193.8,401.2 L194.3,401.2 L194.8,401.3 L195.3,401.3 L195.8,401.3 L196.3,401.3 L196.8,401.3 L197.3,401.4 L197.8,401.4 L198.3,401.4 L198.8,401.4 L199.3,401.4 L199.8,401.5 L200.3,401.5 L200.8,401.5 L201.3,401.5 L201.8,401.5 L202.3,401.6 L202.8,401.6 L203.3,401.6 L203.8,401.6 L204.3,401.6 L204.8,401.6 L205.3,401.7 L205.8,401.7 L206.3,401.7 L206.8,401.7 L207.3,401.8 L207.8,401.8 L208.3,401.8 L208.8,401.8 L209.3,401.8 L209.8,401.9 L210.3,401.9 L210.8,401.9 L211.3,401.9 L211.8,402.0 L212.3,402.0 L212.8,402.0 L213.3,402.0 L213.8,402.1 L214.3,402.1 L214.8,402.1 L215.3,402.1 L215.8,402.2 L216.3,402.2 L216.8,402.2 L217.3,402.3 L217.8,402.3 L218.3,402.3 L218.8,402.4 L219.3,402.4 L219.8,402.4 L220.3,402.5 L220.8,402.5 L221.3,402.5 L221.8,402.6 L222.3,402.6 L222.8,402.7 L223.3,402.7 L223.8,402.7 L224.3,402.8 L224.8,402.8 L225.3,402.9 L225.8,402.9 L226.3,403.0 L226.8,403.1 L227.3,403.1 L227.8,403.2 L228.3,403.2 L228.8,403.3 L229.3,403.3 L229.8,403.4 L230.3,403.5 L230.8,403.5 L231.3,403.6 L231.8,403.7 L232.3,403.7 L232.8,403.8 L233.3,403.9 L233.8,403.9 L234.3,404.0 L234.8,404.0 L235.3,404.1 L235.8,404.2 L236.3,404.2 L236.8,404.3 L237.3,404.4 L237.8,404.4 L238.3,404.5 L238.8,404.6 L239.3,404.6 L239.8,404.7 L240.3,404.7 L240.8,404.8 L241.3,404.9 L241.8,404.9 L242.3,405.0 L242.8,405.1 L243.3,405.1 L243.8,405.2 L244.3,405.3 L244.8,405.3 L245.3,405.4 L245.8,405.5 L246.3,405.5 L246.8,405.6 L247.3,405.6 L247.8,405.7 L248.3,405.8 L248.8,405.8 L249.3,405.8 L249.8,405.9 L250.3,405.9 L250.8,406.0 L251.3,406.0 L251.8,406.0 L252.3,406.1 L252.8,406.1 L253.3,406.1 L253.8,406.2 L254.3,406.2 L254.8,406.2 L255.3,406.3 L255.8,406.3 L256.3,406.3 L256.8,406.4 L257.3,406.4 L257.8,406.4 L258.3,406.5 L258.8,406.5 L259.3,406.5 L259.8,406.6 L260.3,406.6 L260.8,406.6 L261.3,406.7 L261.8,406.7 L262.3,406.7 L262.8,406.8 L263.3,406.8 L263.8,406.8 L264.3,406.9 L264.8,406.9 L265.3,406.9 L265.8,406.9 L266.3,407.0 L266.8,407.0 L267.3,407.0 L267.8,407.1 L268.3,407.1 L268.8,407.1 L269.3,407.1 L269.8,407.2 L270.3,407.2 L270.8,407.2 L271.3,407.2 L271.8,407.3 L272.3,407.3 L272.8,407.3 L273.3,407.3 L273.8,407.4 L274.3,407.4 L274.8,407.4 L275.3,407.4 L275.8,407.4 L276.3,407.5 L276.8,407.5 L277.3,407.5 L277.8,407.5 L278.3,407.5 L278.8,407.6 L279.3,407.6 L279.8,407.6 L280.3,407.6 L280.8,407.6 L281.3,407.6 L281.8,407.7 L282.3,407.7 L282.8,407.7 L283.3,407.7 L283.8,407.7 L284.3,407.7 L284.8,407.7 L285.3,407.7 L285.8,407.7 L286.3,407.8 L286.8,407.8 L287.3,407.8 L287.8,407.8 L288.3,407.8 L288.8,407.8 L289.3,407.8 L289.8,407.8 L290.3,407.8 L290.8,407.8 L291.3,407.8" fill="none" stroke="#ff00ff" stroke-width="1.3"/>
<path d="M214.3,402.0 L214.8,402.1 L215.3,402.2 L215.8,402.3 L216.3,402.3 L216.8,402.4 L217.3,402.5 L217.8,402.6 L218.3,402.7 L218.8,402.8 L219.3,402.9 L219.8,403.0 L220.3,403.1 L220.8,403.2 L221.3,403.3 L221.8,403.4 L222.3,403.5 L222.8,403.7 L223.3,403.8 L223.8,404.0 L224.3,404.1 L224.8,404.3 L225.3,404.4 L225.8,404.6 L226.3,404.8 L226.8,404.9 L227.3,405.1 L227.8,405.3 L228.3,405.5 L228.8,405.7 L229.3,405.8 L229.8,406.0 L230.3,406.2 L230.8,406.3 L231.3,406.5 L231.8,406.6 L232.3,406.8 L232.8,406.9 L233.3,407.0 L233.8,407.1 L234.3,407.2 L234.8,407.3 L235.3,407.4 L235.8,407.5 L236.3,407.6 L236.8,407.7 L237.3,407.8 L237.8,407.9 L238.3,408.0 L238.8,408.1 L239.3,408.2 L239.8,408.2 L240.3,408.3 L240.8,408.4 L241.3,408.5 L241.8,408.6 L242.3,408.6 L242.8,408.7 L243.3,408.8 L243.8,408.8 L244.3,408.9 L244.8,409.0 L245.3,409.0 L245.8,409.1 L246.3,409.1 L246.8,409.2 L247.3,409.2 L247.8,409.2 L248.3,409.3 L248.8,409.3 L249.3,409.3 L249.8,409.3 L250.3,409.3 L250.8,409.3 L251.3,409.3 L251.8,409.3 L252.3,409.3 L252.8,409.3 L253.3,409.3 L253.8,409.3 L254.3,409.3 L254.8,409.3 L255.3,409.3 L255.8,409.3 L256.3,409.3 L256.8,409.3 L257.3,409.3 L257.8,409.3 L258.3,409.3 L258.8,409.3 L259.3,409.3 L259.8,409.3 L260.3,409.3 L260.8,409.3 L261.3,409.4 L261.8,409.4 L262.3,409.4 L262.8,409.4 L263.3,409.4 L263.8,409.4 L264.3,409.4 L264.8,409.4 L265.3,409.4 L265.8,409.4 L266.3,409.4 L266.8,409.4 L267.3,409.4 L267.8,409.4 L268.3,409.4 L268.8,409.4 L269.3,409.4 L269.8,409.4 L270.3,409.4 L270.8,409.4 L271.3,409.4 L271.8,409.4 L272.3,409.4 L272.8,409.4 L273.3,409.4 L273.8,409.4 L274.3,409.4 L274.8,409.4 L275.3,409.4 L275.8,409.4 L276.3,409.4 L276.8,409.4 L277.3,409.4 L277.8,409.4 L278.3,409.4 L278.8,409.4 L279.3,409.4 L279.8,409.4 L280.3,409.4 L280.8,409.4 L281.3,409.4 L281.8,409.4 L282.3,409.4 L282.8,409.4 L283.3,409.4 L283.8,409.4 L284.3,409.4 L284.8,409.4 L285.3,409.4 L285.8,409.4 L286.3,409.4 L286.8,409.4 L287.3,409.4 L287.8,409.4 L288.3,409.4 L288.8,409.4 L289.3,409.4 L289.8,409.4 L290.3,409.4 L290.8,409.4 L291.3,409.4" fill="none" stroke="#1a1aff" stroke-width="1.3"/>
<path d="M129.3,396.4 L129.8,396.4 L130.3,396.4 L130.8,396.3 L131.3,396.3 L131.8,396.3 L132.3,396.3 L132.8,396.3 L133.3,396.3 L133.8,396.3 L134.3,396.2 L134.8,396.2 L135.3,396.2 L135.8,396.2 L136.3,396.2 L136.8,396.2 L137.3,396.2 L137.8,396.1 L138.3,396.1 L138.8,396.1 L139.3,396.1 L139.8,396.1 L140.3,396.1 L140.8,396.0 L141.3,396.0 L141.8,396.0 L142.3,396.0 L142.8,396.0 L143.3,395.9 L143.8,395.9 L144.3,395.9 L144.8,395.9 L145.3,395.9 L145.8,395.8 L146.3,395.8 L146.8,395.8 L147.3,395.8 L147.8,395.7 L148.3,395.7 L148.8,395.7 L149.3,395.7 L149.8,395.6 L150.3,395.6 L150.8,395.6 L151.3,395.5 L151.8,395.5 L152.3,395.5 L152.8,395.4 L153.3,395.4 L153.8,395.4 L154.3,395.3 L154.8,395.3 L155.3,395.3 L155.8,395.2 L156.3,395.2 L156.8,395.1 L157.3,395.1 L157.8,395.1 L158.3,395.0 L158.8,395.0 L159.3,394.9 L159.8,394.9 L160.3,394.8 L160.8,394.8 L161.3,394.7 L161.8,394.7 L162.3,394.6 L162.8,394.5 L163.3,394.5 L163.8,394.4 L164.3,394.4 L164.8,394.3 L165.3,394.2 L165.8,394.1 L166.3,394.1 L166.8,394.0 L167.3,393.9 L167.8,393.8 L168.3,393.7 L168.8,393.6 L169.3,393.5 L169.8,393.4 L170.3,393.3 L170.8,393.2 L171.3,393.1 L171.8,393.0 L172.3,392.8 L172.8,392.7 L173.3,392.6 L173.8,392.4 L174.3,392.2 L174.8,392.1 L175.3,391.9 L175.8,391.7 L176.3,391.5 L176.8,391.3 L177.3,391.0 L177.8,390.8 L178.3,390.5 L178.8,390.2 L179.3,389.9 L179.8,389.6 L180.3,389.3 L180.8,388.9 L181.3,388.6 L181.8,388.2 L182.3,387.8 L182.8,387.3 L183.3,386.8 L183.8,386.3 L184.3,385.8 L184.8,385.3 L185.3,384.7 L185.8,384.1 L186.3,383.4 L186.8,382.7 L187.3,382.0 L187.8,381.3 L188.3,380.5 L188.8,379.7 L189.3,378.8 L189.8,377.9 L190.3,377.0 L190.8,376.1 L191.3,375.1 L191.8,374.0 L192.3,373.0 L192.8,371.9 L193.3,370.8 L193.8,369.7 L194.3,368.5 L194.8,367.3 L195.3,366.1 L195.8,364.9 L196.3,363.7 L196.8,362.5 L197.3,361.4 L197.8,360.2 L198.3,359.0 L198.8,357.9 L199.3,356.9 L199.8,355.8 L200.3,354.9 L200.8,354.0 L201.3,353.3 L201.8,352.6 L202.3,352.0 L202.8,351.6 L203.3,351.2 L203.8,351.0 L204.3,351.0 L204.8,351.1 L205.3,351.4 L205.8,351.9 L206.3,352.5 L206.8,353.4 L207.3,354.4 L207.8,355.5 L208.3,356.8 L208.8,358.2 L209.3,359.7 L209.8,361.2 L210.3,362.8 L210.8,364.4 L211.3,366.0 L211.8,367.6 L212.3,369.2 L212.8,370.8 L213.3,372.4 L213.8,373.9 L214.3,375.4 L214.8,376.9 L215.3,378.3 L215.8,379.7 L216.3,381.0 L216.8,382.3 L217.3,383.5 L217.8,384.7 L218.3,385.8 L218.8,386.8 L219.3,387.8 L219.8,388.8 L220.3,389.7 L220.8,390.5 L221.3,391.4 L221.8,392.1 L222.3,392.9 L222.8,393.5 L223.3,394.2 L223.8,394.8 L224.3,395.4 L224.8,395.9 L225.3,396.4 L225.8,396.9 L226.3,397.4 L226.8,397.8 L227.3,398.2 L227.8,398.6 L228.3,398.9 L228.8,399.3 L229.3,399.6 L229.8,399.9 L230.3,400.2 L230.8,400.5 L231.3,400.8 L231.8,401.0 L232.3,401.3 L232.8,401.5 L233.3,401.7 L233.8,401.9 L234.3,402.1 L234.8,402.3 L235.3,402.5 L235.8,402.7 L236.3,402.9 L236.8,403.0 L237.3,403.2 L237.8,403.3 L238.3,403.5 L238.8,403.6 L239.3,403.8 L239.8,403.9 L240.3,404.0 L240.8,404.2 L241.3,404.3 L241.8,404.4 L242.3,404.5 L242.8,404.6 L243.3,404.7 L243.8,404.8 L244.3,404.9 L244.8,405.0 L245.3,405.1 L245.8,405.2 L246.3,405.3 L246.8,405.4 L247.3,405.4 L247.8,405.5 L248.3,405.6 L248.8,405.7 L249.3,405.7 L249.8,405.8 L250.3,405.9 L250.8,405.9 L251.3,406.0 L251.8,406.0 L252.3,406.1 L252.8,406.2 L253.3,406.2 L253.8,406.3 L254.3,406.3 L254.8,406.3 L255.3,406.4 L255.8,406.4 L256.3,406.5 L256.8,406.5 L257.3,406.5 L257.8,406.6 L258.3,406.6 L258.8,406.7 L259.3,406.7 L259.8,406.7 L260.3,406.7 L260.8,406.8 L261.3,406.8 L261.8,406.8 L262.3,406.9 L262.8,406.9 L263.3,406.9 L263.8,406.9 L264.3,407.0 L264.8,407.0 L265.3,407.0 L265.8,407.0 L266.3,407.0 L266.8,407.1 L267.3,407.1 L267.8,407.1 L268.3,407.1 L268.8,407.1 L269.3,407.1 L269.8,407.2 L270.3,407.2 L270.8,407.2 L271.3,407.2 L271.8,407.2 L272.3,407.2 L272.8,407.2 L273.3,407.2 L273.8,407.3 L274.3,407.3 L274.8,407.3 L275.3,407.3 L275.8,407.3 L276.3,407.3 L276.8,407.3 L277.3,407.3 L277.8,407.3 L278.3,407.4 L278.8,407.4 L279.3,407.4 L279.8,407.4 L280.3,407.4 L280.8,407.4 L281.3,407.4 L281.8,407.4 L282.3,407.4 L282.8,407.4 L283.3,407.4 L283.8,407.4 L284.3,407.5 L284.8,407.5 L285.3,407.5 L285.8,407.5 L286.3,407.5 L286.8,407.5 L287.3,407.5 L287.8,407.5 L288.3,407.5 L288.8,407.5 L289.3,407.5 L289.8,407.5 L290.3,407.5 L290.8,407.5 L291.3,407.5" fill="none" stroke="#ff00ff" stroke-width="1.3"/>
<path d="M129.3,395.8 L129.8,395.8 L130.3,395.8 L130.8,395.8 L131.3,395.8 L131.8,395.8 L132.3,395.8 L132.8,395.8 L133.3,395.8 L133.8,395.8 L134.3,395.8 L134.8,395.8 L135.3,395.8 L135.8,395.8 L136.3,395.8 L136.8,395.7 L137.3,395.7 L137.8,395.7 L138.3,395.7 L138.8,395.7 L139.3,395.7 L139.8,395.7 L140.3,395.7 L140.8,395.7 L141.3,395.7 L141.8,395.7 L142.3,395.7 L142.8,395.7 L143.3,395.7 L143.8,395.7 L144.3,395.7 L144.8,395.7 L145.3,395.7 L145.8,395.6 L146.3,395.6 L146.8,395.6 L147.3,395.6 L147.8,395.6 L148.3,395.6 L148.8,395.6 L149.3,395.6 L149.8,395.6 L150.3,395.6 L150.8,395.6 L151.3,395.6 L151.8,395.6 L152.3,395.5 L152.8,395.5 L153.3,395.5 L153.8,395.5 L154.3,395.5 L154.8,395.5 L155.3,395.5 L155.8,395.5 L156.3,395.5 L156.8,395.5 L157.3,395.4 L157.8,395.4 L158.3,395.4 L158.8,395.4 L159.3,395.4 L159.8,395.4 L160.3,395.4 L160.8,395.4 L161.3,395.3 L161.8,395.3 L162.3,395.3 L162.8,395.3 L163.3,395.3 L163.8,395.3 L164.3,395.3 L164.8,395.2 L165.3,395.2 L165.8,395.2 L166.3,395.2 L166.8,395.2 L167.3,395.1 L167.8,395.1 L168.3,395.1 L168.8,395.1 L169.3,395.1 L169.8,395.0 L170.3,395.0 L170.8,395.0 L171.3,395.0 L171.8,394.9 L172.3,394.9 L172.8,394.9 L173.3,394.9 L173.8,394.8 L174.3,394.8 L174.8,394.8 L175.3,394.7 L175.8,394.7 L176.3,394.7 L176.8,394.6 L177.3,394.6 L177.8,394.6 L178.3,394.5 L178.8,394.5 L179.3,394.5 L179.8,394.4 L180.3,394.4 L180.8,394.3 L181.3,394.3 L181.8,394.2 L182.3,394.2 L182.8,394.1 L183.3,394.1 L183.8,394.0 L184.3,393.9 L184.8,393.9 L185.3,393.8 L185.8,393.7 L186.3,393.6 L186.8,393.6 L187.3,393.5 L187.8,393.4 L188.3,393.3 L188.8,393.2 L189.3,393.0 L189.8,392.9 L190.3,392.8 L190.8,392.6 L191.3,392.5 L191.8,392.3 L192.3,392.1 L192.8,391.9 L193.3,391.6 L193.8,391.4 L194.3,391.1 L194.8,390.8 L195.3,390.5 L195.8,390.2 L196.3,389.8 L196.8,389.4 L197.3,388.9 L197.8,388.4 L198.3,387.9 L198.8,387.4 L199.3,386.8 L199.8,386.2 L200.3,385.5 L200.8,384.8 L201.3,384.1 L201.8,383.3 L202.3,382.4 L202.8,381.5 L203.3,380.6 L203.8,379.6 L204.3,378.6 L204.8,377.5 L205.3,376.3 L205.8,375.1 L206.3,373.7 L206.8,372.3 L207.3,370.8 L207.8,369.1 L208.3,367.3 L208.8,365.4 L209.3,363.2 L209.8,360.9 L210.3,358.2 L210.8,355.3 L211.3,352.1 L211.8,348.5 L212.3,344.6 L212.8,340.4 L213.3,335.9 L213.8,331.1 L214.3,326.1 L214.8,320.9 L215.3,315.7 L215.8,310.6 L216.3,305.7 L216.8,301.3 L217.3,297.6 L217.8,294.9 L218.3,293.2 L218.8,292.8 L219.3,293.5 L219.8,295.1 L220.3,297.4 L220.8,300.3 L221.3,303.9 L221.8,307.9 L222.3,312.3 L222.8,316.9 L223.3,321.6 L223.8,326.5 L224.3,331.2 L224.8,335.9 L225.3,340.5 L225.8,345.0 L226.3,349.2 L226.8,353.2 L227.3,357.0 L227.8,360.6 L228.3,364.0 L228.8,367.2 L229.3,370.1 L229.8,372.8 L230.3,375.3 L230.8,377.6 L231.3,379.8 L231.8,381.7 L232.3,383.5 L232.8,385.2 L233.3,386.7 L233.8,388.0 L234.3,389.3 L234.8,390.4 L235.3,391.5 L235.8,392.4 L236.3,393.3 L236.8,394.1 L237.3,394.9 L237.8,395.6 L238.3,396.2 L238.8,396.8 L239.3,397.3 L239.8,397.8 L240.3,398.3 L240.8,398.8 L241.3,399.2 L241.8,399.6 L242.3,399.9 L242.8,400.3 L243.3,400.6 L243.8,400.9 L244.3,401.2 L244.8,401.5 L245.3,401.7 L245.8,401.9 L246.3,402.2 L246.8,402.4 L247.3,402.6 L247.8,402.8 L248.3,403.0 L248.8,403.1 L249.3,403.3 L249.8,403.5 L250.3,403.6 L250.8,403.8 L251.3,403.9 L251.8,404.0 L252.3,404.1 L252.8,404.3 L253.3,404.4 L253.8,404.5 L254.3,404.6 L254.8,404.7 L255.3,404.8 L255.8,404.9 L256.3,404.9 L256.8,405.0 L257.3,405.1 L257.8,405.2 L258.3,405.2 L258.8,405.3 L259.3,405.4 L259.8,405.4 L260.3,405.5 L260.8,405.6 L261.3,405.6 L261.8,405.7 L262.3,405.7 L262.8,405.8 L263.3,405.8 L263.8,405.9 L264.3,405.9 L264.8,406.0 L265.3,406.0 L265.8,406.0 L266.3,406.1 L266.8,406.1 L267.3,406.2 L267.8,406.2 L268.3,406.2 L268.8,406.3 L269.3,406.3 L269.8,406.3 L270.3,406.4 L270.8,406.4 L271.3,406.4 L271.8,406.4 L272.3,406.5 L272.8,406.5 L273.3,406.5 L273.8,406.5 L274.3,406.6 L274.8,406.6 L275.3,406.6 L275.8,406.6 L276.3,406.7 L276.8,406.7 L277.3,406.7 L277.8,406.7 L278.3,406.7 L278.8,406.8 L279.3,406.8 L279.8,406.8 L280.3,406.8 L280.8,406.8 L281.3,406.9 L281.8,406.9 L282.3,406.9 L282.8,406.9 L283.3,406.9 L283.8,406.9 L284.3,407.0 L284.8,407.0 L285.3,407.0 L285.8,407.0 L286.3,407.0 L286.8,407.0 L287.3,407.0 L287.8,407.1 L288.3,407.1 L288.8,407.1 L289.3,407.1 L289.8,407.1 L290.3,407.1 L290.8,407.1 L291.3,407.1" fill="none" stroke="#008800" stroke-width="1.3"/>
<path d="M129.3,396.5 L129.8,396.5 L130.3,396.5 L130.8,396.5 L131.3,396.5 L131.8,396.5 L132.3,396.5 L132.8,396.5 L133.3,396.5 L133.8,396.5 L134.3,396.5 L134.8,396.5 L135.3,396.5 L135.8,396.5 L136.3,396.5 L136.8,396.5 L137.3,396.5 L137.8,396.5 L138.3,396.5 L138.8,396.5 L139.3,396.5 L139.8,396.4 L140.3,396.4 L140.8,396.4 L141.3,396.4 L141.8,396.4 L142.3,396.4 L142.8,396.4 L143.3,396.4 L143.8,396.4 L144.3,396.4 L144.8,396.4 L145.3,396.4 L145.8,396.4 L146.3,396.4 L146.8,396.4 L147.3,396.4 L147.8,396.4 L148.3,396.4 L148.8,396.4 L149.3,396.4 L149.8,396.4 L150.3,396.4 L150.8,396.4 L151.3,396.4 L151.8,396.4 L152.3,396.4 L152.8,396.4 L153.3,396.4 L153.8,396.4 L154.3,396.4 L154.8,396.4 L155.3,396.4 L155.8,396.4 L156.3,396.3 L156.8,396.3 L157.3,396.3 L157.8,396.3 L158.3,396.3 L158.8,396.3 L159.3,396.3 L159.8,396.3 L160.3,396.3 L160.8,396.3 L161.3,396.3 L161.8,396.3 L162.3,396.3 L162.8,396.3 L163.3,396.3 L163.8,396.3 L164.3,396.3 L164.8,396.3 L165.3,396.3 L165.8,396.2 L166.3,396.2 L166.8,396.2 L167.3,396.2 L167.8,396.2 L168.3,396.2 L168.8,396.2 L169.3,396.2 L169.8,396.2 L170.3,396.2 L170.8,396.2 L171.3,396.2 L171.8,396.2 L172.3,396.1 L172.8,396.1 L173.3,396.1 L173.8,396.1 L174.3,396.1 L174.8,396.1 L175.3,396.1 L175.8,396.1 L176.3,396.1 L176.8,396.1 L177.3,396.1 L177.8,396.0 L178.3,396.0 L178.8,396.0 L179.3,396.0 L179.8,396.0 L180.3,396.0 L180.8,396.0 L181.3,396.0 L181.8,395.9 L182.3,395.9 L182.8,395.9 L183.3,395.9 L183.8,395.9 L184.3,395.9 L184.8,395.9 L185.3,395.8 L185.8,395.8 L186.3,395.8 L186.8,395.8 L187.3,395.8 L187.8,395.8 L188.3,395.7 L188.8,395.7 L189.3,395.7 L189.8,395.7 L190.3,395.7 L190.8,395.7 L191.3,395.6 L191.8,395.6 L192.3,395.6 L192.8,395.6 L193.3,395.6 L193.8,395.6 L194.3,395.5 L194.8,395.5 L195.3,395.5 L195.8,395.5 L196.3,395.5 L196.8,395.4 L197.3,395.4 L197.8,395.4 L198.3,395.4 L198.8,395.4 L199.3,395.3 L199.8,395.3 L200.3,395.3 L200.8,395.3 L201.3,395.2 L201.8,395.2 L202.3,395.2 L202.8,395.1 L203.3,395.1 L203.8,395.1 L204.3,395.0 L204.8,395.0 L205.3,394.9 L205.8,394.9 L206.3,394.8 L206.8,394.7 L207.3,394.6 L207.8,394.6 L208.3,394.5 L208.8,394.3 L209.3,394.2 L209.8,394.1 L210.3,393.9 L210.8,393.7 L211.3,393.5 L211.8,393.3 L212.3,393.0 L212.8,392.7 L213.3,392.3 L213.8,391.9 L214.3,391.4 L214.8,390.8 L215.3,390.1 L215.8,389.3 L216.3,388.3 L216.8,387.2 L217.3,385.8 L217.8,384.3 L218.3,382.5 L218.8,380.4 L219.3,377.9 L219.8,375.2 L220.3,372.0 L220.8,368.5 L221.3,364.6 L221.8,360.3 L222.3,355.7 L222.8,350.7 L223.3,345.6 L223.8,340.4 L224.3,335.3 L224.8,330.7 L225.3,326.8 L225.8,323.9 L226.3,322.3 L226.8,322.2 L227.3,323.3 L227.8,325.5 L228.3,328.7 L228.8,332.7 L229.3,337.1 L229.8,341.9 L230.3,346.8 L230.8,351.6 L231.3,356.4 L231.8,360.9 L232.3,365.2 L232.8,369.2 L233.3,372.9 L233.8,376.2 L234.3,379.3 L234.8,382.1 L235.3,384.6 L235.8,386.8 L236.3,388.8 L236.8,390.6 L237.3,392.1 L237.8,393.5 L238.3,394.8 L238.8,395.9 L239.3,396.8 L239.8,397.7 L240.3,398.5 L240.8,399.2 L241.3,399.8 L241.8,400.4 L242.3,400.9 L242.8,401.4 L243.3,401.8 L243.8,402.2 L244.3,402.5 L244.8,402.9 L245.3,403.2 L245.8,403.5 L246.3,403.7 L246.8,404.0 L247.3,404.2 L247.8,404.4 L248.3,404.6 L248.8,404.8 L249.3,405.0 L249.8,405.2 L250.3,405.3 L250.8,405.5 L251.3,405.6 L251.8,405.8 L252.3,405.9 L252.8,406.0 L253.3,406.1 L253.8,406.2 L254.3,406.3 L254.8,406.4 L255.3,406.5 L255.8,406.6 L256.3,406.7 L256.8,406.7 L257.3,406.8 L257.8,406.9 L258.3,407.0 L258.8,407.0 L259.3,407.1 L259.8,407.1 L260.3,407.2 L260.8,407.2 L261.3,407.3 L261.8,407.3 L262.3,407.4 L262.8,407.4 L263.3,407.5 L263.8,407.5 L264.3,407.5 L264.8,407.6 L265.3,407.6 L265.8,407.6 L266.3,407.7 L266.8,407.7 L267.3,407.7 L267.8,407.8 L268.3,407.8 L268.8,407.8 L269.3,407.8 L269.8,407.9 L270.3,407.9 L270.8,407.9 L271.3,407.9 L271.8,407.9 L272.3,408.0 L272.8,408.0 L273.3,408.0 L273.8,408.0 L274.3,408.0 L274.8,408.1 L275.3,408.1 L275.8,408.1 L276.3,408.1 L276.8,408.1 L277.3,408.1 L277.8,408.1 L278.3,408.2 L278.8,408.2 L279.3,408.2 L279.8,408.2 L280.3,408.2 L280.8,408.2 L281.3,408.2 L281.8,408.2 L282.3,408.3 L282.8,408.3 L283.3,408.3 L283.8,408.3 L284.3,408.3 L284.8,408.3 L285.3,408.3 L285.8,408.3 L286.3,408.3 L286.8,408.3 L287.3,408.4 L287.8,408.4 L288.3,408.4 L288.8,408.4 L289.3,408.4 L289.8,408.4 L290.3,408.4 L290.8,408.4 L291.3,408.4" fill="none" stroke="#000099" stroke-width="1.3"/>
<path d="M129.3,396.5 L129.8,396.5 L130.3,396.5 L130.8,396.5 L131.3,396.5 L131.8,396.5 L132.3,396.4 L132.8,396.4 L133.3,396.4 L133.8,396.4 L134.3,396.4 L134.8,396.4 L135.3,396.4 L135.8,396.4 L136.3,396.4 L136.8,396.4 L137.3,396.4 L137.8,396.4 L138.3,396.4 L138.8,396.4 L139.3,396.4 L139.8,396.4 L140.3,396.4 L140.8,396.4 L141.3,396.4 L141.8,396.4 L142.3,396.4 L142.8,396.4 L143.3,396.4 L143.8,396.4 L144.3,396.4 L144.8,396.4 L145.3,396.4 L145.8,396.4 L146.3,396.4 L146.8,396.4 L147.3,396.4 L147.8,396.4 L148.3,396.4 L148.8,396.4 L149.3,396.4 L149.8,396.4 L150.3,396.4 L150.8,396.4 L151.3,396.4 L151.8,396.4 L152.3,396.4 L152.8,396.4 L153.3,396.4 L153.8,396.4 L154.3,396.4 L154.8,396.4 L155.3,396.4 L155.8,396.4 L156.3,396.4 L156.8,396.4 L157.3,396.4 L157.8,396.4 L158.3,396.4 L158.8,396.4 L159.3,396.4 L159.8,396.4 L160.3,396.4 L160.8,396.4 L161.3,396.4 L161.8,396.4 L162.3,396.4 L162.8,396.4 L163.3,396.4 L163.8,396.4 L164.3,396.4 L164.8,396.4 L165.3,396.4 L165.8,396.4 L166.3,396.4 L166.8,396.4 L167.3,396.4 L167.8,396.4 L168.3,396.4 L168.8,396.4 L169.3,396.4 L169.8,396.4 L170.3,396.4 L170.8,396.4 L171.3,396.4 L171.8,396.4 L172.3,396.4 L172.8,396.4 L173.3,396.4 L173.8,396.4 L174.3,396.4 L174.8,396.4 L175.3,396.4 L175.8,396.4 L176.3,396.4 L176.8,396.4 L177.3,396.4 L177.8,396.4 L178.3,396.4 L178.8,396.4 L179.3,396.4 L179.8,396.4 L180.3,396.4 L180.8,396.4 L181.3,396.4 L181.8,396.4 L182.3,396.4 L182.8,396.4 L183.3,396.4 L183.8,396.4 L184.3,396.4 L184.8,396.4 L185.3,396.4 L185.8,396.3 L186.3,396.3 L186.8,396.3 L187.3,396.3 L187.8,396.3 L188.3,396.3 L188.8,396.3 L189.3,396.3 L189.8,396.3 L190.3,396.3 L190.8,396.3 L191.3,396.3 L191.8,396.3 L192.3,396.3 L192.8,396.3 L193.3,396.3 L193.8,396.3 L194.3,396.3 L194.8,396.3 L195.3,396.3 L195.8,396.3 L196.3,396.3 L196.8,396.3 L197.3,396.3 L197.8,396.3 L198.3,396.3 L198.8,396.3 L199.3,396.3 L199.8,396.3 L200.3,396.3 L200.8,396.4 L201.3,396.4 L201.8,396.4 L202.3,396.4 L202.8,396.4 L203.3,396.4 L203.8,396.4 L204.3,396.4 L204.8,396.4 L205.3,396.4 L205.8,396.4 L206.3,396.5 L206.8,396.5 L207.3,396.5 L207.8,396.5 L208.3,396.5 L208.8,396.5 L209.3,396.6 L209.8,396.6 L210.3,396.6 L210.8,396.6 L211.3,396.7 L211.8,396.7 L212.3,396.7 L212.8,396.7 L213.3,396.8 L213.8,396.8 L214.3,396.8 L214.8,396.9 L215.3,396.9 L215.8,397.0 L216.3,397.0 L216.8,397.0 L217.3,397.1 L217.8,397.1 L218.3,397.1 L218.8,397.2 L219.3,397.2 L219.8,397.3 L220.3,397.3 L220.8,397.3 L221.3,397.4 L221.8,397.4 L222.3,397.4 L222.8,397.5 L223.3,397.5 L223.8,397.5 L224.3,397.5 L224.8,397.5 L225.3,397.4 L225.8,397.4 L226.3,397.3 L226.8,397.1 L227.3,396.9 L227.8,396.7 L228.3,396.3 L228.8,395.9 L229.3,395.3 L229.8,394.6 L230.3,393.7 L230.8,392.6 L231.3,391.3 L231.8,389.8 L232.3,388.1 L232.8,386.1 L233.3,383.8 L233.8,381.4 L234.3,378.7 L234.8,376.0 L235.3,373.1 L235.8,370.3 L236.3,367.6 L236.8,365.2 L237.3,363.2 L237.8,361.7 L238.3,360.9 L238.8,360.8 L239.3,361.3 L239.8,362.4 L240.3,363.9 L240.8,365.9 L241.3,368.1 L241.8,370.5 L242.3,373.1 L242.8,375.7 L243.3,378.4 L243.8,381.0 L244.3,383.5 L244.8,385.8 L245.3,388.1 L245.8,390.1 L246.3,392.0 L246.8,393.7 L247.3,395.3 L247.8,396.7 L248.3,397.9 L248.8,399.0 L249.3,399.9 L249.8,400.7 L250.3,401.4 L250.8,402.0 L251.3,402.6 L251.8,403.0 L252.3,403.4 L252.8,403.8 L253.3,404.1 L253.8,404.4 L254.3,404.6 L254.8,404.8 L255.3,405.0 L255.8,405.2 L256.3,405.3 L256.8,405.5 L257.3,405.6 L257.8,405.7 L258.3,405.9 L258.8,406.0 L259.3,406.1 L259.8,406.2 L260.3,406.3 L260.8,406.3 L261.3,406.4 L261.8,406.5 L262.3,406.6 L262.8,406.6 L263.3,406.7 L263.8,406.7 L264.3,406.8 L264.8,406.9 L265.3,406.9 L265.8,407.0 L266.3,407.0 L266.8,407.0 L267.3,407.1 L267.8,407.1 L268.3,407.1 L268.8,407.2 L269.3,407.2 L269.8,407.2 L270.3,407.3 L270.8,407.3 L271.3,407.3 L271.8,407.3 L272.3,407.4 L272.8,407.4 L273.3,407.4 L273.8,407.4 L274.3,407.4 L274.8,407.5 L275.3,407.5 L275.8,407.5 L276.3,407.5 L276.8,407.5 L277.3,407.5 L277.8,407.5 L278.3,407.6 L278.8,407.6 L279.3,407.6 L279.8,407.6 L280.3,407.6 L280.8,407.6 L281.3,407.6 L281.8,407.6 L282.3,407.6 L282.8,407.6 L283.3,407.6 L283.8,407.7 L284.3,407.7 L284.8,407.7 L285.3,407.7 L285.8,407.7 L286.3,407.7 L286.8,407.7 L287.3,407.7 L287.8,407.7 L288.3,407.7 L288.8,407.7 L289.3,407.7 L289.8,407.7 L290.3,407.7 L290.8,407.7 L291.3,407.7" fill="none" stroke="#9900ff" stroke-width="1.3"/>
<path d="M129.3,394.6 L129.8,394.5 L130.3,394.5 L130.8,394.5 L131.3,394.5 L131.8,394.5 L132.3,394.5 L132.8,394.4 L133.3,394.4 L133.8,394.4 L134.3,394.4 L134.8,394.4 L135.3,394.3 L135.8,394.3 L136.3,394.3 L136.8,394.3 L137.3,394.3 L137.8,394.2 L138.3,394.2 L138.8,394.2 L139.3,394.2 L139.8,394.2 L140.3,394.1 L140.8,394.1 L141.3,394.1 L141.8,394.1 L142.3,394.0 L142.8,394.0 L143.3,394.0 L143.8,393.9 L144.3,393.9 L144.8,393.9 L145.3,393.9 L145.8,393.8 L146.3,393.8 L146.8,393.8 L147.3,393.7 L147.8,393.7 L148.3,393.7 L148.8,393.6 L149.3,393.6 L149.8,393.6 L150.3,393.5 L150.8,393.5 L151.3,393.5 L151.8,393.4 L152.3,393.4 L152.8,393.3 L153.3,393.3 L153.8,393.3 L154.3,393.2 L154.8,393.2 L155.3,393.1 L155.8,393.1 L156.3,393.0 L156.8,393.0 L157.3,392.9 L157.8,392.9 L158.3,392.8 L158.8,392.8 L159.3,392.7 L159.8,392.7 L160.3,392.6 L160.8,392.5 L161.3,392.5 L161.8,392.4 L162.3,392.3 L162.8,392.3 L163.3,392.2 L163.8,392.1 L164.3,392.0 L164.8,391.9 L165.3,391.9 L165.8,391.8 L166.3,391.7 L166.8,391.6 L167.3,391.5 L167.8,391.4 L168.3,391.3 L168.8,391.1 L169.3,391.0 L169.8,390.9 L170.3,390.8 L170.8,390.6 L171.3,390.5 L171.8,390.3 L172.3,390.1 L172.8,389.9 L173.3,389.7 L173.8,389.5 L174.3,389.3 L174.8,389.1 L175.3,388.8 L175.8,388.6 L176.3,388.3 L176.8,388.0 L177.3,387.7 L177.8,387.3 L178.3,387.0 L178.8,386.6 L179.3,386.2 L179.8,385.7 L180.3,385.2 L180.8,384.7 L181.3,384.2 L181.8,383.7 L182.3,383.1 L182.8,382.4 L183.3,381.8 L183.8,381.1 L184.3,380.3 L184.8,379.5 L185.3,378.7 L185.8,377.9 L186.3,377.0 L186.8,376.0 L187.3,375.0 L187.8,374.0 L188.3,372.9 L188.8,371.8 L189.3,370.7 L189.8,369.5 L190.3,368.2 L190.8,367.0 L191.3,365.7 L191.8,364.3 L192.3,362.9 L192.8,361.5 L193.3,360.1 L193.8,358.6 L194.3,357.1 L194.8,355.6 L195.3,354.1 L195.8,352.5 L196.3,350.9 L196.8,349.3 L197.3,347.8 L197.8,346.1 L198.3,344.5 L198.8,342.9 L199.3,341.3 L199.8,339.7 L200.3,338.1 L200.8,336.5 L201.3,334.9 L201.8,333.3 L202.3,331.6 L202.8,330.0 L203.3,328.3 L203.8,326.7 L204.3,325.1 L204.8,323.6 L205.3,322.1 L205.8,320.5 L206.3,319.0 L206.8,317.4 L207.3,315.7 L207.8,314.0 L208.3,312.1 L208.8,310.2 L209.3,308.0 L209.8,305.8 L210.3,303.3 L210.8,300.8 L211.3,298.0 L211.8,295.1 L212.3,292.1 L212.8,288.9 L213.3,285.6 L213.8,282.2 L214.3,278.8 L214.8,275.3 L215.3,271.8 L215.8,268.3 L216.3,264.8 L216.8,261.4 L217.3,258.2 L217.8,255.0 L218.3,252.1 L218.8,249.3 L219.3,246.7 L219.8,244.3 L220.3,242.1 L220.8,240.2 L221.3,239.2 L221.8,239.1 L222.3,239.7 L222.8,240.9 L223.3,242.5 L223.8,244.4 L224.3,246.4 L224.8,248.5 L225.3,250.8 L225.8,253.4 L226.3,256.4 L226.8,260.2 L227.3,264.7 L227.8,269.7 L228.3,274.8 L228.8,280.0 L229.3,285.1 L229.8,290.0 L230.3,294.8 L230.8,299.2 L231.3,303.4 L231.8,307.1 L232.3,310.5 L232.8,313.5 L233.3,316.2 L233.8,318.6 L234.3,320.8 L234.8,322.7 L235.3,324.5 L235.8,326.2 L236.3,328.0 L236.8,329.7 L237.3,331.5 L237.8,333.4 L238.3,335.5 L238.8,337.7 L239.3,340.0 L239.8,342.5 L240.3,345.2 L240.8,347.9 L241.3,350.7 L241.8,353.5 L242.3,356.3 L242.8,359.2 L243.3,362.0 L243.8,364.7 L244.3,367.4 L244.8,369.9 L245.3,372.4 L245.8,374.8 L246.3,377.0 L246.8,379.2 L247.3,381.2 L247.8,383.0 L248.3,384.8 L248.8,386.4 L249.3,387.9 L249.8,389.3 L250.3,390.6 L250.8,391.7 L251.3,392.8 L251.8,393.7 L252.3,394.6 L252.8,395.4 L253.3,396.1 L253.8,396.8 L254.3,397.3 L254.8,397.9 L255.3,398.4 L255.8,398.8 L256.3,399.2 L256.8,399.5 L257.3,399.9 L257.8,400.2 L258.3,400.5 L258.8,400.7 L259.3,400.9 L259.8,401.2 L260.3,401.4 L260.8,401.6 L261.3,401.7 L261.8,401.9 L262.3,402.1 L262.8,402.2 L263.3,402.4 L263.8,402.5 L264.3,402.6 L264.8,402.8 L265.3,402.9 L265.8,403.0 L266.3,403.1 L266.8,403.2 L267.3,403.3 L267.8,403.4 L268.3,403.5 L268.8,403.6 L269.3,403.7 L269.8,403.8 L270.3,403.9 L270.8,403.9 L271.3,404.0 L271.8,404.1 L272.3,404.1 L272.8,404.2 L273.3,404.3 L273.8,404.3 L274.3,404.4 L274.8,404.5 L275.3,404.5 L275.8,404.6 L276.3,404.6 L276.8,404.7 L277.3,404.7 L277.8,404.8 L278.3,404.8 L278.8,404.9 L279.3,404.9 L279.8,405.0 L280.3,405.0 L280.8,405.0 L281.3,405.1 L281.8,405.1 L282.3,405.2 L282.8,405.2 L283.3,405.2 L283.8,405.3 L284.3,405.3 L284.8,405.3 L285.3,405.4 L285.8,405.4 L286.3,405.4 L286.8,405.5 L287.3,405.5 L287.8,405.5 L288.3,405.6 L288.8,405.6 L289.3,405.6 L289.8,405.6 L290.3,405.7 L290.8,405.7 L291.3,405.7" fill="none" stroke="#ff0000" stroke-width="1.5"/>
</g>
<g clip-path="url(#ce)">
<path d="M295.7,398.2 L296.2,398.2 L296.7,398.2 L297.2,398.2 L297.7,398.2 L298.2,398.2 L298.7,398.2 L299.2,398.2 L299.7,398.2 L300.2,398.2 L300.7,398.2 L301.2,398.2 L301.7,398.2 L302.2,398.2 L302.7,398.2 L303.2,398.2 L303.7,398.2 L304.2,398.2 L304.7,398.2 L305.2,398.2 L305.7,398.1 L306.2,398.1 L306.7,398.1 L307.2,398.1 L307.7,398.1 L308.2,398.1 L308.7,398.1 L309.2,398.1 L309.7,398.1 L310.2,398.1 L310.7,398.1 L311.2,398.1 L311.7,398.1 L312.2,398.1 L312.7,398.1 L313.2,398.1 L313.7,398.1 L314.2,398.1 L314.7,398.1 L315.2,398.1 L315.7,398.1 L316.2,398.1 L316.7,398.1 L317.2,398.1 L317.7,398.1 L318.2,398.1 L318.7,398.1 L319.2,398.1 L319.7,398.1 L320.2,398.1 L320.7,398.1 L321.2,398.1 L321.7,398.1 L322.2,398.1 L322.7,398.1 L323.2,398.0 L323.7,398.0 L324.2,398.0 L324.7,398.0 L325.2,398.0 L325.7,398.0 L326.2,398.0 L326.7,398.0 L327.2,398.0 L327.7,398.0 L328.2,398.0 L328.7,398.0 L329.2,398.0 L329.7,398.0 L330.2,398.0 L330.7,398.0 L331.2,398.0 L331.7,397.9 L332.2,397.9 L332.7,397.9 L333.2,397.9 L333.7,397.9 L334.2,397.9 L334.7,397.9 L335.2,397.9 L335.7,397.9 L336.2,397.9 L336.7,397.8 L337.2,397.8 L337.7,397.8 L338.2,397.8 L338.7,397.8 L339.2,397.8 L339.7,397.8 L340.2,397.7 L340.7,397.7 L341.2,397.7 L341.7,397.7 L342.2,397.7 L342.7,397.6 L343.2,397.6 L343.7,397.6 L344.2,397.5 L344.7,397.5 L345.2,397.5 L345.7,397.4 L346.2,397.4 L346.7,397.4 L347.2,397.3 L347.7,397.3 L348.2,397.2 L348.7,397.1 L349.2,397.1 L349.7,397.0 L350.2,396.9 L350.7,396.8 L351.2,396.7 L351.7,396.6 L352.2,396.5 L352.7,396.4 L353.2,396.2 L353.7,396.0 L354.2,395.9 L354.7,395.6 L355.2,395.4 L355.7,395.1 L356.2,394.8 L356.7,394.4 L357.2,393.9 L357.7,393.4 L358.2,392.8 L358.7,392.1 L359.2,391.2 L359.7,390.3 L360.2,389.2 L360.7,387.9 L361.2,386.4 L361.7,384.7 L362.2,382.9 L362.7,380.8 L363.2,378.7 L363.7,376.4 L364.2,374.2 L364.7,372.1 L365.2,370.4 L365.7,369.1 L366.2,368.5 L366.7,368.7 L367.2,369.6 L367.7,371.1 L368.2,373.0 L368.7,375.2 L369.2,377.5 L369.7,379.7 L370.2,381.9 L370.7,383.9 L371.2,385.7 L371.7,387.4 L372.2,388.9 L372.7,390.2 L373.2,391.4 L373.7,392.4 L374.2,393.2 L374.7,394.0 L375.2,394.7 L375.7,395.2 L376.2,395.8 L376.7,396.2 L377.2,396.6 L377.7,396.9 L378.2,397.3 L378.7,397.5 L379.2,397.8 L379.7,398.0 L380.2,398.3 L380.7,398.5 L381.2,398.7 L381.7,398.8 L382.2,399.0 L382.7,399.2 L383.2,399.3 L383.7,399.5 L384.2,399.6 L384.7,399.7 L385.2,399.9 L385.7,400.0 L386.2,400.1 L386.7,400.2 L387.2,400.4 L387.7,400.5 L388.2,400.6 L388.7,400.7 L389.2,400.8 L389.7,400.9 L390.2,401.0 L390.7,401.1 L391.2,401.2 L391.7,401.3 L392.2,401.4 L392.7,401.5 L393.2,401.6 L393.7,401.7 L394.2,401.8 L394.7,401.8 L395.2,401.9 L395.7,402.0 L396.2,402.1 L396.7,402.2 L397.2,402.3 L397.7,402.4 L398.2,402.4 L398.7,402.5 L399.2,402.6 L399.7,402.7 L400.2,402.8 L400.7,402.9 L401.2,402.9 L401.7,403.0 L402.2,403.1 L402.7,403.2 L403.2,403.3 L403.7,403.3 L404.2,403.4 L404.7,403.5 L405.2,403.6 L405.7,403.6 L406.2,403.7 L406.7,403.8 L407.2,403.8 L407.7,403.9 L408.2,404.0 L408.7,404.1 L409.2,404.1 L409.7,404.2 L410.2,404.3 L410.7,404.3 L411.2,404.4 L411.7,404.5 L412.2,404.5 L412.7,404.6 L413.2,404.7 L413.7,404.7 L414.2,404.8 L414.7,404.9 L414.7,405.1 L414.2,405.0 L413.7,405.0 L413.2,405.0 L412.7,405.0 L412.2,404.9 L411.7,404.9 L411.2,404.9 L410.7,404.8 L410.2,404.8 L409.7,404.8 L409.2,404.7 L408.7,404.7 L408.2,404.7 L407.7,404.6 L407.2,404.6 L406.7,404.6 L406.2,404.5 L405.7,404.5 L405.2,404.5 L404.7,404.5 L404.2,404.4 L403.7,404.4 L403.2,404.4 L402.7,404.3 L402.2,404.3 L401.7,404.3 L401.2,404.2 L400.7,404.2 L400.2,404.2 L399.7,404.1 L399.2,404.1 L398.7,404.1 L398.2,404.1 L397.7,404.0 L397.2,404.0 L396.7,404.0 L396.2,403.9 L395.7,403.9 L395.2,403.9 L394.7,403.9 L394.2,403.8 L393.7,403.8 L393.2,403.8 L392.7,403.7 L392.2,403.7 L391.7,403.7 L391.2,403.7 L390.7,403.6 L390.2,403.6 L389.7,403.6 L389.2,403.6 L388.7,403.5 L388.2,403.5 L387.7,403.5 L387.2,403.5 L386.7,403.4 L386.2,403.4 L385.7,403.4 L385.2,403.4 L384.7,403.3 L384.2,403.3 L383.7,403.3 L383.2,403.3 L382.7,403.2 L382.2,403.2 L381.7,403.2 L381.2,403.2 L380.7,403.1 L380.2,403.1 L379.7,403.1 L379.2,403.1 L378.7,403.0 L378.2,403.0 L377.7,403.0 L377.2,403.0 L376.7,402.9 L376.2,402.9 L375.7,402.9 L375.2,402.9 L374.7,402.8 L374.2,402.8 L373.7,402.8 L373.2,402.8 L372.7,402.8 L372.2,402.7 L371.7,402.7 L371.2,402.7 L370.7,402.7 L370.2,402.6 L369.7,402.6 L369.2,402.6 L368.7,402.6 L368.2,402.5 L367.7,402.5 L367.2,402.5 L366.7,402.5 L366.2,402.5 L365.7,402.4 L365.2,402.4 L364.7,402.4 L364.2,402.4 L363.7,402.3 L363.2,402.3 L362.7,402.3 L362.2,402.3 L361.7,402.3 L361.2,402.2 L360.7,402.2 L360.2,402.2 L359.7,402.2 L359.2,402.1 L358.7,402.1 L358.2,402.1 L357.7,402.1 L357.2,402.1 L356.7,402.0 L356.2,402.0 L355.7,402.0 L355.2,402.0 L354.7,402.0 L354.2,401.9 L353.7,401.9 L353.2,401.9 L352.7,401.9 L352.2,401.8 L351.7,401.8 L351.2,401.8 L350.7,401.8 L350.2,401.8 L349.7,401.7 L349.2,401.7 L348.7,401.7 L348.2,401.7 L347.7,401.7 L347.2,401.6 L346.7,401.6 L346.2,401.6 L345.7,401.6 L345.2,401.5 L344.7,401.5 L344.2,401.5 L343.7,401.5 L343.2,401.5 L342.7,401.4 L342.2,401.4 L341.7,401.4 L341.2,401.4 L340.7,401.4 L340.2,401.3 L339.7,401.3 L339.2,401.3 L338.7,401.3 L338.2,401.2 L337.7,401.2 L337.2,401.2 L336.7,401.2 L336.2,401.2 L335.7,401.1 L335.2,401.1 L334.7,401.1 L334.2,401.1 L333.7,401.1 L333.2,401.0 L332.7,401.0 L332.2,401.0 L331.7,401.0 L331.2,401.0 L330.7,400.9 L330.2,400.9 L329.7,400.9 L329.2,400.9 L328.7,400.8 L328.2,400.8 L327.7,400.8 L327.2,400.8 L326.7,400.8 L326.2,400.7 L325.7,400.7 L325.2,400.7 L324.7,400.7 L324.2,400.7 L323.7,400.6 L323.2,400.6 L322.7,400.6 L322.2,400.6 L321.7,400.5 L321.2,400.5 L320.7,400.5 L320.2,400.5 L319.7,400.5 L319.2,400.4 L318.7,400.4 L318.2,400.4 L317.7,400.4 L317.2,400.4 L316.7,400.3 L316.2,400.3 L315.7,400.3 L315.2,400.3 L314.7,400.3 L314.2,400.2 L313.7,400.2 L313.2,400.2 L312.7,400.2 L312.2,400.2 L311.7,400.1 L311.2,400.1 L310.7,400.1 L310.2,400.1 L309.7,400.1 L309.2,400.0 L308.7,400.0 L308.2,400.0 L307.7,400.0 L307.2,400.0 L306.7,399.9 L306.2,399.9 L305.7,399.9 L305.2,399.9 L304.7,399.8 L304.2,399.8 L303.7,399.8 L303.2,399.8 L302.7,399.8 L302.2,399.7 L301.7,399.7 L301.2,399.7 L300.7,399.7 L300.2,399.7 L299.7,399.6 L299.2,399.6 L298.7,399.6 L298.2,399.6 L297.7,399.6 L297.2,399.5 L296.7,399.5 L296.2,399.5 L295.7,399.5 Z" fill="#ffff00"/>
<path d="M295.7,402.4 L296.2,402.2 L296.7,401.5 L297.2,401.4 L297.7,400.3 L298.2,400.4 L298.7,400.7 L299.2,400.8 L299.7,401.2 L300.2,401.8 L300.7,401.7 L301.2,401.3 L301.7,400.7 L302.2,400.7 L302.7,401.1 L303.2,401.7 L303.7,401.7 L304.2,402.2 L304.7,402.7 L305.2,402.8 L305.7,401.7 L306.2,401.2 L306.7,400.8 L307.2,400.6 L307.7,400.6 L308.2,399.4 L308.7,400.8 L309.2,400.7 L309.7,399.7 L310.2,398.9 L310.7,398.7 L311.2,399.9 L311.7,400.2 L312.2,400.1 L312.7,400.0 L313.2,401.3 L313.7,400.3 L314.2,399.9 L314.7,400.2 L315.2,401.2 L315.7,401.3 L316.2,400.9 L316.7,401.1 L317.2,400.7 L317.7,400.7 L318.2,400.8 L318.7,400.3 L319.2,399.1 L319.7,400.1 L320.2,400.3 L320.7,400.4 L321.2,400.5 L321.7,400.9 L322.2,401.4 L322.7,400.6 L323.2,399.8 L323.7,400.4 L324.2,401.1 L324.7,400.4 L325.2,399.8 L325.7,399.5 L326.2,399.9 L326.7,399.5 L327.2,397.5 L327.7,396.9 L328.2,397.2 L328.7,398.4 L329.2,398.5 L329.7,399.2 L330.2,399.1 L330.7,398.0 L331.2,398.9 L331.7,397.6 L332.2,397.6 L332.7,397.3 L333.2,397.2 L333.7,397.8 L334.2,397.0 L334.7,396.6 L335.2,397.3 L335.7,398.7 L336.2,398.4 L336.7,397.4 L337.2,397.1 L337.7,397.3 L338.2,397.1 L338.7,397.1 L339.2,396.3 L339.7,395.7 L340.2,395.3 L340.7,394.8 L341.2,394.7 L341.7,394.3 L342.2,393.5 L342.7,393.6 L343.2,393.3 L343.7,392.9 L344.2,392.3 L344.7,390.6 L345.2,389.7 L345.7,389.2 L346.2,387.9 L346.7,387.7 L347.2,386.9 L347.7,385.9 L348.2,385.3 L348.7,383.9 L349.2,383.1 L349.7,381.9 L350.2,380.3 L350.7,378.6 L351.2,376.3 L351.7,373.9 L352.2,371.9 L352.7,370.3 L353.2,368.6 L353.7,365.5 L354.2,363.3 L354.7,362.1 L355.2,360.1 L355.7,357.7 L356.2,357.2 L356.7,356.4 L357.2,355.3 L357.7,354.7 L358.2,354.1 L358.7,353.2 L359.2,352.5 L359.7,352.5 L360.2,351.1 L360.7,350.4 L361.2,348.9 L361.7,348.5 L362.2,348.2 L362.7,347.3 L363.2,346.2 L363.7,345.6 L364.2,346.7 L364.7,346.6 L365.2,345.8 L365.7,345.7 L366.2,345.5 L366.7,344.9 L367.2,344.6 L367.7,344.0 L368.2,344.3 L368.7,344.5 L369.2,345.2 L369.7,346.3 L370.2,347.3 L370.7,347.3 L371.2,348.2 L371.7,350.2 L372.2,350.7 L372.7,350.2 L373.2,350.8 L373.7,351.0 L374.2,349.6 L374.7,348.2 L375.2,347.4 L375.7,346.2 L376.2,345.7 L376.7,342.3 L377.2,339.4 L377.7,336.7 L378.2,333.4 L378.7,330.1 L379.2,324.8 L379.7,320.1 L380.2,314.7 L380.7,309.0 L381.2,302.4 L381.7,296.8 L382.2,290.7 L382.7,284.2 L383.2,277.4 L383.7,270.2 L384.2,264.1 L384.7,257.5 L385.2,251.1 L385.7,245.6 L386.2,241.8 L386.7,238.8 L387.2,235.7 L387.7,234.2 L388.2,233.7 L388.7,234.5 L389.2,235.6 L389.7,236.6 L390.2,239.8 L390.7,243.6 L391.2,247.1 L391.7,250.7 L392.2,255.2 L392.7,260.9 L393.2,266.5 L393.7,272.2 L394.2,277.5 L394.7,283.0 L395.2,288.6 L395.7,293.7 L396.2,298.8 L396.7,303.6 L397.2,307.6 L397.7,311.8 L398.2,315.3 L398.7,319.0 L399.2,323.2 L399.7,327.1 L400.2,331.0 L400.7,333.9 L401.2,336.9 L401.7,339.3 L402.2,341.9 L402.7,343.3 L403.2,345.0 L403.7,347.6 L404.2,349.3 L404.7,351.3 L405.2,352.8 L405.7,354.5 L406.2,355.3 L406.7,355.8 L407.2,357.9 L407.7,359.4 L408.2,360.5 L408.7,362.4 L409.2,364.1 L409.7,365.1 L410.2,366.6 L410.7,368.6 L411.2,370.2 L411.7,371.8 L412.2,373.6 L412.7,375.1 L413.2,377.0 L413.7,379.0 L414.2,380.8 L414.7,382.8 L415.2,383.6 L415.7,384.6 L416.2,385.8 L416.7,386.9 L417.2,388.2 L417.7,389.4 L418.2,390.8 L418.7,392.6 L419.2,393.7 L419.7,395.4 L420.2,396.5 L420.7,397.9 L421.2,399.4 L421.7,400.2 L422.2,402.3 L422.7,403.3 L423.2,404.1 L423.7,404.7 L424.2,404.0 L424.7,403.9 L425.2,405.3 L425.7,406.0 L426.2,405.9 L426.7,404.8 L427.2,405.6 L427.7,405.5 L428.2,404.7 L428.7,405.9 L429.2,405.9 L429.7,405.8 L430.2,406.1 L430.7,407.8 L431.2,408.9 L431.7,408.4 L432.2,408.8 L432.7,409.4 L433.2,409.3 L433.7,408.3 L434.2,408.2 L434.7,408.3 L435.2,407.3 L435.7,408.1 L436.2,408.3 L436.7,408.5 L437.2,408.3 L437.7,407.9 L438.2,408.8 L438.7,409.0 L439.2,409.9 L439.7,409.7 L440.2,409.5 L440.7,410.0 L441.2,410.5 L441.7,409.8 L442.2,408.5 L442.7,408.6 L443.2,408.6 L443.7,408.3 L444.2,408.5 L444.7,409.4 L445.2,409.6 L445.7,409.6 L446.2,408.9 L446.7,408.9 L447.2,409.5 L447.7,409.1 L448.2,409.4 L448.7,408.9 L449.2,408.5 L449.7,409.4 L450.2,408.4 L450.7,408.1 L451.2,407.8 L451.7,407.1 L452.2,407.9 L452.7,407.0 L453.2,407.3 L453.7,408.4 L454.2,408.7 L454.7,410.0 L455.2,409.1 L455.7,409.1 L456.2,407.5 L456.7,407.4 L457.2,408.8 L457.7,408.7 L458.2,408.5" fill="none" stroke="#000" stroke-width="1.4" stroke-linejoin="round"/>
<path d="M295.7,399.5 L296.2,399.5 L296.7,399.5 L297.2,399.5 L297.7,399.6 L298.2,399.6 L298.7,399.6 L299.2,399.6 L299.7,399.6 L300.2,399.7 L300.7,399.7 L301.2,399.7 L301.7,399.7 L302.2,399.7 L302.7,399.8 L303.2,399.8 L303.7,399.8 L304.2,399.8 L304.7,399.8 L305.2,399.9 L305.7,399.9 L306.2,399.9 L306.7,399.9 L307.2,400.0 L307.7,400.0 L308.2,400.0 L308.7,400.0 L309.2,400.0 L309.7,400.1 L310.2,400.1 L310.7,400.1 L311.2,400.1 L311.7,400.1 L312.2,400.2 L312.7,400.2 L313.2,400.2 L313.7,400.2 L314.2,400.2 L314.7,400.3 L315.2,400.3 L315.7,400.3 L316.2,400.3 L316.7,400.3 L317.2,400.4 L317.7,400.4 L318.2,400.4 L318.7,400.4 L319.2,400.4 L319.7,400.5 L320.2,400.5 L320.7,400.5 L321.2,400.5 L321.7,400.5 L322.2,400.6 L322.7,400.6 L323.2,400.6 L323.7,400.6 L324.2,400.7 L324.7,400.7 L325.2,400.7 L325.7,400.7 L326.2,400.7 L326.7,400.8 L327.2,400.8 L327.7,400.8 L328.2,400.8 L328.7,400.8 L329.2,400.9 L329.7,400.9 L330.2,400.9 L330.7,400.9 L331.2,401.0 L331.7,401.0 L332.2,401.0 L332.7,401.0 L333.2,401.0 L333.7,401.1 L334.2,401.1 L334.7,401.1 L335.2,401.1 L335.7,401.1 L336.2,401.2 L336.7,401.2 L337.2,401.2 L337.7,401.2 L338.2,401.2 L338.7,401.3 L339.2,401.3 L339.7,401.3 L340.2,401.3 L340.7,401.4 L341.2,401.4 L341.7,401.4 L342.2,401.4 L342.7,401.4 L343.2,401.5 L343.7,401.5 L344.2,401.5 L344.7,401.5 L345.2,401.5 L345.7,401.6 L346.2,401.6 L346.7,401.6 L347.2,401.6 L347.7,401.7 L348.2,401.7 L348.7,401.7 L349.2,401.7 L349.7,401.7 L350.2,401.8 L350.7,401.8 L351.2,401.8 L351.7,401.8 L352.2,401.8 L352.7,401.9 L353.2,401.9 L353.7,401.9 L354.2,401.9 L354.7,402.0 L355.2,402.0 L355.7,402.0 L356.2,402.0 L356.7,402.0 L357.2,402.1 L357.7,402.1 L358.2,402.1 L358.7,402.1 L359.2,402.1 L359.7,402.2 L360.2,402.2 L360.7,402.2 L361.2,402.2 L361.7,402.3 L362.2,402.3 L362.7,402.3 L363.2,402.3 L363.7,402.3 L364.2,402.4 L364.7,402.4 L365.2,402.4 L365.7,402.4 L366.2,402.5 L366.7,402.5 L367.2,402.5 L367.7,402.5 L368.2,402.5 L368.7,402.6 L369.2,402.6 L369.7,402.6 L370.2,402.6 L370.7,402.7 L371.2,402.7 L371.7,402.7 L372.2,402.7 L372.7,402.8 L373.2,402.8 L373.7,402.8 L374.2,402.8 L374.7,402.8 L375.2,402.9 L375.7,402.9 L376.2,402.9 L376.7,402.9 L377.2,403.0 L377.7,403.0 L378.2,403.0 L378.7,403.0 L379.2,403.1 L379.7,403.1 L380.2,403.1 L380.7,403.1 L381.2,403.2 L381.7,403.2 L382.2,403.2 L382.7,403.2 L383.2,403.3 L383.7,403.3 L384.2,403.3 L384.7,403.3 L385.2,403.4 L385.7,403.4 L386.2,403.4 L386.7,403.4 L387.2,403.5 L387.7,403.5 L388.2,403.5 L388.7,403.5 L389.2,403.6 L389.7,403.6 L390.2,403.6 L390.7,403.6 L391.2,403.7 L391.7,403.7 L392.2,403.7 L392.7,403.7 L393.2,403.8 L393.7,403.8 L394.2,403.8 L394.7,403.9 L395.2,403.9 L395.7,403.9 L396.2,403.9 L396.7,404.0 L397.2,404.0 L397.7,404.0 L398.2,404.1 L398.7,404.1 L399.2,404.1 L399.7,404.1 L400.2,404.2 L400.7,404.2 L401.2,404.2 L401.7,404.3 L402.2,404.3 L402.7,404.3 L403.2,404.4 L403.7,404.4 L404.2,404.4 L404.7,404.5 L405.2,404.5 L405.7,404.5 L406.2,404.5 L406.7,404.6 L407.2,404.6 L407.7,404.6 L408.2,404.7 L408.7,404.7 L409.2,404.7 L409.7,404.8 L410.2,404.8 L410.7,404.8 L411.2,404.9 L411.7,404.9 L412.2,404.9 L412.7,405.0 L413.2,405.0 L413.7,405.0 L414.2,405.0 L414.7,405.1 L415.2,405.1 L415.7,405.1 L416.2,405.2 L416.7,405.2 L417.2,405.2 L417.7,405.3 L418.2,405.3 L418.7,405.3 L419.2,405.4 L419.7,405.4 L420.2,405.4 L420.7,405.5 L421.2,405.5 L421.7,405.5 L422.2,405.5 L422.7,405.6 L423.2,405.6 L423.7,405.6 L424.2,405.7 L424.7,405.7 L425.2,405.7 L425.7,405.8 L426.2,405.8 L426.7,405.8 L427.2,405.8 L427.7,405.9 L428.2,405.9 L428.7,405.9 L429.2,406.0 L429.7,406.0 L430.2,406.0 L430.7,406.0 L431.2,406.1 L431.7,406.1 L432.2,406.1 L432.7,406.1 L433.2,406.2 L433.7,406.2 L434.2,406.2 L434.7,406.3 L435.2,406.3 L435.7,406.3 L436.2,406.3 L436.7,406.4 L437.2,406.4 L437.7,406.4 L438.2,406.4 L438.7,406.5 L439.2,406.5 L439.7,406.5 L440.2,406.6 L440.7,406.6 L441.2,406.6 L441.7,406.6 L442.2,406.7 L442.7,406.7 L443.2,406.7 L443.7,406.7 L444.2,406.8 L444.7,406.8 L445.2,406.8 L445.7,406.8 L446.2,406.9 L446.7,406.9 L447.2,406.9 L447.7,406.9 L448.2,407.0 L448.7,407.0 L449.2,407.0 L449.7,407.0 L450.2,407.1 L450.7,407.1 L451.2,407.1 L451.7,407.1 L452.2,407.2 L452.7,407.2 L453.2,407.2 L453.7,407.2 L454.2,407.3 L454.7,407.3 L455.2,407.3 L455.7,407.3 L456.2,407.4 L456.7,407.4 L457.2,407.4 L457.7,407.4 L458.2,407.5" fill="none" stroke="#ff00ff" stroke-width="1.3"/>
<path d="M295.7,398.2 L296.2,398.2 L296.7,398.2 L297.2,398.2 L297.7,398.2 L298.2,398.2 L298.7,398.2 L299.2,398.2 L299.7,398.2 L300.2,398.2 L300.7,398.2 L301.2,398.2 L301.7,398.2 L302.2,398.2 L302.7,398.2 L303.2,398.2 L303.7,398.2 L304.2,398.2 L304.7,398.2 L305.2,398.2 L305.7,398.1 L306.2,398.1 L306.7,398.1 L307.2,398.1 L307.7,398.1 L308.2,398.1 L308.7,398.1 L309.2,398.1 L309.7,398.1 L310.2,398.1 L310.7,398.1 L311.2,398.1 L311.7,398.1 L312.2,398.1 L312.7,398.1 L313.2,398.1 L313.7,398.1 L314.2,398.1 L314.7,398.1 L315.2,398.1 L315.7,398.1 L316.2,398.1 L316.7,398.1 L317.2,398.1 L317.7,398.1 L318.2,398.1 L318.7,398.1 L319.2,398.1 L319.7,398.1 L320.2,398.1 L320.7,398.1 L321.2,398.1 L321.7,398.1 L322.2,398.1 L322.7,398.1 L323.2,398.0 L323.7,398.0 L324.2,398.0 L324.7,398.0 L325.2,398.0 L325.7,398.0 L326.2,398.0 L326.7,398.0 L327.2,398.0 L327.7,398.0 L328.2,398.0 L328.7,398.0 L329.2,398.0 L329.7,398.0 L330.2,398.0 L330.7,398.0 L331.2,398.0 L331.7,397.9 L332.2,397.9 L332.7,397.9 L333.2,397.9 L333.7,397.9 L334.2,397.9 L334.7,397.9 L335.2,397.9 L335.7,397.9 L336.2,397.9 L336.7,397.8 L337.2,397.8 L337.7,397.8 L338.2,397.8 L338.7,397.8 L339.2,397.8 L339.7,397.8 L340.2,397.7 L340.7,397.7 L341.2,397.7 L341.7,397.7 L342.2,397.7 L342.7,397.6 L343.2,397.6 L343.7,397.6 L344.2,397.5 L344.7,397.5 L345.2,397.5 L345.7,397.4 L346.2,397.4 L346.7,397.4 L347.2,397.3 L347.7,397.3 L348.2,397.2 L348.7,397.1 L349.2,397.1 L349.7,397.0 L350.2,396.9 L350.7,396.8 L351.2,396.7 L351.7,396.6 L352.2,396.5 L352.7,396.4 L353.2,396.2 L353.7,396.0 L354.2,395.9 L354.7,395.6 L355.2,395.4 L355.7,395.1 L356.2,394.8 L356.7,394.4 L357.2,393.9 L357.7,393.4 L358.2,392.8 L358.7,392.1 L359.2,391.2 L359.7,390.3 L360.2,389.2 L360.7,387.9 L361.2,386.4 L361.7,384.7 L362.2,382.9 L362.7,380.8 L363.2,378.7 L363.7,376.4 L364.2,374.2 L364.7,372.1 L365.2,370.4 L365.7,369.1 L366.2,368.5 L366.7,368.7 L367.2,369.6 L367.7,371.1 L368.2,373.0 L368.7,375.2 L369.2,377.5 L369.7,379.7 L370.2,381.9 L370.7,383.9 L371.2,385.7 L371.7,387.4 L372.2,388.9 L372.7,390.2 L373.2,391.4 L373.7,392.4 L374.2,393.2 L374.7,394.0 L375.2,394.7 L375.7,395.2 L376.2,395.8 L376.7,396.2 L377.2,396.6 L377.7,396.9 L378.2,397.3 L378.7,397.5 L379.2,397.8 L379.7,398.0 L380.2,398.3 L380.7,398.5 L381.2,398.7 L381.7,398.8 L382.2,399.0 L382.7,399.2 L383.2,399.3 L383.7,399.5 L384.2,399.6 L384.7,399.7 L385.2,399.9 L385.7,400.0 L386.2,400.1 L386.7,400.2 L387.2,400.4 L387.7,400.5 L388.2,400.6 L388.7,400.7 L389.2,400.8 L389.7,400.9 L390.2,401.0 L390.7,401.1 L391.2,401.2 L391.7,401.3 L392.2,401.4 L392.7,401.5 L393.2,401.6 L393.7,401.7 L394.2,401.8 L394.7,401.8 L395.2,401.9 L395.7,402.0 L396.2,402.1 L396.7,402.2 L397.2,402.3 L397.7,402.4 L398.2,402.4 L398.7,402.5 L399.2,402.6 L399.7,402.7 L400.2,402.8 L400.7,402.9 L401.2,402.9 L401.7,403.0 L402.2,403.1 L402.7,403.2 L403.2,403.3 L403.7,403.3 L404.2,403.4 L404.7,403.5 L405.2,403.6 L405.7,403.6 L406.2,403.7 L406.7,403.8 L407.2,403.8 L407.7,403.9 L408.2,404.0 L408.7,404.1 L409.2,404.1 L409.7,404.2 L410.2,404.3 L410.7,404.3 L411.2,404.4 L411.7,404.5 L412.2,404.5 L412.7,404.6 L413.2,404.7 L413.7,404.7 L414.2,404.8 L414.7,404.9 L415.2,404.9 L415.7,405.0 L416.2,405.0 L416.7,405.1 L417.2,405.1 L417.7,405.2 L418.2,405.3 L418.7,405.3 L419.2,405.4 L419.7,405.4 L420.2,405.5 L420.7,405.5 L421.2,405.6 L421.7,405.6 L422.2,405.7 L422.7,405.7 L423.2,405.8 L423.7,405.8 L424.2,405.9 L424.7,405.9 L425.2,406.0 L425.7,406.0 L426.2,406.0 L426.7,406.1 L427.2,406.1 L427.7,406.2 L428.2,406.2 L428.7,406.2 L429.2,406.3 L429.7,406.3 L430.2,406.4 L430.7,406.4 L431.2,406.4 L431.7,406.5 L432.2,406.5 L432.7,406.5 L433.2,406.6 L433.7,406.6 L434.2,406.6 L434.7,406.6 L435.2,406.7 L435.7,406.7 L436.2,406.7 L436.7,406.8 L437.2,406.8 L437.7,406.8 L438.2,406.8 L438.7,406.9 L439.2,406.9 L439.7,406.9 L440.2,406.9 L440.7,406.9 L441.2,407.0 L441.7,407.0 L442.2,407.0 L442.7,407.0 L443.2,407.0 L443.7,407.1 L444.2,407.1 L444.7,407.1 L445.2,407.1 L445.7,407.1 L446.2,407.1 L446.7,407.2 L447.2,407.2 L447.7,407.2 L448.2,407.2 L448.7,407.2 L449.2,407.2 L449.7,407.2 L450.2,407.2 L450.7,407.3 L451.2,407.3 L451.7,407.3 L452.2,407.3 L452.7,407.3 L453.2,407.3 L453.7,407.3 L454.2,407.3 L454.7,407.3 L455.2,407.3 L455.7,407.4 L456.2,407.4 L456.7,407.4 L457.2,407.4 L457.7,407.4 L458.2,407.4" fill="none" stroke="#ff00ff" stroke-width="1.3"/>
<path d="M295.7,397.9 L296.2,397.9 L296.7,397.9 L297.2,397.9 L297.7,397.9 L298.2,397.9 L298.7,397.9 L299.2,397.9 L299.7,397.9 L300.2,397.9 L300.7,397.9 L301.2,397.9 L301.7,397.9 L302.2,397.9 L302.7,397.9 L303.2,397.9 L303.7,397.9 L304.2,397.9 L304.7,397.9 L305.2,397.9 L305.7,397.9 L306.2,397.9 L306.7,397.9 L307.2,397.9 L307.7,397.8 L308.2,397.8 L308.7,397.8 L309.2,397.8 L309.7,397.8 L310.2,397.8 L310.7,397.8 L311.2,397.8 L311.7,397.8 L312.2,397.8 L312.7,397.8 L313.2,397.8 L313.7,397.8 L314.2,397.8 L314.7,397.8 L315.2,397.8 L315.7,397.8 L316.2,397.7 L316.7,397.7 L317.2,397.7 L317.7,397.7 L318.2,397.7 L318.7,397.7 L319.2,397.7 L319.7,397.7 L320.2,397.7 L320.7,397.7 L321.2,397.6 L321.7,397.6 L322.2,397.6 L322.7,397.6 L323.2,397.6 L323.7,397.6 L324.2,397.6 L324.7,397.6 L325.2,397.5 L325.7,397.5 L326.2,397.5 L326.7,397.5 L327.2,397.5 L327.7,397.5 L328.2,397.4 L328.7,397.4 L329.2,397.4 L329.7,397.4 L330.2,397.3 L330.7,397.3 L331.2,397.3 L331.7,397.3 L332.2,397.2 L332.7,397.2 L333.2,397.2 L333.7,397.1 L334.2,397.1 L334.7,397.0 L335.2,397.0 L335.7,396.9 L336.2,396.9 L336.7,396.8 L337.2,396.8 L337.7,396.7 L338.2,396.7 L338.7,396.6 L339.2,396.5 L339.7,396.4 L340.2,396.4 L340.7,396.3 L341.2,396.2 L341.7,396.1 L342.2,395.9 L342.7,395.8 L343.2,395.7 L343.7,395.5 L344.2,395.4 L344.7,395.2 L345.2,395.0 L345.7,394.7 L346.2,394.5 L346.7,394.2 L347.2,393.9 L347.7,393.6 L348.2,393.2 L348.7,392.8 L349.2,392.3 L349.7,391.7 L350.2,391.1 L350.7,390.4 L351.2,389.7 L351.7,388.8 L352.2,387.8 L352.7,386.7 L353.2,385.5 L353.7,384.2 L354.2,382.8 L354.7,381.3 L355.2,379.7 L355.7,378.2 L356.2,376.7 L356.7,375.5 L357.2,374.5 L357.7,373.9 L358.2,373.8 L358.7,374.3 L359.2,375.4 L359.7,376.9 L360.2,378.8 L360.7,380.7 L361.2,382.5 L361.7,384.3 L362.2,386.0 L362.7,387.4 L363.2,388.7 L363.7,389.9 L364.2,390.9 L364.7,391.8 L365.2,392.5 L365.7,393.2 L366.2,393.8 L366.7,394.3 L367.2,394.8 L367.7,395.2 L368.2,395.6 L368.7,395.9 L369.2,396.2 L369.7,396.5 L370.2,396.8 L370.7,397.0 L371.2,397.3 L371.7,397.5 L372.2,397.7 L372.7,397.9 L373.2,398.1 L373.7,398.3 L374.2,398.5 L374.7,398.6 L375.2,398.8 L375.7,399.0 L376.2,399.1 L376.7,399.3 L377.2,399.5 L377.7,399.6 L378.2,399.8 L378.7,399.9 L379.2,400.1 L379.7,400.2 L380.2,400.4 L380.7,400.6 L381.2,400.7 L381.7,400.9 L382.2,401.0 L382.7,401.2 L383.2,401.3 L383.7,401.5 L384.2,401.6 L384.7,401.8 L385.2,401.9 L385.7,402.1 L386.2,402.3 L386.7,402.4 L387.2,402.6 L387.7,402.7 L388.2,402.9 L388.7,403.0 L389.2,403.2 L389.7,403.3 L390.2,403.5 L390.7,403.6 L391.2,403.7 L391.7,403.9 L392.2,404.0 L392.7,404.2 L393.2,404.3 L393.7,404.4 L394.2,404.6 L394.7,404.7 L395.2,404.8 L395.7,405.0 L396.2,405.1 L396.7,405.2 L397.2,405.3 L397.7,405.4 L398.2,405.6 L398.7,405.7 L399.2,405.8 L399.7,405.9 L400.2,406.0 L400.7,406.1 L401.2,406.2 L401.7,406.3 L402.2,406.4 L402.7,406.5 L403.2,406.5 L403.7,406.6 L404.2,406.7 L404.7,406.8 L405.2,406.9 L405.7,406.9 L406.2,407.0 L406.7,407.1 L407.2,407.1 L407.7,407.2 L408.2,407.3 L408.7,407.3 L409.2,407.4 L409.7,407.4 L410.2,407.5 L410.7,407.5 L411.2,407.6 L411.7,407.6 L412.2,407.6 L412.7,407.7 L413.2,407.7 L413.7,407.7 L414.2,407.8 L414.7,407.8 L415.2,407.8 L415.7,407.9 L416.2,407.9 L416.7,407.9 L417.2,407.9 L417.7,408.0 L418.2,408.0 L418.7,408.0 L419.2,408.0 L419.7,408.0 L420.2,408.0 L420.7,408.1 L421.2,408.1 L421.7,408.1 L422.2,408.1 L422.7,408.1 L423.2,408.1 L423.7,408.1 L424.2,408.1 L424.7,408.1 L425.2,408.2 L425.7,408.2 L426.2,408.2 L426.7,408.2 L427.2,408.2 L427.7,408.2 L428.2,408.2 L428.7,408.2 L429.2,408.2 L429.7,408.2 L430.2,408.2 L430.7,408.2 L431.2,408.2 L431.7,408.2 L432.2,408.2 L432.7,408.2 L433.2,408.2 L433.7,408.2 L434.2,408.2 L434.7,408.2 L435.2,408.2 L435.7,408.2 L436.2,408.2 L436.7,408.2 L437.2,408.2 L437.7,408.2 L438.2,408.2 L438.7,408.2 L439.2,408.2 L439.7,408.2 L440.2,408.2 L440.7,408.2 L441.2,408.2 L441.7,408.3 L442.2,408.3 L442.7,408.3 L443.2,408.3 L443.7,408.3 L444.2,408.3 L444.7,408.3 L445.2,408.3 L445.7,408.3 L446.2,408.3 L446.7,408.3 L447.2,408.3 L447.7,408.3 L448.2,408.3 L448.7,408.3 L449.2,408.3 L449.7,408.3 L450.2,408.3 L450.7,408.3 L451.2,408.3 L451.7,408.3 L452.2,408.3 L452.7,408.3 L453.2,408.3 L453.7,408.3 L454.2,408.3 L454.7,408.3 L455.2,408.3 L455.7,408.3 L456.2,408.3 L456.7,408.3 L457.2,408.3 L457.7,408.3 L458.2,408.3" fill="none" stroke="#008800" stroke-width="1.3"/>
<path d="M295.7,398.4 L296.2,398.4 L296.7,398.4 L297.2,398.4 L297.7,398.4 L298.2,398.4 L298.7,398.4 L299.2,398.4 L299.7,398.4 L300.2,398.4 L300.7,398.4 L301.2,398.4 L301.7,398.4 L302.2,398.4 L302.7,398.4 L303.2,398.4 L303.7,398.4 L304.2,398.4 L304.7,398.4 L305.2,398.4 L305.7,398.4 L306.2,398.4 L306.7,398.4 L307.2,398.4 L307.7,398.4 L308.2,398.4 L308.7,398.4 L309.2,398.4 L309.7,398.4 L310.2,398.4 L310.7,398.4 L311.2,398.4 L311.7,398.4 L312.2,398.4 L312.7,398.4 L313.2,398.4 L313.7,398.4 L314.2,398.4 L314.7,398.4 L315.2,398.4 L315.7,398.4 L316.2,398.4 L316.7,398.4 L317.2,398.4 L317.7,398.4 L318.2,398.4 L318.7,398.4 L319.2,398.4 L319.7,398.5 L320.2,398.5 L320.7,398.5 L321.2,398.5 L321.7,398.5 L322.2,398.5 L322.7,398.5 L323.2,398.5 L323.7,398.5 L324.2,398.5 L324.7,398.5 L325.2,398.5 L325.7,398.5 L326.2,398.5 L326.7,398.5 L327.2,398.5 L327.7,398.5 L328.2,398.5 L328.7,398.5 L329.2,398.5 L329.7,398.5 L330.2,398.5 L330.7,398.5 L331.2,398.5 L331.7,398.5 L332.2,398.5 L332.7,398.5 L333.2,398.5 L333.7,398.5 L334.2,398.5 L334.7,398.5 L335.2,398.5 L335.7,398.5 L336.2,398.6 L336.7,398.6 L337.2,398.6 L337.7,398.6 L338.2,398.6 L338.7,398.6 L339.2,398.6 L339.7,398.6 L340.2,398.6 L340.7,398.6 L341.2,398.6 L341.7,398.6 L342.2,398.6 L342.7,398.6 L343.2,398.7 L343.7,398.7 L344.2,398.7 L344.7,398.7 L345.2,398.7 L345.7,398.7 L346.2,398.7 L346.7,398.7 L347.2,398.7 L347.7,398.8 L348.2,398.8 L348.7,398.8 L349.2,398.8 L349.7,398.8 L350.2,398.8 L350.7,398.8 L351.2,398.9 L351.7,398.9 L352.2,398.9 L352.7,398.9 L353.2,398.9 L353.7,399.0 L354.2,399.0 L354.7,399.0 L355.2,399.0 L355.7,399.0 L356.2,399.0 L356.7,399.1 L357.2,399.1 L357.7,399.1 L358.2,399.1 L358.7,399.2 L359.2,399.2 L359.7,399.2 L360.2,399.2 L360.7,399.3 L361.2,399.3 L361.7,399.3 L362.2,399.3 L362.7,399.4 L363.2,399.4 L363.7,399.4 L364.2,399.4 L364.7,399.5 L365.2,399.5 L365.7,399.5 L366.2,399.6 L366.7,399.6 L367.2,399.6 L367.7,399.7 L368.2,399.7 L368.7,399.7 L369.2,399.8 L369.7,399.8 L370.2,399.8 L370.7,399.9 L371.2,399.9 L371.7,399.9 L372.2,400.0 L372.7,400.0 L373.2,400.0 L373.7,400.1 L374.2,400.1 L374.7,400.1 L375.2,400.2 L375.7,400.2 L376.2,400.2 L376.7,400.3 L377.2,400.3 L377.7,400.3 L378.2,400.4 L378.7,400.4 L379.2,400.4 L379.7,400.5 L380.2,400.5 L380.7,400.5 L381.2,400.6 L381.7,400.6 L382.2,400.6 L382.7,400.7 L383.2,400.7 L383.7,400.7 L384.2,400.7 L384.7,400.7 L385.2,400.8 L385.7,400.8 L386.2,400.8 L386.7,400.8 L387.2,400.8 L387.7,400.8 L388.2,400.8 L388.7,400.8 L389.2,400.7 L389.7,400.7 L390.2,400.6 L390.7,400.6 L391.2,400.5 L391.7,400.4 L392.2,400.3 L392.7,400.1 L393.2,399.9 L393.7,399.7 L394.2,399.4 L394.7,399.1 L395.2,398.7 L395.7,398.3 L396.2,397.8 L396.7,397.2 L397.2,396.6 L397.7,395.8 L398.2,395.0 L398.7,394.2 L399.2,393.2 L399.7,392.2 L400.2,391.1 L400.7,390.0 L401.2,388.8 L401.7,387.7 L402.2,386.6 L402.7,385.6 L403.2,384.7 L403.7,384.0 L404.2,383.5 L404.7,383.3 L405.2,383.3 L405.7,383.6 L406.2,384.1 L406.7,384.7 L407.2,385.5 L407.7,386.4 L408.2,387.3 L408.7,388.4 L409.2,389.4 L409.7,390.5 L410.2,391.6 L410.7,392.6 L411.2,393.7 L411.7,394.6 L412.2,395.6 L412.7,396.4 L413.2,397.3 L413.7,398.0 L414.2,398.7 L414.7,399.4 L415.2,400.0 L415.7,400.6 L416.2,401.1 L416.7,401.5 L417.2,401.9 L417.7,402.3 L418.2,402.6 L418.7,402.9 L419.2,403.2 L419.7,403.5 L420.2,403.7 L420.7,403.9 L421.2,404.1 L421.7,404.3 L422.2,404.4 L422.7,404.6 L423.2,404.7 L423.7,404.8 L424.2,405.0 L424.7,405.1 L425.2,405.2 L425.7,405.3 L426.2,405.4 L426.7,405.5 L427.2,405.5 L427.7,405.6 L428.2,405.7 L428.7,405.8 L429.2,405.8 L429.7,405.9 L430.2,406.0 L430.7,406.0 L431.2,406.1 L431.7,406.2 L432.2,406.2 L432.7,406.3 L433.2,406.3 L433.7,406.4 L434.2,406.4 L434.7,406.5 L435.2,406.5 L435.7,406.6 L436.2,406.6 L436.7,406.7 L437.2,406.7 L437.7,406.7 L438.2,406.8 L438.7,406.8 L439.2,406.9 L439.7,406.9 L440.2,406.9 L440.7,407.0 L441.2,407.0 L441.7,407.0 L442.2,407.1 L442.7,407.1 L443.2,407.1 L443.7,407.1 L444.2,407.2 L444.7,407.2 L445.2,407.2 L445.7,407.2 L446.2,407.3 L446.7,407.3 L447.2,407.3 L447.7,407.3 L448.2,407.4 L448.7,407.4 L449.2,407.4 L449.7,407.4 L450.2,407.4 L450.7,407.4 L451.2,407.5 L451.7,407.5 L452.2,407.5 L452.7,407.5 L453.2,407.5 L453.7,407.5 L454.2,407.6 L454.7,407.6 L455.2,407.6 L455.7,407.6 L456.2,407.6 L456.7,407.6 L457.2,407.6 L457.7,407.6 L458.2,407.7" fill="none" stroke="#9900ff" stroke-width="1.3"/>
<path d="M295.7,396.3 L296.2,396.2 L296.7,396.2 L297.2,396.2 L297.7,396.2 L298.2,396.2 L298.7,396.2 L299.2,396.2 L299.7,396.1 L300.2,396.1 L300.7,396.1 L301.2,396.1 L301.7,396.1 L302.2,396.1 L302.7,396.0 L303.2,396.0 L303.7,396.0 L304.2,396.0 L304.7,396.0 L305.2,395.9 L305.7,395.9 L306.2,395.9 L306.7,395.9 L307.2,395.9 L307.7,395.8 L308.2,395.8 L308.7,395.8 L309.2,395.8 L309.7,395.8 L310.2,395.7 L310.7,395.7 L311.2,395.7 L311.7,395.6 L312.2,395.6 L312.7,395.6 L313.2,395.6 L313.7,395.5 L314.2,395.5 L314.7,395.5 L315.2,395.4 L315.7,395.4 L316.2,395.4 L316.7,395.3 L317.2,395.3 L317.7,395.3 L318.2,395.2 L318.7,395.2 L319.2,395.2 L319.7,395.1 L320.2,395.1 L320.7,395.0 L321.2,395.0 L321.7,394.9 L322.2,394.9 L322.7,394.9 L323.2,394.8 L323.7,394.8 L324.2,394.7 L324.7,394.6 L325.2,394.6 L325.7,394.5 L326.2,394.5 L326.7,394.4 L327.2,394.4 L327.7,394.3 L328.2,394.2 L328.7,394.1 L329.2,394.1 L329.7,394.0 L330.2,393.9 L330.7,393.8 L331.2,393.8 L331.7,393.7 L332.2,393.6 L332.7,393.5 L333.2,393.4 L333.7,393.3 L334.2,393.2 L334.7,393.0 L335.2,392.9 L335.7,392.8 L336.2,392.7 L336.7,392.5 L337.2,392.4 L337.7,392.2 L338.2,392.1 L338.7,391.9 L339.2,391.7 L339.7,391.5 L340.2,391.3 L340.7,391.1 L341.2,390.9 L341.7,390.6 L342.2,390.4 L342.7,390.1 L343.2,389.8 L343.7,389.5 L344.2,389.1 L344.7,388.7 L345.2,388.3 L345.7,387.9 L346.2,387.4 L346.7,386.9 L347.2,386.3 L347.7,385.6 L348.2,384.9 L348.7,384.1 L349.2,383.2 L349.7,382.3 L350.2,381.2 L350.7,380.1 L351.2,378.8 L351.7,377.4 L352.2,375.8 L352.7,374.1 L353.2,372.3 L353.7,370.3 L354.2,368.3 L354.7,366.2 L355.2,364.1 L355.7,362.1 L356.2,360.2 L356.7,358.5 L357.2,357.2 L357.7,356.1 L358.2,355.2 L358.7,354.3 L359.2,353.6 L359.7,352.9 L360.2,352.3 L360.7,351.7 L361.2,351.1 L361.7,350.5 L362.2,349.9 L362.7,349.3 L363.2,348.7 L363.7,348.1 L364.2,347.6 L364.7,347.1 L365.2,346.7 L365.7,346.4 L366.2,346.2 L366.7,346.1 L367.2,346.1 L367.7,346.3 L368.2,346.7 L368.7,347.2 L369.2,347.8 L369.7,348.4 L370.2,349.1 L370.7,349.7 L371.2,350.3 L371.7,350.8 L372.2,351.2 L372.7,351.4 L373.2,351.3 L373.7,351.1 L374.2,350.6 L374.7,349.7 L375.2,348.6 L375.7,347.1 L376.2,345.2 L376.7,342.9 L377.2,340.2 L377.7,337.1 L378.2,333.6 L378.7,329.6 L379.2,325.1 L379.7,320.3 L380.2,315.0 L380.7,309.3 L381.2,303.4 L381.7,297.1 L382.2,290.5 L382.7,283.9 L383.2,277.1 L383.7,270.4 L384.2,263.9 L384.7,257.6 L385.2,251.7 L385.7,246.4 L386.2,241.8 L386.7,238.1 L387.2,235.4 L387.7,233.8 L388.2,233.3 L388.7,233.8 L389.2,235.1 L389.7,237.2 L390.2,239.9 L390.7,243.3 L391.2,247.3 L391.7,251.7 L392.2,256.5 L392.7,261.6 L393.2,266.8 L393.7,272.2 L394.2,277.7 L394.7,283.1 L395.2,288.5 L395.7,293.8 L396.2,298.9 L396.7,303.9 L397.2,308.6 L397.7,313.2 L398.2,317.4 L398.7,321.5 L399.2,325.3 L399.7,328.8 L400.2,332.1 L400.7,335.1 L401.2,337.9 L401.7,340.5 L402.2,342.9 L402.7,345.1 L403.2,347.2 L403.7,349.1 L404.2,350.9 L404.7,352.6 L405.2,354.2 L405.7,355.7 L406.2,357.2 L406.7,358.7 L407.2,360.4 L407.7,362.0 L408.2,363.7 L408.7,365.4 L409.2,367.2 L409.7,369.0 L410.2,370.7 L410.7,372.5 L411.2,374.2 L411.7,375.9 L412.2,377.6 L412.7,379.2 L413.2,380.7 L413.7,382.2 L414.2,383.6 L414.7,384.9 L415.2,386.2 L415.7,387.4 L416.2,388.5 L416.7,389.5 L417.2,390.5 L417.7,391.3 L418.2,392.2 L418.7,392.9 L419.2,393.6 L419.7,394.3 L420.2,394.9 L420.7,395.4 L421.2,395.9 L421.7,396.4 L422.2,396.9 L422.7,397.3 L423.2,397.6 L423.7,398.0 L424.2,398.3 L424.7,398.7 L425.2,399.0 L425.7,399.2 L426.2,399.5 L426.7,399.8 L427.2,400.0 L427.7,400.2 L428.2,400.5 L428.7,400.7 L429.2,400.9 L429.7,401.1 L430.2,401.2 L430.7,401.4 L431.2,401.6 L431.7,401.8 L432.2,401.9 L432.7,402.1 L433.2,402.2 L433.7,402.3 L434.2,402.5 L434.7,402.6 L435.2,402.7 L435.7,402.8 L436.2,403.0 L436.7,403.1 L437.2,403.2 L437.7,403.3 L438.2,403.4 L438.7,403.5 L439.2,403.6 L439.7,403.6 L440.2,403.7 L440.7,403.8 L441.2,403.9 L441.7,404.0 L442.2,404.0 L442.7,404.1 L443.2,404.2 L443.7,404.2 L444.2,404.3 L444.7,404.3 L445.2,404.4 L445.7,404.4 L446.2,404.5 L446.7,404.5 L447.2,404.6 L447.7,404.6 L448.2,404.7 L448.7,404.7 L449.2,404.8 L449.7,404.8 L450.2,404.8 L450.7,404.9 L451.2,404.9 L451.7,405.0 L452.2,405.0 L452.7,405.0 L453.2,405.1 L453.7,405.1 L454.2,405.1 L454.7,405.1 L455.2,405.2 L455.7,405.2 L456.2,405.2 L456.7,405.3 L457.2,405.3 L457.7,405.3 L458.2,405.3" fill="none" stroke="#ff0000" stroke-width="1.5"/>
<path d="M295.7,396.6 L296.2,396.6 L296.7,396.6 L297.2,396.6 L297.7,396.6 L298.2,396.6 L298.7,396.6 L299.2,396.5 L299.7,396.5 L300.2,396.5 L300.7,396.5 L301.2,396.5 L301.7,396.5 L302.2,396.5 L302.7,396.5 L303.2,396.5 L303.7,396.5 L304.2,396.4 L304.7,396.4 L305.2,396.4 L305.7,396.4 L306.2,396.4 L306.7,396.4 L307.2,396.4 L307.7,396.4 L308.2,396.3 L308.7,396.3 L309.2,396.3 L309.7,396.3 L310.2,396.3 L310.7,396.3 L311.2,396.3 L311.7,396.3 L312.2,396.2 L312.7,396.2 L313.2,396.2 L313.7,396.2 L314.2,396.2 L314.7,396.2 L315.2,396.1 L315.7,396.1 L316.2,396.1 L316.7,396.1 L317.2,396.1 L317.7,396.1 L318.2,396.0 L318.7,396.0 L319.2,396.0 L319.7,396.0 L320.2,396.0 L320.7,395.9 L321.2,395.9 L321.7,395.9 L322.2,395.9 L322.7,395.8 L323.2,395.8 L323.7,395.8 L324.2,395.8 L324.7,395.8 L325.2,395.7 L325.7,395.7 L326.2,395.7 L326.7,395.6 L327.2,395.6 L327.7,395.6 L328.2,395.6 L328.7,395.5 L329.2,395.5 L329.7,395.5 L330.2,395.4 L330.7,395.4 L331.2,395.4 L331.7,395.3 L332.2,395.3 L332.7,395.3 L333.2,395.2 L333.7,395.2 L334.2,395.1 L334.7,395.1 L335.2,395.1 L335.7,395.0 L336.2,395.0 L336.7,394.9 L337.2,394.9 L337.7,394.8 L338.2,394.8 L338.7,394.7 L339.2,394.7 L339.7,394.6 L340.2,394.5 L340.7,394.5 L341.2,394.4 L341.7,394.4 L342.2,394.3 L342.7,394.2 L343.2,394.1 L343.7,394.1 L344.2,394.0 L344.7,393.9 L345.2,393.8 L345.7,393.7 L346.2,393.6 L346.7,393.5 L347.2,393.4 L347.7,393.3 L348.2,393.2 L348.7,393.1 L349.2,393.0 L349.7,392.9 L350.2,392.7 L350.7,392.6 L351.2,392.5 L351.7,392.3 L352.2,392.1 L352.7,392.0 L353.2,391.8 L353.7,391.6 L354.2,391.4 L354.7,391.2 L355.2,391.0 L355.7,390.8 L356.2,390.5 L356.7,390.3 L357.2,390.0 L357.7,389.7 L358.2,389.4 L358.7,389.1 L359.2,388.8 L359.7,388.4 L360.2,388.0 L360.7,387.6 L361.2,387.2 L361.7,386.8 L362.2,386.3 L362.7,385.9 L363.2,385.3 L363.7,384.8 L364.2,384.2 L364.7,383.6 L365.2,383.0 L365.7,382.3 L366.2,381.6 L366.7,380.8 L367.2,380.0 L367.7,379.1 L368.2,378.2 L368.7,377.3 L369.2,376.2 L369.7,375.1 L370.2,373.9 L370.7,372.7 L371.2,371.3 L371.7,369.8 L372.2,368.3 L372.7,366.6 L373.2,364.8 L373.7,362.8 L374.2,360.7 L374.7,358.5 L375.2,356.0 L375.7,353.4 L376.2,350.5 L376.7,347.5 L377.2,344.2 L377.7,340.6 L378.2,336.8 L378.7,332.8 L379.2,328.4 L379.7,323.8 L380.2,318.9 L380.7,313.7 L381.2,308.2 L381.7,302.4 L382.2,296.5 L382.7,290.3 L383.2,284.0 L383.7,277.6 L384.2,271.3 L384.7,265.1 L385.2,259.2 L385.7,253.8 L386.2,248.9 L386.7,244.9 L387.2,241.8 L387.7,239.8 L388.2,238.9 L388.7,239.2 L389.2,240.4 L389.7,242.6 L390.2,245.5 L390.7,249.2 L391.2,253.5 L391.7,258.3 L392.2,263.5 L392.7,268.9 L393.2,274.5 L393.7,280.2 L394.2,285.9 L394.7,291.6 L395.2,297.2 L395.7,302.7 L396.2,308.1 L396.7,313.2 L397.2,318.2 L397.7,323.0 L398.2,327.6 L398.7,332.0 L399.2,336.2 L399.7,340.1 L400.2,343.9 L400.7,347.5 L401.2,351.0 L401.7,354.2 L402.2,357.3 L402.7,360.2 L403.2,362.9 L403.7,365.5 L404.2,367.9 L404.7,370.2 L405.2,372.4 L405.7,374.4 L406.2,376.3 L406.7,378.1 L407.2,379.8 L407.7,381.4 L408.2,382.9 L408.7,384.3 L409.2,385.6 L409.7,386.8 L410.2,388.0 L410.7,389.1 L411.2,390.1 L411.7,391.0 L412.2,391.9 L412.7,392.7 L413.2,393.5 L413.7,394.2 L414.2,394.9 L414.7,395.5 L415.2,396.1 L415.7,396.6 L416.2,397.1 L416.7,397.6 L417.2,398.0 L417.7,398.5 L418.2,398.8 L418.7,399.2 L419.2,399.5 L419.7,399.9 L420.2,400.2 L420.7,400.4 L421.2,400.7 L421.7,400.9 L422.2,401.2 L422.7,401.4 L423.2,401.6 L423.7,401.8 L424.2,402.0 L424.7,402.2 L425.2,402.3 L425.7,402.5 L426.2,402.7 L426.7,402.8 L427.2,402.9 L427.7,403.1 L428.2,403.2 L428.7,403.3 L429.2,403.4 L429.7,403.5 L430.2,403.7 L430.7,403.8 L431.2,403.9 L431.7,404.0 L432.2,404.1 L432.7,404.1 L433.2,404.2 L433.7,404.3 L434.2,404.4 L434.7,404.5 L435.2,404.5 L435.7,404.6 L436.2,404.7 L436.7,404.8 L437.2,404.8 L437.7,404.9 L438.2,405.0 L438.7,405.0 L439.2,405.1 L439.7,405.1 L440.2,405.2 L440.7,405.3 L441.2,405.3 L441.7,405.4 L442.2,405.4 L442.7,405.5 L443.2,405.5 L443.7,405.6 L444.2,405.6 L444.7,405.6 L445.2,405.7 L445.7,405.7 L446.2,405.8 L446.7,405.8 L447.2,405.8 L447.7,405.9 L448.2,405.9 L448.7,406.0 L449.2,406.0 L449.7,406.0 L450.2,406.1 L450.7,406.1 L451.2,406.1 L451.7,406.2 L452.2,406.2 L452.7,406.2 L453.2,406.2 L453.7,406.3 L454.2,406.3 L454.7,406.3 L455.2,406.4 L455.7,406.4 L456.2,406.4 L456.7,406.4 L457.2,406.5 L457.7,406.5 L458.2,406.5" fill="none" stroke="#000099" stroke-width="1.5"/>
</g>
<rect x="45.3" y="8.5" width="163.7" height="189.8" fill="none" stroke="#000" stroke-width="1.5"/>
<rect x="211.7" y="8.5" width="163.8" height="189.8" fill="none" stroke="#000" stroke-width="1.5"/>
<rect x="378.0" y="8.5" width="163.6" height="189.8" fill="none" stroke="#000" stroke-width="1.5"/>
<rect x="128.8" y="225.6" width="163.4" height="189.7" fill="none" stroke="#000" stroke-width="1.5"/>
<rect x="295.2" y="225.6" width="163.6" height="189.7" fill="none" stroke="#000" stroke-width="1.5"/>
<line x1="188.75" y1="198.3" x2="188.75" y2="201.60000000000002" stroke="#000" stroke-width="1.3"/>
<line x1="163.07" y1="198.3" x2="163.07" y2="200.60000000000002" stroke="#000" stroke-width="1.3"/>
<line x1="137.40" y1="198.3" x2="137.40" y2="201.60000000000002" stroke="#000" stroke-width="1.3"/>
<line x1="111.73" y1="198.3" x2="111.73" y2="200.60000000000002" stroke="#000" stroke-width="1.3"/>
<line x1="86.05" y1="198.3" x2="86.05" y2="201.60000000000002" stroke="#000" stroke-width="1.3"/>
<line x1="60.38" y1="198.3" x2="60.38" y2="200.60000000000002" stroke="#000" stroke-width="1.3"/>
<text x="86.05" y="214.3" class="tk" text-anchor="middle">535</text>
<text x="137.40" y="214.3" class="tk" text-anchor="middle">530</text>
<text x="188.75" y="214.3" class="tk" text-anchor="middle">525</text>
<line x1="355.45" y1="198.3" x2="355.45" y2="201.60000000000002" stroke="#000" stroke-width="1.3"/>
<line x1="329.78" y1="198.3" x2="329.78" y2="200.60000000000002" stroke="#000" stroke-width="1.3"/>
<line x1="304.10" y1="198.3" x2="304.10" y2="201.60000000000002" stroke="#000" stroke-width="1.3"/>
<line x1="278.43" y1="198.3" x2="278.43" y2="200.60000000000002" stroke="#000" stroke-width="1.3"/>
<line x1="252.75" y1="198.3" x2="252.75" y2="201.60000000000002" stroke="#000" stroke-width="1.3"/>
<line x1="227.08" y1="198.3" x2="227.08" y2="200.60000000000002" stroke="#000" stroke-width="1.3"/>
<text x="252.75" y="214.3" class="tk" text-anchor="middle">535</text>
<text x="304.10" y="214.3" class="tk" text-anchor="middle">530</text>
<text x="355.45" y="214.3" class="tk" text-anchor="middle">525</text>
<line x1="521.65" y1="198.3" x2="521.65" y2="201.60000000000002" stroke="#000" stroke-width="1.3"/>
<line x1="495.98" y1="198.3" x2="495.98" y2="200.60000000000002" stroke="#000" stroke-width="1.3"/>
<line x1="470.30" y1="198.3" x2="470.30" y2="201.60000000000002" stroke="#000" stroke-width="1.3"/>
<line x1="444.62" y1="198.3" x2="444.62" y2="200.60000000000002" stroke="#000" stroke-width="1.3"/>
<line x1="418.95" y1="198.3" x2="418.95" y2="201.60000000000002" stroke="#000" stroke-width="1.3"/>
<line x1="393.28" y1="198.3" x2="393.28" y2="200.60000000000002" stroke="#000" stroke-width="1.3"/>
<text x="418.95" y="214.3" class="tk" text-anchor="middle">535</text>
<text x="470.30" y="214.3" class="tk" text-anchor="middle">530</text>
<text x="521.65" y="214.3" class="tk" text-anchor="middle">525</text>
<line x1="272.25" y1="415.3" x2="272.25" y2="418.6" stroke="#000" stroke-width="1.3"/>
<line x1="246.57" y1="415.3" x2="246.57" y2="417.6" stroke="#000" stroke-width="1.3"/>
<line x1="220.90" y1="415.3" x2="220.90" y2="418.6" stroke="#000" stroke-width="1.3"/>
<line x1="195.23" y1="415.3" x2="195.23" y2="417.6" stroke="#000" stroke-width="1.3"/>
<line x1="169.55" y1="415.3" x2="169.55" y2="418.6" stroke="#000" stroke-width="1.3"/>
<line x1="143.88" y1="415.3" x2="143.88" y2="417.6" stroke="#000" stroke-width="1.3"/>
<text x="169.55" y="431.8" class="tk" text-anchor="middle">535</text>
<text x="220.90" y="431.8" class="tk" text-anchor="middle">530</text>
<text x="272.25" y="431.8" class="tk" text-anchor="middle">525</text>
<line x1="438.75" y1="415.3" x2="438.75" y2="418.6" stroke="#000" stroke-width="1.3"/>
<line x1="413.07" y1="415.3" x2="413.07" y2="417.6" stroke="#000" stroke-width="1.3"/>
<line x1="387.40" y1="415.3" x2="387.40" y2="418.6" stroke="#000" stroke-width="1.3"/>
<line x1="361.72" y1="415.3" x2="361.72" y2="417.6" stroke="#000" stroke-width="1.3"/>
<line x1="336.05" y1="415.3" x2="336.05" y2="418.6" stroke="#000" stroke-width="1.3"/>
<line x1="310.38" y1="415.3" x2="310.38" y2="417.6" stroke="#000" stroke-width="1.3"/>
<text x="336.05" y="431.8" class="tk" text-anchor="middle">535</text>
<text x="387.40" y="431.8" class="tk" text-anchor="middle">530</text>
<text x="438.75" y="431.8" class="tk" text-anchor="middle">525</text>
<text x="48.4" y="24.2" class="pl">(a)</text>
<text x="214.9" y="24.2" class="pl">(b)</text>
<text x="381.3" y="24.2" class="pl">(c)</text>
<text x="132" y="242.2" class="pl">(d)</text>
<text x="298.4" y="242.2" class="pl">(e)</text>
<text x="76.65" y="83.90" class="lb" textLength="44.0" lengthAdjust="spacingAndGlyphs">O-Ce<tspan class="lbs">(IV)</tspan></text>
<text x="163.35" y="127.30" class="lb" textLength="44.3" lengthAdjust="spacingAndGlyphs">O-Ce<tspan class="lbs">(III)</tspan></text>
<text x="238.25" y="86.00" class="lb" textLength="44.6" lengthAdjust="spacingAndGlyphs">O-Ce<tspan class="lbs">(IV)</tspan></text>
<text x="321.95" y="135.30" class="lb" textLength="44.5" lengthAdjust="spacingAndGlyphs">O-Ce<tspan>(III)</tspan></text>
<text x="346.55" y="149.10" class="lb" textLength="24.6" lengthAdjust="spacingAndGlyphs">O-Yb</text>
<text x="408.45" y="84.30" class="lb" textLength="44.1" lengthAdjust="spacingAndGlyphs">O-Ce<tspan class="lbs">(IV)</tspan></text>
<text x="486.85" y="81.10" class="lb" textLength="45.0" lengthAdjust="spacingAndGlyphs">O-Ce<tspan>(III)</tspan></text>
<text x="509.45" y="119.00" class="lb" textLength="18.3" lengthAdjust="spacingAndGlyphs">O-Y</text>
<text x="161.25" y="299.40" class="lb" textLength="44.0" lengthAdjust="spacingAndGlyphs">O-Ce<tspan class="lbs">(IV)</tspan></text>
<text x="236.45" y="293.70" class="lb" textLength="44.4" lengthAdjust="spacingAndGlyphs">O-Ce<tspan>(III)</tspan></text>
<text x="258.85" y="333.50" class="lb" textLength="28.3" lengthAdjust="spacingAndGlyphs">O-Sm</text>
<text x="326.35" y="297.10" class="lb" textLength="44.0" lengthAdjust="spacingAndGlyphs">O-Ce<tspan class="lbs">(IV)</tspan></text>
<text x="313.05" y="352.30" class="lb" textLength="24.5" lengthAdjust="spacingAndGlyphs">O-La</text>
<text x="415.85" y="355.80" class="lb" textLength="43.3" lengthAdjust="spacingAndGlyphs">O-Ce<tspan class="lbs">(III)</tspan></text>
<line x1="130.20" y1="114.00" x2="102.86" y2="91.78" stroke="#000" stroke-width="1.3"/>
<polygon points="98.20,88.00 105.27,90.40 101.99,94.43" fill="#000"/>
<line x1="154.30" y1="154.30" x2="182.71" y2="132.82" stroke="#000" stroke-width="1.3"/>
<polygon points="187.50,129.20 183.48,135.50 180.35,131.35" fill="#000"/>
<line x1="291.20" y1="113.20" x2="264.15" y2="92.27" stroke="#000" stroke-width="1.3"/>
<polygon points="259.40,88.60 266.53,90.83 263.35,94.94" fill="#000"/>
<line x1="312.60" y1="162.60" x2="339.48" y2="141.50" stroke="#000" stroke-width="1.3"/>
<polygon points="344.20,137.80 340.30,144.17 337.09,140.08" fill="#000"/>
<line x1="327.80" y1="175.20" x2="355.73" y2="153.93" stroke="#000" stroke-width="1.3"/>
<polygon points="360.50,150.30 356.51,156.61 353.36,152.47" fill="#000"/>
<line x1="461.20" y1="113.50" x2="434.47" y2="91.96" stroke="#000" stroke-width="1.3"/>
<polygon points="429.80,88.20 436.88,90.57 433.62,94.62" fill="#000"/>
<line x1="475.70" y1="109.50" x2="504.47" y2="87.00" stroke="#000" stroke-width="1.3"/>
<polygon points="509.20,83.30 505.29,89.66 502.08,85.56" fill="#000"/>
<line x1="488.00" y1="146.30" x2="515.29" y2="124.72" stroke="#000" stroke-width="1.3"/>
<polygon points="520.00,121.00 516.12,127.38 512.90,123.30" fill="#000"/>
<line x1="213.90" y1="327.30" x2="187.19" y2="306.04" stroke="#000" stroke-width="1.3"/>
<polygon points="182.50,302.30 189.60,304.63 186.36,308.69" fill="#000"/>
<line x1="226.60" y1="321.50" x2="254.18" y2="299.81" stroke="#000" stroke-width="1.3"/>
<polygon points="258.90,296.10 255.00,302.47 251.79,298.38" fill="#000"/>
<line x1="239.10" y1="360.40" x2="265.02" y2="339.65" stroke="#000" stroke-width="1.3"/>
<polygon points="269.70,335.90 265.86,342.30 262.61,338.25" fill="#000"/>
<line x1="379.10" y1="325.70" x2="351.78" y2="303.76" stroke="#000" stroke-width="1.3"/>
<polygon points="347.10,300.00 354.19,302.36 350.93,306.41" fill="#000"/>
<line x1="354.50" y1="379.70" x2="327.40" y2="358.14" stroke="#000" stroke-width="1.3"/>
<polygon points="322.70,354.40 329.80,356.72 326.56,360.79" fill="#000"/>
<line x1="405.00" y1="382.60" x2="432.77" y2="360.89" stroke="#000" stroke-width="1.3"/>
<polygon points="437.50,357.20 433.59,363.56 430.38,359.46" fill="#000"/>
<text class="ax" transform="translate(20.2,176.3) rotate(-90)">Intensity (a.u.)</text>
<text class="ax" transform="translate(103.7,393.4) rotate(-90)">Intensity (a.u.)</text>
<text class="ax2" x="201.7" y="464.8" textLength="177.5" lengthAdjust="spacingAndGlyphs">Binding Energy (eV)</text>
</svg>
</body></html>
